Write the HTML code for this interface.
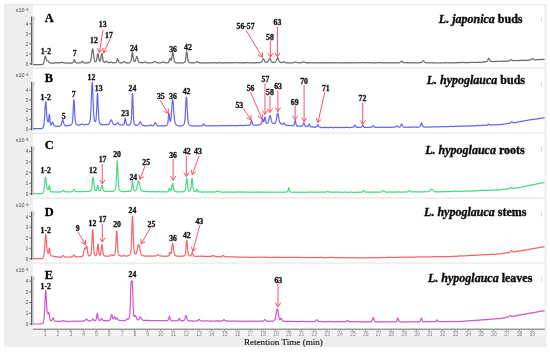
<!DOCTYPE html><html><head><meta charset="utf-8"><title>Chromatograms</title><style>html,body{margin:0;padding:0;background:#fff;}body{width:550px;height:352px;overflow:hidden;}svg{display:block;}.lb{font-family:"Liberation Serif","Times New Roman",serif;font-weight:bold;font-size:7.3px;fill:#111;stroke:#111;stroke-width:0.3px;}.tt{font-family:"Liberation Serif","Times New Roman",serif;font-weight:bold;font-size:12px;fill:#0a0a0a;stroke:#0a0a0a;stroke-width:0.35px;}.ax{font-family:"Liberation Sans",Arial,sans-serif;font-size:5.6px;fill:#444;}.xl{font-family:"Liberation Sans",Arial,sans-serif;font-size:6.4px;fill:#858585;}.rt{font-family:"Liberation Serif","Times New Roman",serif;font-size:8.4px;fill:#1a1a1a;stroke:#1a1a1a;stroke-width:0.15px;}</style></head><body>
<svg width="550" height="352" viewBox="0 0 550 352">
<rect x="0" y="0" width="550" height="352" fill="#ffffff"/>
<rect x="4" y="4" width="542.5" height="343" fill="#eeeeee"/>
<rect x="4" y="4" width="542.5" height="0.8" fill="#e4e4e4"/>
<rect x="33" y="4.8" width="511.5" height="324.2" fill="#ffffff"/>
<rect x="33" y="67.0" width="511.5" height="2" fill="#efefef"/>
<rect x="33" y="132.2" width="511.5" height="2" fill="#efefef"/>
<rect x="33" y="197.0" width="511.5" height="2" fill="#efefef"/>
<rect x="33" y="262.2" width="511.5" height="2" fill="#efefef"/>
<rect x="32.0" y="16.5" width="1.8" height="48.6" fill="#cdcdcd"/>
<rect x="31.0" y="16.5" width="1.1" height="48.6" fill="#5e5e5e"/>
<rect x="34.3" y="17.1" width="0.6" height="3.2" fill="#bbbbbb"/>
<rect x="29.2" y="63.45" width="2.2" height="0.9" fill="#666"/>
<text class="ax" x="25.7" y="65.80" textLength="2.4" lengthAdjust="spacingAndGlyphs">0</text>
<rect x="29.2" y="53.45" width="2.2" height="0.9" fill="#666"/>
<text class="ax" x="25.7" y="55.80" textLength="2.4" lengthAdjust="spacingAndGlyphs">1</text>
<rect x="29.2" y="43.45" width="2.2" height="0.9" fill="#666"/>
<text class="ax" x="25.7" y="45.80" textLength="2.4" lengthAdjust="spacingAndGlyphs">2</text>
<rect x="29.2" y="33.45" width="2.2" height="0.9" fill="#666"/>
<text class="ax" x="25.7" y="35.80" textLength="2.4" lengthAdjust="spacingAndGlyphs">3</text>
<rect x="29.2" y="23.45" width="2.2" height="0.9" fill="#666"/>
<text class="ax" x="25.7" y="25.80" textLength="2.4" lengthAdjust="spacingAndGlyphs">4</text>
<text class="ax" x="15.8" y="11.6" style="font-size:5.3px">x10</text>
<text class="ax" x="26.2" y="10.5" style="font-size:4.2px;fill:#444">6</text>
<rect x="541.2" y="17.1" width="0.7" height="4.4" fill="#c4c4c4"/>
<text class="tt" x="44.8" y="21.9" style="font-size:12.4px">A</text>
<text class="tt" x="522.5" y="22.5" text-anchor="end"><tspan font-style="italic">L. japonica</tspan> buds</text>
<polyline points="33,64.6 33.25,64.6 33.5,64.6 33.75,64.6 34.0,64.6 34.25,64.6 34.5,64.6 34.75,64.6 35.0,64.6 35.25,64.6 35.5,64.6 35.75,64.6 36.0,64.6 36.25,64.6 36.5,64.6 36.75,64.6 37.0,64.6 37.25,64.6 37.5,64.6 37.75,64.6 38.0,64.6 38.25,64.6 38.5,64.6 38.75,64.6 39.0,64.6 39.25,64.6 39.5,64.6 39.75,64.6 40.0,64.6 40.25,64.6 40.5,64.6 40.75,64.6 41.0,64.6 41.25,64.5 41.5,64.5 41.75,64.5 42.0,64.4 42.25,64.4 42.5,64.3 42.75,64.3 43.0,64.2 43.25,63.8 43.5,63.4 43.75,62.7 44.0,61.9 44.25,60.7 44.5,59.2 44.75,58.0 45.0,56.9 45.25,56.3 45.5,56.4 45.75,57.0 46.0,58.1 46.25,59.2 46.5,59.8 46.75,60.4 47.0,60.5 47.25,60.7 47.5,60.8 47.75,60.8 48.0,60.9 48.25,61.2 48.5,61.7 48.75,62.0 49.0,62.4 49.25,62.5 49.5,62.6 49.75,62.8 50.0,62.9 50.25,62.9 50.5,63.1 50.75,63.2 51.0,63.1 51.25,63.1 51.5,63.2 51.75,63.2 52.0,63.3 52.25,63.2 52.5,63.3 52.75,63.3 53.0,63.2 53.25,63.1 53.5,63.1 53.75,63.0 54.0,63.1 54.25,62.9 54.5,63.0 54.75,62.9 55.0,62.9 55.25,62.8 55.5,62.6 55.75,62.7 56.0,62.6 56.25,62.8 56.5,62.7 56.75,62.7 57.0,62.8 57.25,62.8 57.5,62.9 57.75,63.0 58.0,63.0 58.25,62.9 58.5,63.0 58.75,62.9 59.0,62.9 59.25,63.0 59.5,63.1 59.75,62.9 60.0,62.8 60.25,62.8 60.5,62.7 60.75,62.7 61.0,62.6 61.25,62.5 61.5,62.4 61.75,62.3 62.0,62.3 62.25,62.2 62.5,62.2 62.75,62.3 63.0,62.6 63.25,62.7 63.5,62.8 63.75,62.8 64.0,62.8 64.25,62.9 64.5,62.9 64.75,62.9 65.0,62.8 65.25,62.9 65.5,63.1 65.75,63.1 66.0,63.2 66.25,63.0 66.5,63.1 66.75,63.1 67.0,62.9 67.25,62.8 67.5,63.0 67.75,63.1 68.0,62.9 68.25,63.0 68.5,63.1 68.75,63.0 69.0,63.1 69.25,62.9 69.5,62.9 69.75,63.0 70.0,63.1 70.25,63.1 70.5,63.1 70.75,63.1 71.0,63.0 71.25,63.0 71.5,63.1 71.75,63.0 72.0,62.9 72.25,62.7 72.5,62.7 72.75,62.7 73.0,62.4 73.25,61.9 73.5,61.1 73.75,60.4 74.0,59.6 74.25,59.5 74.5,59.8 74.75,60.7 75.0,61.6 75.25,62.2 75.5,62.4 75.75,62.6 76.0,62.7 76.25,62.9 76.5,63.0 76.75,63.1 77.0,63.1 77.25,63.0 77.5,63.0 77.75,63.0 78.0,63.0 78.25,62.9 78.5,62.8 78.75,62.8 79.0,62.8 79.25,62.9 79.5,63.0 79.75,62.9 80.0,63.0 80.25,63.0 80.5,62.9 80.75,62.8 81.0,62.7 81.25,62.5 81.5,62.2 81.75,61.9 82.0,61.5 82.25,61.2 82.5,61.3 82.75,61.6 83.0,62.0 83.25,62.3 83.5,62.7 83.75,62.9 84.0,63.0 84.25,63.0 84.5,63.0 84.75,62.9 85.0,62.8 85.25,62.8 85.5,62.9 85.75,63.0 86.0,63.1 86.25,63.1 86.5,62.9 86.75,63.0 87.0,62.8 87.25,62.8 87.5,62.8 87.75,62.9 88.0,62.7 88.25,62.8 88.5,62.7 88.75,62.7 89.0,62.6 89.25,62.6 89.5,62.5 89.75,62.1 90.0,62.1 90.25,61.7 90.5,61.3 90.75,60.6 91.0,59.3 91.25,57.6 91.5,55.8 91.75,53.5 92.0,51.3 92.25,49.6 92.5,48.9 92.75,48.9 93.0,50.0 93.25,51.7 93.5,53.9 93.75,56.0 94.0,58.0 94.25,59.4 94.5,60.5 94.75,61.0 95.0,61.3 95.25,61.6 95.5,61.8 95.75,61.8 96.0,61.5 96.25,61.3 96.5,60.6 96.75,59.6 97.0,57.9 97.25,56.1 97.5,54.6 97.75,53.7 98.0,53.6 98.25,54.3 98.5,55.8 98.75,57.4 99.0,59.1 99.25,60.1 99.5,61.0 99.75,61.2 100.0,61.2 100.25,60.9 100.5,59.9 100.75,58.9 101.0,57.3 101.25,55.6 101.5,54.2 101.75,53.5 102.0,54.0 102.25,55.0 102.5,56.6 102.75,58.4 103.0,60.0 103.25,61.1 103.5,61.6 103.75,61.9 104.0,62.1 104.25,62.4 104.5,62.5 104.75,62.4 105.0,62.3 105.25,62.3 105.5,62.0 105.75,61.7 106.0,61.6 106.25,61.3 106.5,61.2 106.75,61.2 107.0,61.4 107.25,61.9 107.5,62.1 107.75,62.3 108.0,62.5 108.25,62.6 108.5,62.7 108.75,62.7 109.0,62.7 109.25,62.8 109.5,62.7 109.75,62.6 110.0,62.4 110.25,62.3 110.5,62.1 110.75,62.0 111.0,62.0 111.25,62.0 111.5,62.2 111.75,62.3 112.0,62.5 112.25,62.7 112.5,62.7 112.75,62.9 113.0,63.0 113.25,62.8 113.5,62.9 113.75,62.8 114.0,62.8 114.25,62.7 114.5,62.8 114.75,62.7 115.0,62.7 115.25,62.8 115.5,62.8 115.75,62.7 116.0,62.6 116.25,62.4 116.5,61.9 116.75,61.2 117.0,60.2 117.25,59.3 117.5,58.6 117.75,58.7 118.0,59.4 118.25,60.5 118.5,61.4 118.75,61.9 119.0,62.3 119.25,62.6 119.5,62.7 119.75,62.8 120.0,62.7 120.25,62.8 120.5,62.7 120.75,62.8 121.0,62.9 121.25,62.9 121.5,62.8 121.75,62.9 122.0,62.9 122.25,62.8 122.5,62.6 122.75,62.5 123.0,62.3 123.25,62.1 123.5,61.8 123.75,61.7 124.0,61.5 124.25,61.5 124.5,61.9 124.75,62.0 125.0,62.3 125.25,62.4 125.5,62.5 125.75,62.6 126.0,62.7 126.25,62.7 126.5,62.9 126.75,63.0 127.0,62.9 127.25,63.0 127.5,63.1 127.75,63.1 128.0,63.1 128.25,63.0 128.5,63.0 128.75,62.8 129.0,62.8 129.25,62.8 129.5,62.6 129.75,62.5 130.0,62.3 130.25,62.1 130.5,61.9 130.75,61.6 131.0,61.1 131.25,59.9 131.5,58.4 131.75,56.2 132.0,54.1 132.25,52.7 132.5,52.4 132.75,53.4 133.0,55.5 133.25,57.7 133.5,59.5 133.75,60.6 134.0,61.4 134.25,61.5 134.5,61.7 134.75,61.5 135.0,61.3 135.25,61.0 135.5,60.2 135.75,59.4 136.0,58.6 136.25,57.6 136.5,56.8 136.75,56.5 137.0,56.7 137.25,57.3 137.5,58.2 137.75,59.1 138.0,60.0 138.25,60.7 138.5,61.4 138.75,62.0 139.0,62.3 139.25,62.3 139.5,62.3 139.75,62.5 140.0,62.5 140.25,62.5 140.5,62.6 140.75,62.6 141.0,62.7 141.25,62.7 141.5,62.7 141.75,62.7 142.0,62.9 142.25,62.8 142.5,62.7 142.75,62.8 143.0,62.7 143.25,62.5 143.5,62.7 143.75,62.4 144.0,62.5 144.25,62.2 144.5,62.0 144.75,61.9 145.0,61.9 145.25,62.0 145.5,62.1 145.75,62.2 146.0,62.4 146.25,62.5 146.5,62.8 146.75,62.7 147.0,62.8 147.25,62.9 147.5,62.9 147.75,62.9 148.0,62.9 148.25,62.9 148.5,63.0 148.75,63.0 149.0,63.0 149.25,62.8 149.5,62.7 149.75,62.9 150.0,62.8 150.25,62.8 150.5,62.8 150.75,63.0 151.0,62.9 151.25,62.8 151.5,62.7 151.75,62.7 152.0,62.8 152.25,62.8 152.5,62.9 152.75,62.6 153.0,62.6 153.25,62.4 153.5,62.2 153.75,62.0 154.0,61.8 154.25,61.8 154.5,61.7 154.75,61.6 155.0,61.4 155.25,61.6 155.5,61.6 155.75,61.9 156.0,61.9 156.25,62.1 156.5,62.3 156.75,62.6 157.0,62.8 157.25,62.9 157.5,62.9 157.75,62.9 158.0,63.0 158.25,62.8 158.5,62.9 158.75,63.0 159.0,62.9 159.25,63.0 159.5,63.0 159.75,62.9 160.0,62.8 160.25,62.9 160.5,62.9 160.75,63.0 161.0,63.0 161.25,62.9 161.5,62.8 161.75,62.6 162.0,62.6 162.25,62.4 162.5,62.3 162.75,62.2 163.0,62.0 163.25,61.9 163.5,62.2 163.75,62.4 164.0,62.4 164.25,62.5 164.5,62.5 164.75,62.5 165.0,62.8 165.25,62.9 165.5,62.8 165.75,62.7 166.0,62.8 166.25,62.9 166.5,62.8 166.75,62.8 167.0,62.7 167.25,62.8 167.5,62.9 167.75,62.9 168.0,62.9 168.25,62.7 168.5,62.3 168.75,62.0 169.0,61.3 169.25,60.3 169.5,59.5 169.75,58.7 170.0,58.4 170.25,58.4 170.5,59.1 170.75,59.8 171.0,60.4 171.25,60.3 171.5,59.4 171.75,58.3 172.0,56.6 172.25,54.8 172.5,53.1 172.75,52.3 173.0,52.7 173.25,54.1 173.5,55.8 173.75,57.8 174.0,59.6 174.25,60.9 174.5,61.7 174.75,62.1 175.0,62.3 175.25,62.5 175.5,62.7 175.75,62.6 176.0,62.6 176.25,62.8 176.5,62.9 176.75,62.8 177.0,62.7 177.25,62.7 177.5,62.9 177.75,63.0 178.0,63.0 178.25,62.8 178.5,62.8 178.75,62.9 179.0,62.8 179.25,62.9 179.5,62.8 179.75,62.8 180.0,62.8 180.25,62.9 180.5,63.0 180.75,62.8 181.0,62.8 181.25,62.9 181.5,63.0 181.75,63.0 182.0,63.0 182.25,63.1 182.5,62.9 182.75,62.9 183.0,62.8 183.25,62.6 183.5,62.8 183.75,62.7 184.0,62.5 184.25,62.4 184.5,62.4 184.75,62.3 185.0,62.0 185.25,61.4 185.5,60.2 185.75,58.3 186.0,56.0 186.25,53.7 186.5,52.1 186.75,51.6 187.0,52.5 187.25,54.6 187.5,57.1 187.75,59.2 188.0,60.5 188.25,61.5 188.5,62.0 188.75,62.2 189.0,62.3 189.25,62.6 189.5,62.6 189.75,62.8 190.0,62.7 190.25,62.8 190.5,62.7 190.75,62.8 191.0,62.9 191.25,62.8 191.5,62.9 191.75,63.0 192.0,62.9 192.25,63.0 192.5,62.9 192.75,63.0 193.0,62.9 193.25,62.8 193.5,62.9 193.75,62.8 194.0,62.7 194.25,62.8 194.5,62.8 194.75,62.8 195.0,62.7 195.25,62.7 195.5,62.6 195.75,62.3 196.0,62.1 196.25,62.0 196.5,61.9 196.75,61.7 197.0,61.7 197.25,61.6 197.5,61.7 197.75,62.0 198.0,62.3 198.25,62.6 198.5,62.7 198.75,62.7 199.0,62.6 199.25,62.7 199.5,62.7 199.75,62.7 200.0,62.7 200.25,62.7 200.5,62.8 200.75,62.7 201.0,62.9 201.25,62.9 201.5,62.9 201.75,62.9 202.0,63.0 202.25,63.1 202.5,62.9 202.75,63.0 203.0,62.8 203.25,62.9 203.5,62.8 203.75,62.7 204.0,62.7 204.25,62.9 204.5,62.8 204.75,62.9 205.0,62.8 205.25,62.8 205.5,62.9 205.75,62.9 206.0,62.7 206.25,62.8 206.5,62.8 206.75,62.8 207.0,63.0 207.25,63.1 207.5,63.0 207.75,62.8 208.0,62.8 208.25,62.9 208.5,62.9 208.75,62.8 209.0,62.9 209.25,62.9 209.5,62.8 209.75,62.7 210.0,62.9 210.25,63.0 210.5,63.0 210.75,63.0 211.0,62.9 211.25,62.9 211.5,62.8 211.75,62.9 212.0,62.8 212.25,62.7 212.5,62.6 212.75,62.6 213.0,62.6 213.25,62.6 213.5,62.7 213.75,62.9 214.0,62.8 214.25,62.7 214.5,62.7 214.75,62.9 215.0,62.7 215.25,62.9 215.5,62.9 215.75,62.9 216.0,62.9 216.25,63.0 216.5,63.0 216.75,63.1 217.0,63.1 217.25,62.9 217.5,62.8 217.75,62.9 218.0,62.8 218.25,62.7 218.5,62.8 218.75,62.7 219.0,62.6 219.25,62.6 219.5,62.7 219.75,62.7 220.0,62.8 220.25,62.9 220.5,63.0 220.75,62.9 221.0,63.0 221.25,63.0 221.5,62.9 221.75,62.9 222.0,62.7 222.25,62.8 222.5,62.9 222.75,62.9 223.0,62.9 223.25,62.9 223.5,63.0 223.75,62.9 224.0,62.7 224.25,62.9 224.5,62.9 224.75,62.8 225.0,62.7 225.25,62.7 225.5,62.7 225.75,62.7 226.0,62.9 226.25,62.8 226.5,62.7 226.75,62.8 227.0,62.7 227.25,62.7 227.5,62.7 227.75,62.9 228.0,63.0 228.25,63.0 228.5,62.8 228.75,62.7 229.0,62.8 229.25,62.9 229.5,63.0 229.75,62.9 230.0,62.9 230.25,62.7 230.5,62.6 230.75,62.6 231.0,62.8 231.25,62.9 231.5,62.8 231.75,62.8 232.0,62.8 232.25,62.7 232.5,62.6 232.75,62.8 233.0,62.7 233.25,62.7 233.5,62.7 233.75,62.8 234.0,62.8 234.25,62.8 234.5,62.7 234.75,62.8 235.0,62.8 235.25,62.7 235.5,62.7 235.75,62.7 236.0,62.7 236.25,62.7 236.5,62.7 236.75,62.6 237.0,62.6 237.25,62.6 237.5,62.5 237.75,62.6 238.0,62.7 238.25,62.7 238.5,62.8 238.75,62.9 239.0,62.9 239.25,62.9 239.5,62.9 239.75,62.7 240.0,62.9 240.25,62.9 240.5,62.8 240.75,62.7 241.0,62.8 241.25,62.6 241.5,62.7 241.75,62.9 242.0,62.9 242.25,63.0 242.5,63.0 242.75,63.0 243.0,62.9 243.25,63.0 243.5,62.9 243.75,62.7 244.0,62.8 244.25,62.8 244.5,62.9 244.75,62.9 245.0,62.8 245.25,62.8 245.5,62.6 245.75,62.7 246.0,62.6 246.25,62.7 246.5,62.8 246.75,62.7 247.0,62.7 247.25,62.7 247.5,62.7 247.75,62.6 248.0,62.6 248.25,62.8 248.5,62.9 248.75,62.8 249.0,62.7 249.25,62.7 249.5,62.8 249.75,62.8 250.0,62.8 250.25,62.7 250.5,62.8 250.75,62.7 251.0,62.8 251.25,62.9 251.5,62.7 251.75,62.7 252.0,62.6 252.25,62.8 252.5,62.8 252.75,62.9 253.0,62.9 253.25,63.0 253.5,62.8 253.75,62.9 254.0,62.9 254.25,62.9 254.5,62.8 254.75,62.9 255.0,62.8 255.25,62.6 255.5,62.8 255.75,62.8 256.0,62.9 256.25,62.7 256.5,62.7 256.75,62.7 257.0,62.7 257.25,62.7 257.5,62.8 257.75,62.7 258.0,62.8 258.25,62.8 258.5,62.7 258.75,62.8 259.0,62.8 259.25,62.7 259.5,62.7 259.75,62.7 260.0,62.8 260.25,62.6 260.5,62.4 260.75,62.4 261.0,62.2 261.25,62.2 261.5,62.0 261.75,61.7 262.0,61.1 262.25,60.7 262.5,60.0 262.75,59.5 263.0,59.2 263.25,58.9 263.5,58.9 263.75,59.0 264.0,59.3 264.25,59.9 264.5,60.4 264.75,61.1 265.0,61.4 265.25,61.9 265.5,62.0 265.75,62.1 266.0,62.3 266.25,62.5 266.5,62.4 266.75,62.2 267.0,62.3 267.25,62.1 267.5,62.0 267.75,61.8 268.0,61.7 268.25,61.2 268.5,60.9 268.75,60.2 269.0,59.6 269.25,59.0 269.5,58.8 269.75,58.6 270.0,58.7 270.25,59.0 270.5,59.4 270.75,60.0 271.0,60.7 271.25,61.2 271.5,61.5 271.75,61.8 272.0,62.2 272.25,62.4 272.5,62.3 272.75,62.5 273.0,62.4 273.25,62.4 273.5,62.5 273.75,62.6 274.0,62.4 274.25,62.4 274.5,62.4 274.75,62.3 275.0,62.3 275.25,62.2 275.5,61.9 275.75,61.6 276.0,61.2 276.25,60.7 276.5,60.1 276.75,59.5 277.0,58.7 277.25,58.1 277.5,57.7 277.75,57.7 278.0,58.0 278.25,58.6 278.5,59.4 278.75,60.2 279.0,60.9 279.25,61.3 279.5,61.8 279.75,62.0 280.0,62.2 280.25,62.5 280.5,62.4 280.75,62.5 281.0,62.6 281.25,62.7 281.5,62.5 281.75,62.4 282.0,62.4 282.25,62.4 282.5,62.3 282.75,62.4 283.0,62.3 283.25,62.1 283.5,61.9 283.75,61.7 284.0,61.7 284.25,61.9 284.5,62.0 284.75,62.1 285.0,62.3 285.25,62.5 285.5,62.7 285.75,62.7 286.0,62.8 286.25,62.8 286.5,62.8 286.75,62.7 287.0,62.7 287.25,62.9 287.5,62.8 287.75,62.8 288.0,62.9 288.25,62.8 288.5,62.9 288.75,62.8 289.0,62.8 289.25,62.9 289.5,62.9 289.75,62.8 290.0,62.8 290.25,62.7 290.5,62.8 290.75,62.8 291.0,62.9 291.25,62.9 291.5,62.8 291.75,62.8 292.0,62.9 292.25,62.8 292.5,62.8 292.75,62.7 293.0,62.6 293.25,62.6 293.5,62.7 293.75,62.7 294.0,62.5 294.25,62.5 294.5,62.3 294.75,62.1 295.0,62.1 295.25,62.0 295.5,62.0 295.75,62.0 296.0,62.2 296.25,62.3 296.5,62.4 296.75,62.6 297.0,62.6 297.25,62.6 297.5,62.6 297.75,62.5 298.0,62.6 298.25,62.6 298.5,62.7 298.75,62.7 299.0,62.8 299.25,62.8 299.5,62.8 299.75,62.9 300.0,62.8 300.25,62.9 300.5,62.7 300.75,62.6 301.0,62.7 301.25,62.7 301.5,62.8 301.75,62.6 302.0,62.5 302.25,62.4 302.5,62.5 302.75,62.2 303.0,62.0 303.25,61.9 303.5,62.0 303.75,61.9 304.0,61.9 304.25,62.0 304.5,62.1 304.75,62.4 305.0,62.6 305.25,62.5 305.5,62.6 305.75,62.6 306.0,62.7 306.25,62.9 306.5,62.9 306.75,62.8 307.0,62.7 307.25,62.9 307.5,63.0 307.75,62.8 308.0,62.8 308.25,62.9 308.5,62.8 308.75,62.8 309.0,62.9 309.25,62.9 309.5,62.7 309.75,62.8 310.0,62.7 310.25,62.6 310.5,62.5 310.75,62.7 311.0,62.7 311.25,62.7 311.5,62.7 311.75,62.8 312.0,62.7 312.25,62.7 312.5,62.7 312.75,62.8 313.0,62.8 313.25,62.9 313.5,62.9 313.75,62.7 314.0,62.8 314.25,63.0 314.5,62.9 314.75,62.9 315.0,62.7 315.25,62.9 315.5,62.8 315.75,62.9 316.0,62.9 316.25,62.9 316.5,62.9 316.75,62.8 317.0,62.9 317.25,63.0 317.5,63.0 317.75,63.0 318.0,62.8 318.25,62.7 318.5,62.9 318.75,62.8 319.0,62.7 319.25,62.8 319.5,62.8 319.75,62.7 320.0,62.7 320.25,62.7 320.5,62.9 320.75,63.0 321.0,62.8 321.25,62.8 321.5,62.9 321.75,62.9 322.0,62.8 322.25,62.8 322.5,62.9 322.75,62.7 323.0,62.9 323.25,63.0 323.5,62.9 323.75,63.0 324.0,62.9 324.25,62.9 324.5,62.7 324.75,62.8 325.0,62.7 325.25,62.8 325.5,62.7 325.75,62.8 326.0,62.7 326.25,62.6 326.5,62.8 326.75,62.8 327.0,62.7 327.25,62.9 327.5,63.0 327.75,62.9 328.0,62.8 328.25,62.9 328.5,62.7 328.75,62.8 329.0,62.9 329.25,62.8 329.5,62.7 329.75,62.8 330.0,62.9 330.25,62.8 330.5,62.7 330.75,62.9 331.0,62.7 331.25,62.7 331.5,62.7 331.75,62.7 332.0,62.8 332.25,62.7 332.5,62.7 332.75,62.7 333.0,62.8 333.25,62.7 333.5,62.9 333.75,62.8 334.0,62.9 334.25,62.7 334.5,62.8 334.75,62.8 335.0,62.8 335.25,62.8 335.5,62.7 335.75,62.6 336.0,62.8 336.25,62.8 336.5,62.7 336.75,62.7 337.0,62.7 337.25,62.9 337.5,62.8 337.75,62.9 338.0,62.8 338.25,62.7 338.5,62.6 338.75,62.6 339.0,62.8 339.25,62.8 339.5,62.8 339.75,62.9 340.0,63.0 340.25,63.0 340.5,63.0 340.75,63.0 341.0,62.9 341.25,62.8 341.5,62.8 341.75,62.9 342.0,62.8 342.25,62.8 342.5,62.8 342.75,62.7 343.0,62.8 343.25,62.8 343.5,62.8 343.75,62.9 344.0,62.9 344.25,62.7 344.5,62.8 344.75,62.8 345.0,62.9 345.25,62.8 345.5,62.8 345.75,62.9 346.0,62.8 346.25,62.7 346.5,62.7 346.75,62.8 347.0,62.9 347.25,62.9 347.5,62.7 347.75,62.8 348.0,62.7 348.25,62.7 348.5,62.6 348.75,62.7 349.0,62.7 349.25,62.9 349.5,63.0 349.75,63.0 350.0,63.1 350.25,63.0 350.5,62.9 350.75,62.9 351.0,62.7 351.25,62.9 351.5,62.7 351.75,62.7 352.0,62.8 352.25,62.7 352.5,62.8 352.75,62.9 353.0,62.9 353.25,62.9 353.5,62.8 353.75,62.8 354.0,62.8 354.25,62.7 354.5,62.8 354.75,62.8 355.0,62.8 355.25,62.7 355.5,62.7 355.75,62.8 356.0,62.8 356.25,62.8 356.5,62.8 356.75,62.8 357.0,62.7 357.25,62.8 357.5,62.7 357.75,62.6 358.0,62.8 358.25,62.7 358.5,62.8 358.75,62.7 359.0,62.7 359.25,62.7 359.5,62.9 359.75,62.9 360.0,62.7 360.25,62.9 360.5,62.9 360.75,62.8 361.0,62.8 361.25,62.9 361.5,62.9 361.75,62.8 362.0,62.8 362.25,62.7 362.5,62.6 362.75,62.7 363.0,62.7 363.25,62.7 363.5,62.7 363.75,62.7 364.0,62.7 364.25,62.7 364.5,62.8 364.75,62.8 365.0,62.8 365.25,62.7 365.5,62.8 365.75,62.9 366.0,62.9 366.25,63.0 366.5,62.8 366.75,62.7 367.0,62.6 367.25,62.6 367.5,62.7 367.75,62.6 368.0,62.7 368.25,62.8 368.5,62.8 368.75,62.7 369.0,62.9 369.25,62.7 369.5,62.7 369.75,62.7 370.0,62.7 370.25,62.7 370.5,62.7 370.75,62.9 371.0,62.9 371.25,62.9 371.5,63.0 371.75,62.9 372.0,62.9 372.25,62.9 372.5,62.9 372.75,62.9 373.0,62.8 373.25,62.9 373.5,62.9 373.75,62.9 374.0,63.0 374.25,63.0 374.5,63.0 374.75,62.9 375.0,62.8 375.25,62.9 375.5,63.0 375.75,62.8 376.0,62.8 376.25,62.9 376.5,63.0 376.75,62.8 377.0,62.7 377.25,62.6 377.5,62.7 377.75,62.7 378.0,62.8 378.25,62.7 378.5,62.7 378.75,62.7 379.0,62.6 379.25,62.7 379.5,62.6 379.75,62.6 380.0,62.7 380.25,62.7 380.5,62.6 380.75,62.7 381.0,62.8 381.25,62.8 381.5,62.9 381.75,63.0 382.0,63.0 382.25,62.8 382.5,62.8 382.75,62.7 383.0,62.8 383.25,62.9 383.5,63.0 383.75,62.8 384.0,62.8 384.25,62.7 384.5,62.6 384.75,62.7 385.0,62.8 385.25,62.8 385.5,62.9 385.75,62.9 386.0,62.8 386.25,62.9 386.5,62.9 386.75,62.8 387.0,62.9 387.25,62.9 387.5,62.9 387.75,62.8 388.0,62.7 388.25,62.8 388.5,62.9 388.75,62.7 389.0,62.7 389.25,62.8 389.5,62.8 389.75,62.8 390.0,62.9 390.25,62.9 390.5,63.0 390.75,62.9 391.0,62.8 391.25,62.7 391.5,62.8 391.75,62.7 392.0,62.7 392.25,62.8 392.5,62.9 392.75,62.8 393.0,62.9 393.25,62.9 393.5,63.0 393.75,62.9 394.0,62.7 394.25,62.8 394.5,62.9 394.75,62.9 395.0,62.8 395.25,62.7 395.5,62.8 395.75,62.9 396.0,62.8 396.25,62.9 396.5,62.9 396.75,62.9 397.0,62.8 397.25,62.7 397.5,62.8 397.75,62.9 398.0,63.0 398.25,62.9 398.5,62.9 398.75,62.9 399.0,62.8 399.25,62.6 399.5,62.6 399.75,62.6 400.0,62.5 400.25,62.4 400.5,62.2 400.75,62.0 401.0,61.7 401.25,61.3 401.5,61.1 401.75,61.2 402.0,61.1 402.25,61.4 402.5,61.7 402.75,62.1 403.0,62.3 403.25,62.4 403.5,62.4 403.75,62.4 404.0,62.6 404.25,62.8 404.5,62.8 404.75,62.8 405.0,62.7 405.25,62.6 405.5,62.6 405.75,62.7 406.0,62.8 406.25,62.9 406.5,62.7 406.75,62.7 407.0,62.7 407.25,62.6 407.5,62.8 407.75,62.8 408.0,62.9 408.25,62.9 408.5,62.7 408.75,62.7 409.0,62.7 409.25,62.8 409.5,62.7 409.75,62.8 410.0,62.9 410.25,62.7 410.5,62.7 410.75,62.8 411.0,62.8 411.25,62.8 411.5,62.8 411.75,62.6 412.0,62.7 412.25,62.8 412.5,62.7 412.75,62.8 413.0,63.0 413.25,62.8 413.5,62.9 413.75,62.9 414.0,62.9 414.25,62.9 414.5,62.8 414.75,62.8 415.0,62.9 415.25,62.7 415.5,62.7 415.75,62.9 416.0,62.7 416.25,62.6 416.5,62.8 416.75,62.8 417.0,63.0 417.25,62.9 417.5,63.0 417.75,63.0 418.0,62.9 418.25,62.9 418.5,63.0 418.75,62.8 419.0,62.7 419.25,62.8 419.5,62.7 419.75,62.7 420.0,62.6 420.25,62.5 420.5,62.6 420.75,62.6 421.0,62.7 421.25,62.7 421.5,62.5 421.75,62.4 422.0,62.1 422.25,61.7 422.5,61.3 422.75,61.0 423.0,60.8 423.25,60.7 423.5,60.8 423.75,60.9 424.0,61.3 424.25,61.8 424.5,61.9 424.75,62.2 425.0,62.4 425.25,62.6 425.5,62.5 425.75,62.6 426.0,62.7 426.25,62.8 426.5,62.9 426.75,62.8 427.0,62.7 427.25,62.7 427.5,62.7 427.75,62.7 428.0,62.8 428.25,62.9 428.5,62.8 428.75,62.8 429.0,62.9 429.25,62.9 429.5,63.0 429.75,63.0 430.0,63.0 430.25,63.0 430.5,62.8 430.75,62.8 431.0,62.7 431.25,62.7 431.5,62.7 431.75,62.7 432.0,62.8 432.25,62.9 432.5,62.9 432.75,62.8 433.0,62.7 433.25,62.9 433.5,63.0 433.75,62.8 434.0,62.7 434.25,62.7 434.5,62.8 434.75,62.7 435.0,62.8 435.25,62.8 435.5,62.8 435.75,62.9 436.0,62.8 436.25,62.9 436.5,62.9 436.75,63.0 437.0,63.0 437.25,63.0 437.5,63.0 437.75,63.0 438.0,63.0 438.25,62.8 438.5,62.9 438.75,62.9 439.0,62.8 439.25,63.0 439.5,62.8 439.75,62.8 440.0,62.9 440.25,62.7 440.5,62.9 440.75,62.9 441.0,62.8 441.25,62.8 441.5,62.8 441.75,62.9 442.0,63.0 442.25,63.0 442.5,63.0 442.75,63.0 443.0,62.9 443.25,62.9 443.5,63.0 443.75,63.0 444.0,63.0 444.25,62.9 444.5,62.7 444.75,62.8 445.0,62.8 445.25,62.7 445.5,62.7 445.75,62.8 446.0,62.8 446.25,62.8 446.5,62.8 446.75,62.9 447.0,62.9 447.25,62.7 447.5,62.6 447.75,62.7 448.0,62.8 448.25,62.9 448.5,62.7 448.75,62.8 449.0,62.7 449.25,62.7 449.5,62.6 449.75,62.6 450.0,62.7 450.25,62.8 450.5,62.8 450.75,62.9 451.0,62.9 451.25,62.9 451.5,62.9 451.75,63.0 452.0,63.0 452.25,62.8 452.5,62.9 452.75,62.7 453.0,62.6 453.25,62.7 453.5,62.8 453.75,62.9 454.0,62.9 454.25,62.9 454.5,62.7 454.75,62.8 455.0,62.9 455.25,62.9 455.5,62.9 455.75,62.7 456.0,62.8 456.25,62.9 456.5,62.7 456.75,62.7 457.0,62.6 457.25,62.5 457.5,62.7 457.75,62.6 458.0,62.7 458.25,62.7 458.5,62.6 458.75,62.6 459.0,62.8 459.25,62.7 459.5,62.5 459.75,62.4 460.0,62.5 460.25,62.4 460.5,62.4 460.75,62.6 461.0,62.6 461.25,62.7 461.5,62.6 461.75,62.7 462.0,62.5 462.25,62.5 462.5,62.4 462.75,62.5 463.0,62.5 463.25,62.4 463.5,62.6 463.75,62.7 464.0,62.7 464.25,62.6 464.5,62.6 464.75,62.7 465.0,62.6 465.25,62.6 465.5,62.5 465.75,62.5 466.0,62.6 466.25,62.6 466.5,62.6 466.75,62.4 467.0,62.5 467.25,62.6 467.5,62.7 467.75,62.5 468.0,62.6 468.25,62.5 468.5,62.5 468.75,62.5 469.0,62.6 469.25,62.5 469.5,62.5 469.75,62.5 470.0,62.6 470.25,62.6 470.5,62.6 470.75,62.4 471.0,62.5 471.25,62.4 471.5,62.3 471.75,62.3 472.0,62.4 472.25,62.4 472.5,62.3 472.75,62.3 473.0,62.3 473.25,62.3 473.5,62.3 473.75,62.4 474.0,62.5 474.25,62.5 474.5,62.5 474.75,62.5 475.0,62.5 475.25,62.5 475.5,62.6 475.75,62.4 476.0,62.3 476.25,62.4 476.5,62.3 476.75,62.4 477.0,62.5 477.25,62.4 477.5,62.4 477.75,62.3 478.0,62.2 478.25,62.3 478.5,62.4 478.75,62.4 479.0,62.5 479.25,62.4 479.5,62.5 479.75,62.4 480.0,62.5 480.25,62.5 480.5,62.5 480.75,62.3 481.0,62.2 481.25,62.2 481.5,62.2 481.75,62.3 482.0,62.3 482.25,62.2 482.5,62.1 482.75,62.0 483.0,61.9 483.25,62.1 483.5,62.2 483.75,62.0 484.0,61.9 484.25,61.9 484.5,62.0 484.75,61.9 485.0,61.7 485.25,61.8 485.5,61.7 485.75,61.7 486.0,61.8 486.25,61.7 486.5,61.5 486.75,61.5 487.0,61.3 487.25,61.1 487.5,60.7 487.75,60.2 488.0,59.6 488.25,59.0 488.5,58.4 488.75,58.2 489.0,58.6 489.25,58.9 489.5,59.5 489.75,60.0 490.0,60.5 490.25,61.0 490.5,61.3 490.75,61.3 491.0,61.4 491.25,61.3 491.5,61.3 491.75,61.4 492.0,61.4 492.25,61.5 492.5,61.6 492.75,61.6 493.0,61.5 493.25,61.6 493.5,61.7 493.75,61.5 494.0,61.5 494.25,61.4 494.5,61.5 494.75,61.5 495.0,61.5 495.25,61.4 495.5,61.3 495.75,61.4 496.0,61.3 496.25,61.3 496.5,61.2 496.75,61.3 497.0,61.4 497.25,61.5 497.5,61.6 497.75,61.6 498.0,61.4 498.25,61.4 498.5,61.5 498.75,61.3 499.0,61.4 499.25,61.4 499.5,61.4 499.75,61.3 500.0,61.2 500.25,61.1 500.5,61.1 500.75,61.3 501.0,61.2 501.25,61.3 501.5,61.3 501.75,61.4 502.0,61.3 502.25,61.2 502.5,61.1 502.75,61.1 503.0,61.2 503.25,61.1 503.5,61.0 503.75,61.1 504.0,61.2 504.25,61.3 504.5,61.4 504.75,61.4 505.0,61.3 505.25,61.2 505.5,61.1 505.75,61.0 506.0,61.0 506.25,61.1 506.5,61.1 506.75,61.1 507.0,61.2 507.25,61.2 507.5,61.2 507.75,61.2 508.0,61.2 508.25,61.1 508.5,60.9 508.75,60.9 509.0,60.7 509.25,60.9 509.5,60.7 509.75,60.6 510.0,60.2 510.25,59.9 510.5,59.8 510.75,59.6 511.0,59.6 511.25,59.6 511.5,59.9 511.75,60.0 512.0,60.1 512.25,60.5 512.5,60.6 512.75,60.6 513.0,60.7 513.25,60.7 513.5,60.6 513.75,60.7 514.0,60.7 514.25,60.6 514.5,60.7 514.75,60.8 515.0,60.7 515.25,60.6 515.5,60.5 515.75,60.5 516.0,60.5 516.25,60.5 516.5,60.5 516.75,60.4 517.0,60.6 517.25,60.7 517.5,60.6 517.75,60.6 518.0,60.7 518.25,60.7 518.5,60.6 518.75,60.5 519.0,60.5 519.25,60.6 519.5,60.6 519.75,60.6 520.0,60.4 520.25,60.4 520.5,60.5 520.75,60.4 521.0,60.4 521.25,60.4 521.5,60.4 521.75,60.4 522.0,60.5 522.25,60.5 522.5,60.3 522.75,60.2 523.0,60.2 523.25,60.4 523.5,60.3 523.75,60.2 524.0,60.3 524.25,60.4 524.5,60.3 524.75,60.2 525.0,60.4 525.25,60.4 525.5,60.3 525.75,60.3 526.0,60.4 526.25,60.4 526.5,60.4 526.75,60.4 527.0,60.4 527.25,60.2 527.5,60.3 527.75,60.3 528.0,60.4 528.25,60.2 528.5,60.0 528.75,60.2 529.0,60.2 529.25,60.0 529.5,60.0 529.75,59.8 530.0,60.0 530.25,59.9 530.5,60.0 530.75,59.8 531.0,59.8 531.25,59.6 531.5,59.4 531.75,59.3 532.0,59.0 532.25,58.7 532.5,58.7 532.75,58.6 533.0,58.8 533.25,58.9 533.5,59.1 533.75,59.4 534.0,59.6 534.25,59.8 534.5,59.7 534.75,59.6 535.0,59.6 535.25,59.8 535.5,59.9 535.75,59.8 536.0,59.8 536.25,59.7 536.5,59.8 536.75,59.6 537.0,59.8 537.25,59.8 537.5,59.6 537.75,59.7 538.0,59.8 538.25,59.7 538.5,59.6 538.75,59.6 539.0,59.7 539.25,59.6 539.5,59.4 539.75,59.5 540.0,59.6 540.25,59.7 540.5,59.6 540.75,59.6 541.0,59.6 541.25,59.7 541.5,59.5 541.75,59.5 542.0,59.4 542.25,59.4 542.5,59.3 542.75,59.4 543.0,59.4 543.25,59.5 543.5,59.3 543.75,59.4 544.0,59.5 544.25,59.4 544.5,59.2" fill="none" stroke="#6a6a6a" stroke-width="1.2" stroke-linejoin="round"/>
<g stroke="#ff4763" stroke-width="0.95" fill="none" stroke-linecap="round" stroke-linejoin="round">
<line x1="102.9" y1="30.5" x2="99.4" y2="52.4"/><polyline points="97.6,48.4 99.4,52.4 102.4,49.1"/>
<line x1="110.0" y1="39.3" x2="103.5" y2="52.8"/><polyline points="102.9,48.4 103.5,52.8 107.3,50.5"/>
<line x1="246.4" y1="30.9" x2="262.4" y2="57.2"/><polyline points="258.4,55.3 262.4,57.2 262.5,52.8"/>
<line x1="270.4" y1="41.0" x2="270.4" y2="57.2"/><polyline points="268.0,53.5 270.4,57.2 272.8,53.5"/>
<line x1="277.4" y1="27.0" x2="277.4" y2="56.8"/><polyline points="275.0,53.1 277.4,56.8 279.8,53.1"/>
</g>
<text class="lb" x="40.74" y="54.0" textLength="10.31" lengthAdjust="spacingAndGlyphs">1-2</text>
<text class="lb" x="72.67" y="56.0" textLength="3.87" lengthAdjust="spacingAndGlyphs">7</text>
<text class="lb" x="90.13" y="43.0" textLength="7.74" lengthAdjust="spacingAndGlyphs">12</text>
<text class="lb" x="98.83" y="26.5" textLength="7.74" lengthAdjust="spacingAndGlyphs">13</text>
<text class="lb" x="105.13" y="38.2" textLength="7.74" lengthAdjust="spacingAndGlyphs">17</text>
<text class="lb" x="129.93" y="50.8" textLength="7.74" lengthAdjust="spacingAndGlyphs">24</text>
<text class="lb" x="169.23" y="51.9" textLength="7.74" lengthAdjust="spacingAndGlyphs">36</text>
<text class="lb" x="184.03" y="49.9" textLength="7.74" lengthAdjust="spacingAndGlyphs">42</text>
<text class="lb" x="236.57" y="29.2" textLength="18.05" lengthAdjust="spacingAndGlyphs">56-57</text>
<text class="lb" x="266.13" y="39.5" textLength="7.74" lengthAdjust="spacingAndGlyphs">58</text>
<text class="lb" x="273.53" y="25.2" textLength="7.74" lengthAdjust="spacingAndGlyphs">63</text>
<rect x="32.0" y="81.8" width="1.8" height="48.5" fill="#cdcdcd"/>
<rect x="31.0" y="81.8" width="1.1" height="48.5" fill="#5e5e5e"/>
<rect x="34.3" y="82.39999999999999" width="0.6" height="3.2" fill="#bbbbbb"/>
<rect x="29.2" y="128.65" width="2.2" height="0.9" fill="#666"/>
<text class="ax" x="25.7" y="131.00" textLength="2.4" lengthAdjust="spacingAndGlyphs">0</text>
<rect x="29.2" y="118.90" width="2.2" height="0.9" fill="#666"/>
<text class="ax" x="25.7" y="121.25" textLength="2.4" lengthAdjust="spacingAndGlyphs">1</text>
<rect x="29.2" y="109.15" width="2.2" height="0.9" fill="#666"/>
<text class="ax" x="25.7" y="111.50" textLength="2.4" lengthAdjust="spacingAndGlyphs">2</text>
<rect x="29.2" y="99.40" width="2.2" height="0.9" fill="#666"/>
<text class="ax" x="25.7" y="101.75" textLength="2.4" lengthAdjust="spacingAndGlyphs">3</text>
<rect x="29.2" y="89.65" width="2.2" height="0.9" fill="#666"/>
<text class="ax" x="25.7" y="92.00" textLength="2.4" lengthAdjust="spacingAndGlyphs">4</text>
<text class="ax" x="15.8" y="76.7" style="font-size:5.3px">x10</text>
<text class="ax" x="26.2" y="75.6" style="font-size:4.2px;fill:#444">6</text>
<rect x="541.2" y="82.4" width="0.7" height="4.4" fill="#c4c4c4"/>
<text class="tt" x="44.8" y="81.5" style="font-size:12.4px">B</text>
<text class="tt" x="525.0" y="83.6" text-anchor="end"><tspan font-style="italic">L. hypoglauca</tspan> buds</text>
<polyline points="33,128.7 33.25,128.7 33.5,128.7 33.75,128.7 34.0,128.7 34.25,128.7 34.5,128.7 34.75,128.7 35.0,128.7 35.25,128.7 35.5,128.7 35.75,128.7 36.0,128.7 36.25,128.7 36.5,128.7 36.75,128.7 37.0,128.7 37.25,128.7 37.5,128.7 37.75,128.7 38.0,128.7 38.25,128.7 38.5,128.7 38.75,128.7 39.0,128.7 39.25,128.7 39.5,128.7 39.75,128.7 40.0,128.7 40.25,128.7 40.5,128.7 40.75,128.6 41.0,128.6 41.25,128.6 41.5,128.5 41.75,128.5 42.0,128.4 42.25,128.3 42.5,128.1 42.75,127.9 43.0,127.7 43.25,127.1 43.5,126.3 43.75,125.3 44.0,123.9 44.25,121.6 44.5,118.4 44.75,114.5 45.0,109.8 45.25,105.3 45.5,102.3 45.75,101.5 46.0,103.2 46.25,106.9 46.5,111.2 46.75,115.1 47.0,117.9 47.25,119.8 47.5,120.7 47.75,121.4 48.0,121.9 48.25,122.2 48.5,121.5 48.75,119.6 49.0,116.7 49.25,114.5 49.5,114.4 49.75,116.7 50.0,120.1 50.25,122.8 50.5,124.4 50.75,125.1 51.0,125.1 51.25,124.8 51.5,124.4 51.75,123.7 52.0,122.9 52.25,122.2 52.5,122.0 52.75,122.2 53.0,122.7 53.25,123.5 53.5,124.2 53.75,124.9 54.0,125.4 54.25,125.6 54.5,125.7 54.75,125.9 55.0,126.0 55.25,126.2 55.5,126.2 55.75,126.1 56.0,126.3 56.25,126.3 56.5,126.3 56.75,126.3 57.0,126.2 57.25,126.4 57.5,126.5 57.75,126.3 58.0,126.4 58.25,126.4 58.5,126.4 58.75,126.3 59.0,126.3 59.25,126.3 59.5,126.2 59.75,125.9 60.0,125.9 60.25,125.7 60.5,125.6 60.75,125.5 61.0,125.1 61.25,124.6 61.5,123.8 61.75,122.7 62.0,121.6 62.25,120.6 62.5,119.9 62.75,119.8 63.0,120.3 63.25,121.0 63.5,122.1 63.75,123.1 64.0,123.8 64.25,124.4 64.5,125.0 64.75,125.4 65.0,125.6 65.25,125.7 65.5,125.6 65.75,125.7 66.0,125.6 66.25,125.8 66.5,125.7 66.75,125.8 67.0,125.8 67.25,125.7 67.5,125.6 67.75,125.6 68.0,125.7 68.25,125.7 68.5,125.6 68.75,125.7 69.0,125.6 69.25,125.5 69.5,125.4 69.75,125.4 70.0,125.3 70.25,125.2 70.5,125.0 70.75,124.9 71.0,124.8 71.25,124.8 71.5,124.6 71.75,124.3 72.0,123.6 72.25,122.9 72.5,121.2 72.75,118.4 73.0,114.3 73.25,108.9 73.5,103.5 73.75,100.2 74.0,99.7 74.25,102.6 74.5,107.7 74.75,113.1 75.0,117.4 75.25,120.4 75.5,122.3 75.75,123.3 76.0,123.8 76.25,124.2 76.5,124.5 76.75,124.6 77.0,124.6 77.25,124.9 77.5,124.9 77.75,125.0 78.0,125.0 78.25,125.1 78.5,125.1 78.75,125.2 79.0,125.1 79.25,125.1 79.5,124.9 79.75,124.8 80.0,124.7 80.25,124.7 80.5,124.8 80.75,124.6 81.0,124.5 81.25,124.4 81.5,124.2 81.75,124.2 82.0,124.1 82.25,124.2 82.5,124.1 82.75,124.2 83.0,124.5 83.25,124.6 83.5,124.7 83.75,124.8 84.0,124.9 84.25,124.9 84.5,124.9 84.75,124.9 85.0,124.8 85.25,124.7 85.5,124.6 85.75,124.4 86.0,124.4 86.25,124.4 86.5,124.4 86.75,124.5 87.0,124.5 87.25,124.6 87.5,124.5 87.75,124.5 88.0,124.4 88.25,124.3 88.5,123.9 88.75,123.8 89.0,123.4 89.25,123.0 89.5,122.5 89.75,122.0 90.0,121.1 90.25,119.6 90.5,117.0 90.75,113.3 91.0,108.2 91.25,101.6 91.5,94.2 91.75,87.8 92.0,83.2 92.25,82.2 92.5,84.5 92.75,89.9 93.0,97.0 93.25,104.1 93.5,110.2 93.75,114.8 94.0,117.8 94.25,119.8 94.5,120.7 94.75,121.2 95.0,121.5 95.25,121.6 95.5,121.4 95.75,120.8 96.0,119.4 96.25,117.0 96.5,112.7 96.75,106.7 97.0,100.3 97.25,95.0 97.5,93.1 97.75,95.1 98.0,100.6 98.25,107.2 98.5,113.3 98.75,117.8 99.0,120.5 99.25,121.9 99.5,122.7 99.75,123.3 100.0,123.5 100.25,123.9 100.5,124.2 100.75,124.4 101.0,124.6 101.25,124.5 101.5,124.4 101.75,124.4 102.0,124.6 102.25,124.8 102.5,124.6 102.75,124.6 103.0,124.5 103.25,124.5 103.5,124.5 103.75,124.6 104.0,124.7 104.25,124.8 104.5,124.7 104.75,124.6 105.0,124.6 105.25,124.7 105.5,124.7 105.75,124.7 106.0,124.6 106.25,124.5 106.5,124.6 106.75,124.7 107.0,124.7 107.25,124.6 107.5,124.6 107.75,124.5 108.0,124.5 108.25,124.6 108.5,124.4 108.75,124.1 109.0,124.0 109.25,123.8 109.5,123.3 109.75,122.7 110.0,122.1 110.25,121.4 110.5,120.9 110.75,120.1 111.0,119.9 111.25,119.8 111.5,120.1 111.75,120.6 112.0,121.1 112.25,121.8 112.5,122.7 112.75,123.2 113.0,123.6 113.25,124.1 113.5,124.2 113.75,124.5 114.0,124.5 114.25,124.5 114.5,124.7 114.75,124.7 115.0,124.8 115.25,124.7 115.5,124.7 115.75,124.6 116.0,124.3 116.25,124.1 116.5,123.8 116.75,123.6 117.0,123.2 117.25,122.9 117.5,122.7 117.75,122.7 118.0,122.9 118.25,123.3 118.5,123.7 118.75,124.1 119.0,124.4 119.25,124.6 119.5,124.8 119.75,124.8 120.0,124.9 120.25,124.9 120.5,124.9 120.75,125.0 121.0,125.0 121.25,124.9 121.5,125.0 121.75,125.0 122.0,125.0 122.25,124.9 122.5,125.0 122.75,125.1 123.0,124.9 123.25,124.8 123.5,124.7 123.75,124.6 124.0,124.2 124.25,123.6 124.5,122.3 124.75,120.6 125.0,119.0 125.25,118.1 125.5,118.7 125.75,120.0 126.0,121.7 126.25,123.1 126.5,124.2 126.75,124.7 127.0,124.8 127.25,124.8 127.5,125.0 127.75,125.2 128.0,125.2 128.25,125.3 128.5,125.1 128.75,125.2 129.0,125.1 129.25,125.0 129.5,124.9 129.75,124.7 130.0,124.4 130.25,124.1 130.5,123.9 130.75,123.3 131.0,122.4 131.25,120.4 131.5,116.8 131.75,110.6 132.0,102.9 132.25,96.2 132.5,93.4 132.75,96.3 133.0,102.9 133.25,110.7 133.5,116.9 133.75,120.7 134.0,122.6 134.25,123.7 134.5,124.2 134.75,124.5 135.0,124.8 135.25,125.0 135.5,125.0 135.75,125.3 136.0,125.2 136.25,125.2 136.5,125.3 136.75,125.4 137.0,125.4 137.25,125.3 137.5,125.2 137.75,125.3 138.0,125.1 138.25,124.8 138.5,124.6 138.75,124.4 139.0,123.9 139.25,123.3 139.5,122.9 139.75,122.4 140.0,122.1 140.25,121.8 140.5,122.0 140.75,122.2 141.0,122.8 141.25,123.3 141.5,123.9 141.75,124.4 142.0,124.7 142.25,125.1 142.5,125.3 142.75,125.5 143.0,125.4 143.25,125.4 143.5,125.5 143.75,125.7 144.0,125.5 144.25,125.6 144.5,125.8 144.75,125.7 145.0,125.7 145.25,125.8 145.5,125.9 145.75,125.8 146.0,125.8 146.25,125.9 146.5,125.9 146.75,125.8 147.0,125.8 147.25,125.8 147.5,125.7 147.75,125.7 148.0,125.7 148.25,125.8 148.5,125.7 148.75,125.8 149.0,125.7 149.25,125.7 149.5,125.7 149.75,125.5 150.0,125.2 150.25,125.0 150.5,124.9 150.75,125.0 151.0,125.1 151.25,125.4 151.5,125.5 151.75,125.5 152.0,125.7 152.25,125.8 152.5,125.9 152.75,125.7 153.0,125.6 153.25,125.5 153.5,125.3 153.75,125.2 154.0,124.8 154.25,124.2 154.5,123.7 154.75,123.2 155.0,122.9 155.25,122.6 155.5,122.6 155.75,123.1 156.0,123.7 156.25,124.1 156.5,124.7 156.75,125.0 157.0,125.3 157.25,125.6 157.5,125.8 157.75,125.9 158.0,125.8 158.25,125.9 158.5,125.9 158.75,126.0 159.0,125.9 159.25,126.0 159.5,126.0 159.75,126.1 160.0,126.0 160.25,125.9 160.5,125.9 160.75,125.8 161.0,125.8 161.25,125.7 161.5,125.8 161.75,125.8 162.0,125.9 162.25,125.9 162.5,125.8 162.75,125.9 163.0,125.8 163.25,125.9 163.5,125.8 163.75,125.9 164.0,126.0 164.25,125.9 164.5,125.8 164.75,125.9 165.0,125.9 165.25,125.8 165.5,125.7 165.75,125.7 166.0,125.6 166.25,125.7 166.5,125.6 166.75,125.4 167.0,125.2 167.25,124.9 167.5,124.4 167.75,123.4 168.0,121.5 168.25,118.9 168.5,115.8 168.75,113.6 169.0,113.2 169.25,114.6 169.5,117.2 169.75,119.6 170.0,121.0 170.25,121.5 170.5,121.0 170.75,119.8 171.0,118.1 171.25,115.5 171.5,112.1 171.75,108.6 172.0,105.0 172.25,101.9 172.5,99.8 172.75,99.6 173.0,100.6 173.25,103.2 173.5,106.6 173.75,110.4 174.0,114.1 174.25,117.1 174.5,119.6 174.75,121.2 175.0,122.5 175.25,123.3 175.5,124.0 175.75,124.4 176.0,124.6 176.25,124.8 176.5,125.0 176.75,125.1 177.0,125.3 177.25,125.4 177.5,125.4 177.75,125.7 178.0,125.6 178.25,125.6 178.5,125.8 178.75,125.9 179.0,126.0 179.25,126.1 179.5,126.1 179.75,126.0 180.0,126.0 180.25,126.1 180.5,126.1 180.75,126.1 181.0,125.9 181.25,125.7 181.5,125.8 181.75,125.8 182.0,125.9 182.25,125.7 182.5,125.6 182.75,125.4 183.0,125.3 183.25,125.1 183.5,124.9 183.75,124.6 184.0,124.3 184.25,123.8 184.5,122.9 184.75,121.2 185.0,118.6 185.25,114.8 185.5,110.1 185.75,104.8 186.0,100.2 186.25,97.4 186.5,97.1 186.75,99.4 187.0,103.9 187.25,108.9 187.5,113.8 187.75,117.9 188.0,120.8 188.25,122.5 188.5,123.5 188.75,124.2 189.0,124.6 189.25,124.9 189.5,125.1 189.75,125.2 190.0,125.5 190.25,125.5 190.5,125.7 190.75,125.7 191.0,125.7 191.25,125.7 191.5,125.9 191.75,125.9 192.0,125.8 192.25,125.8 192.5,125.9 192.75,125.9 193.0,125.9 193.25,125.8 193.5,125.8 193.75,125.9 194.0,125.9 194.25,126.1 194.5,126.0 194.75,126.0 195.0,126.1 195.25,126.0 195.5,126.0 195.75,126.0 196.0,125.9 196.25,125.8 196.5,125.9 196.75,125.9 197.0,126.0 197.25,126.2 197.5,126.1 197.75,126.2 198.0,126.0 198.25,126.0 198.5,126.0 198.75,125.9 199.0,126.1 199.25,126.1 199.5,126.0 199.75,125.9 200.0,126.0 200.25,126.1 200.5,125.9 200.75,126.0 201.0,126.0 201.25,126.0 201.5,125.9 201.75,125.9 202.0,125.8 202.25,125.5 202.5,125.4 202.75,125.2 203.0,124.6 203.25,124.1 203.5,124.1 203.75,124.0 204.0,124.4 204.25,124.7 204.5,125.0 204.75,125.3 205.0,125.5 205.25,125.5 205.5,125.5 205.75,125.7 206.0,125.9 206.25,125.9 206.5,125.9 206.75,125.9 207.0,125.9 207.25,126.0 207.5,125.9 207.75,125.9 208.0,125.9 208.25,125.8 208.5,125.9 208.75,126.0 209.0,125.9 209.25,126.0 209.5,125.9 209.75,125.7 210.0,125.8 210.25,125.9 210.5,125.9 210.75,125.9 211.0,125.9 211.25,125.8 211.5,125.8 211.75,125.7 212.0,125.8 212.25,125.7 212.5,125.8 212.75,125.8 213.0,125.9 213.25,125.9 213.5,125.9 213.75,125.7 214.0,125.8 214.25,125.8 214.5,125.7 214.75,125.7 215.0,125.7 215.25,125.6 215.5,125.7 215.75,125.9 216.0,125.9 216.25,125.9 216.5,125.8 216.75,125.9 217.0,126.0 217.25,126.0 217.5,125.9 217.75,125.8 218.0,125.7 218.25,125.6 218.5,125.7 218.75,125.7 219.0,125.7 219.25,125.6 219.5,125.5 219.75,125.5 220.0,125.5 220.25,125.6 220.5,125.8 220.75,125.8 221.0,125.7 221.25,125.6 221.5,125.8 221.75,125.6 222.0,125.6 222.25,125.6 222.5,125.8 222.75,125.8 223.0,125.7 223.25,125.6 223.5,125.6 223.75,125.5 224.0,125.7 224.25,125.8 224.5,125.6 224.75,125.6 225.0,125.7 225.25,125.8 225.5,125.8 225.75,125.7 226.0,125.8 226.25,125.7 226.5,125.7 226.75,125.6 227.0,125.5 227.25,125.6 227.5,125.6 227.75,125.6 228.0,125.5 228.25,125.6 228.5,125.5 228.75,125.7 229.0,125.7 229.25,125.7 229.5,125.8 229.75,125.8 230.0,125.7 230.25,125.6 230.5,125.5 230.75,125.5 231.0,125.4 231.25,125.6 231.5,125.7 231.75,125.7 232.0,125.6 232.25,125.5 232.5,125.5 232.75,125.5 233.0,125.6 233.25,125.5 233.5,125.6 233.75,125.5 234.0,125.4 234.25,125.6 234.5,125.6 234.75,125.7 235.0,125.8 235.25,125.6 235.5,125.7 235.75,125.7 236.0,125.7 236.25,125.6 236.5,125.7 236.75,125.7 237.0,125.8 237.25,125.7 237.5,125.5 237.75,125.6 238.0,125.7 238.25,125.6 238.5,125.4 238.75,125.6 239.0,125.5 239.25,125.5 239.5,125.5 239.75,125.4 240.0,125.5 240.25,125.4 240.5,125.4 240.75,125.5 241.0,125.6 241.25,125.6 241.5,125.6 241.75,125.4 242.0,125.4 242.25,125.6 242.5,125.4 242.75,125.5 243.0,125.6 243.25,125.6 243.5,125.5 243.75,125.6 244.0,125.7 244.25,125.5 244.5,125.4 244.75,125.4 245.0,125.4 245.25,125.3 245.5,125.3 245.75,125.4 246.0,125.5 246.25,125.5 246.5,125.4 246.75,125.5 247.0,125.4 247.25,125.4 247.5,125.5 247.75,125.5 248.0,125.5 248.25,125.5 248.5,125.3 248.75,125.4 249.0,125.2 249.25,125.1 249.5,125.0 249.75,125.0 250.0,124.8 250.25,124.3 250.5,123.5 250.75,122.8 251.0,121.8 251.25,120.9 251.5,120.5 251.75,120.9 252.0,121.7 252.25,122.7 252.5,123.6 252.75,124.3 253.0,124.8 253.25,125.0 253.5,125.2 253.75,125.1 254.0,125.3 254.25,125.2 254.5,125.3 254.75,125.3 255.0,125.2 255.25,125.2 255.5,125.1 255.75,125.1 256.0,125.2 256.25,125.3 256.5,125.2 256.75,125.2 257.0,125.3 257.25,125.1 257.5,125.1 257.75,125.2 258.0,125.2 258.25,125.3 258.5,125.1 258.75,125.1 259.0,124.9 259.25,124.9 259.5,124.8 259.75,124.5 260.0,124.5 260.25,124.4 260.5,124.3 260.75,124.1 261.0,123.9 261.25,123.7 261.5,123.5 261.75,122.6 262.0,121.3 262.25,119.9 262.5,118.9 262.75,118.9 263.0,120.0 263.25,121.2 263.5,121.8 263.75,121.9 264.0,121.1 264.25,119.8 264.5,118.3 264.75,117.2 265.0,117.0 265.25,117.9 265.5,119.5 265.75,121.0 266.0,122.0 266.25,122.8 266.5,123.2 266.75,123.4 267.0,123.4 267.25,123.4 267.5,123.2 267.75,122.9 268.0,122.6 268.25,122.0 268.5,121.3 268.75,120.3 269.0,119.1 269.25,117.8 269.5,116.5 269.75,115.7 270.0,115.5 270.25,115.6 270.5,116.5 270.75,117.7 271.0,119.0 271.25,120.4 271.5,121.2 271.75,122.0 272.0,122.6 272.25,122.9 272.5,123.1 272.75,123.3 273.0,123.2 273.25,123.4 273.5,123.3 273.75,123.4 274.0,123.5 274.25,123.4 274.5,123.4 274.75,123.4 275.0,123.3 275.25,122.9 275.5,122.5 275.75,121.9 276.0,121.3 276.25,120.3 276.5,118.9 276.75,117.1 277.0,115.4 277.25,114.1 277.5,113.3 277.75,113.1 278.0,113.7 278.25,114.6 278.5,116.1 278.75,117.9 279.0,119.4 279.25,120.6 279.5,121.6 279.75,122.4 280.0,122.6 280.25,122.9 280.5,123.2 280.75,123.5 281.0,123.6 281.25,123.7 281.5,123.9 281.75,124.0 282.0,124.2 282.25,124.3 282.5,124.4 282.75,124.2 283.0,124.2 283.25,123.8 283.5,123.3 283.75,122.9 284.0,123.0 284.25,123.3 284.5,123.7 284.75,124.2 285.0,124.7 285.25,125.0 285.5,125.1 285.75,125.2 286.0,125.3 286.25,125.3 286.5,125.2 286.75,125.4 287.0,125.4 287.25,125.3 287.5,125.4 287.75,125.4 288.0,125.3 288.25,125.4 288.5,125.4 288.75,125.3 289.0,125.3 289.25,125.4 289.5,125.5 289.75,125.5 290.0,125.5 290.25,125.5 290.5,125.5 290.75,125.5 291.0,125.7 291.25,125.6 291.5,125.7 291.75,125.6 292.0,125.6 292.25,125.7 292.5,125.7 292.75,125.7 293.0,125.7 293.25,125.5 293.5,125.4 293.75,125.2 294.0,125.0 294.25,124.2 294.5,123.1 294.75,121.8 295.0,120.9 295.25,120.6 295.5,121.1 295.75,122.4 296.0,123.7 296.25,124.8 296.5,125.2 296.75,125.6 297.0,125.9 297.25,125.8 297.5,126.0 297.75,126.1 298.0,126.1 298.25,126.1 298.5,126.0 298.75,126.2 299.0,126.1 299.25,126.2 299.5,126.2 299.75,126.2 300.0,126.2 300.25,126.3 300.5,126.1 300.75,126.1 301.0,126.1 301.25,126.2 301.5,126.3 301.75,126.1 302.0,126.0 302.25,125.9 302.5,125.7 302.75,125.3 303.0,124.7 303.25,124.0 303.5,123.3 303.75,122.9 304.0,123.0 304.25,123.4 304.5,124.2 304.75,125.0 305.0,125.7 305.25,126.0 305.5,126.3 305.75,126.2 306.0,126.4 306.25,126.6 306.5,126.5 306.75,126.4 307.0,126.4 307.25,126.3 307.5,126.4 307.75,126.4 308.0,126.3 308.25,125.8 308.5,125.4 308.75,124.8 309.0,124.2 309.25,124.0 309.5,124.3 309.75,125.0 310.0,125.7 310.25,126.1 310.5,126.5 310.75,126.7 311.0,126.8 311.25,126.8 311.5,126.8 311.75,126.7 312.0,127.0 312.25,127.0 312.5,127.1 312.75,126.9 313.0,127.0 313.25,127.0 313.5,127.1 313.75,127.2 314.0,127.2 314.25,127.2 314.5,127.1 314.75,127.2 315.0,127.1 315.25,127.2 315.5,127.2 315.75,127.0 316.0,127.0 316.25,126.9 316.5,126.7 316.75,126.6 317.0,126.2 317.25,125.6 317.5,125.1 317.75,124.6 318.0,124.6 318.25,124.9 318.5,125.5 318.75,126.1 319.0,126.6 319.25,126.8 319.5,127.0 319.75,127.0 320.0,127.1 320.25,127.2 320.5,127.4 320.75,127.4 321.0,127.3 321.25,127.4 321.5,127.6 321.75,127.5 322.0,127.6 322.25,127.6 322.5,127.6 322.75,127.6 323.0,127.4 323.25,127.5 323.5,127.5 323.75,127.4 324.0,127.6 324.25,127.4 324.5,127.4 324.75,127.5 325.0,127.6 325.25,127.4 325.5,127.6 325.75,127.6 326.0,127.5 326.25,127.4 326.5,127.4 326.75,127.3 327.0,127.4 327.25,127.5 327.5,127.6 327.75,127.7 328.0,127.5 328.25,127.6 328.5,127.6 328.75,127.6 329.0,127.6 329.25,127.5 329.5,127.6 329.75,127.4 330.0,127.5 330.25,127.4 330.5,127.3 330.75,127.4 331.0,127.4 331.25,127.4 331.5,127.5 331.75,127.5 332.0,127.4 332.25,127.6 332.5,127.6 332.75,127.5 333.0,127.6 333.25,127.6 333.5,127.7 333.75,127.7 334.0,127.7 334.25,127.6 334.5,127.5 334.75,127.4 335.0,127.5 335.25,127.5 335.5,127.4 335.75,127.5 336.0,127.6 336.25,127.4 336.5,127.5 336.75,127.5 337.0,127.4 337.25,127.5 337.5,127.5 337.75,127.4 338.0,127.5 338.25,127.6 338.5,127.6 338.75,127.7 339.0,127.6 339.25,127.5 339.5,127.3 339.75,127.4 340.0,127.5 340.25,127.5 340.5,127.6 340.75,127.5 341.0,127.4 341.25,127.4 341.5,127.5 341.75,127.5 342.0,127.6 342.25,127.5 342.5,127.5 342.75,127.5 343.0,127.6 343.25,127.5 343.5,127.4 343.75,127.4 344.0,127.4 344.25,127.6 344.5,127.5 344.75,127.4 345.0,127.4 345.25,127.3 345.5,127.3 345.75,127.3 346.0,127.4 346.25,127.4 346.5,127.5 346.75,127.4 347.0,127.5 347.25,127.5 347.5,127.5 347.75,127.4 348.0,127.5 348.25,127.4 348.5,127.5 348.75,127.6 349.0,127.6 349.25,127.6 349.5,127.6 349.75,127.5 350.0,127.5 350.25,127.5 350.5,127.5 350.75,127.5 351.0,127.5 351.25,127.5 351.5,127.4 351.75,127.3 352.0,127.2 352.25,127.1 352.5,127.3 352.75,127.2 353.0,127.1 353.25,127.1 353.5,127.0 353.75,126.8 354.0,126.4 354.25,125.7 354.5,125.4 354.75,125.1 355.0,125.1 355.25,125.4 355.5,125.9 355.75,126.4 356.0,126.8 356.25,127.1 356.5,127.1 356.75,127.2 357.0,127.4 357.25,127.5 357.5,127.5 357.75,127.3 358.0,127.2 358.25,127.3 358.5,127.4 358.75,127.4 359.0,127.4 359.25,127.4 359.5,127.4 359.75,127.4 360.0,127.5 360.25,127.5 360.5,127.4 360.75,127.2 361.0,127.3 361.25,127.1 361.5,126.9 361.75,126.5 362.0,126.2 362.25,125.6 362.5,125.3 362.75,125.3 363.0,125.5 363.25,125.9 363.5,126.4 363.75,126.8 364.0,127.1 364.25,127.3 364.5,127.4 364.75,127.2 365.0,127.1 365.25,127.4 365.5,127.4 365.75,127.5 366.0,127.6 366.25,127.6 366.5,127.4 366.75,127.4 367.0,127.5 367.25,127.5 367.5,127.5 367.75,127.4 368.0,127.4 368.25,127.4 368.5,127.3 368.75,127.5 369.0,127.4 369.25,127.3 369.5,127.2 369.75,127.3 370.0,127.2 370.25,127.2 370.5,127.2 370.75,127.2 371.0,127.3 371.25,127.4 371.5,127.2 371.75,127.2 372.0,126.9 372.25,126.8 372.5,126.4 372.75,126.2 373.0,125.7 373.25,125.6 373.5,125.6 373.75,125.9 374.0,126.4 374.25,126.8 374.5,127.1 374.75,127.2 375.0,127.2 375.25,127.2 375.5,127.3 375.75,127.4 376.0,127.4 376.25,127.3 376.5,127.3 376.75,127.4 377.0,127.3 377.25,127.3 377.5,127.4 377.75,127.5 378.0,127.5 378.25,127.5 378.5,127.5 378.75,127.4 379.0,127.4 379.25,127.5 379.5,127.3 379.75,127.3 380.0,127.2 380.25,127.1 380.5,127.1 380.75,127.3 381.0,127.2 381.25,127.4 381.5,127.2 381.75,127.2 382.0,127.2 382.25,127.3 382.5,127.4 382.75,127.3 383.0,127.2 383.25,127.4 383.5,127.4 383.75,127.4 384.0,127.3 384.25,127.3 384.5,127.4 384.75,127.4 385.0,127.4 385.25,127.4 385.5,127.4 385.75,127.4 386.0,127.5 386.25,127.4 386.5,127.4 386.75,127.3 387.0,127.3 387.25,127.3 387.5,127.3 387.75,127.2 388.0,127.2 388.25,127.3 388.5,127.3 388.75,127.4 389.0,127.2 389.25,127.3 389.5,127.3 389.75,127.3 390.0,127.2 390.25,127.2 390.5,127.4 390.75,127.3 391.0,127.3 391.25,127.4 391.5,127.4 391.75,127.2 392.0,127.1 392.25,127.2 392.5,127.2 392.75,127.3 393.0,127.3 393.25,127.3 393.5,127.2 393.75,127.1 394.0,127.2 394.25,127.1 394.5,127.1 394.75,127.1 395.0,127.0 395.25,127.0 395.5,126.9 395.75,126.7 396.0,126.5 396.25,126.3 396.5,126.1 396.75,126.0 397.0,126.0 397.25,126.1 397.5,126.2 397.75,126.5 398.0,126.8 398.25,126.9 398.5,126.9 398.75,127.1 399.0,127.2 399.25,127.0 399.5,127.1 399.75,127.0 400.0,126.9 400.25,126.7 400.5,126.3 400.75,125.7 401.0,124.9 401.25,124.2 401.5,124.0 401.75,124.1 402.0,124.6 402.25,125.1 402.5,125.7 402.75,126.2 403.0,126.6 403.25,126.8 403.5,127.0 403.75,127.0 404.0,127.2 404.25,127.3 404.5,127.3 404.75,127.4 405.0,127.4 405.25,127.4 405.5,127.2 405.75,127.3 406.0,127.3 406.25,127.2 406.5,127.2 406.75,127.2 407.0,127.1 407.25,127.0 407.5,127.2 407.75,127.1 408.0,127.2 408.25,127.1 408.5,127.2 408.75,127.3 409.0,127.2 409.25,127.4 409.5,127.4 409.75,127.3 410.0,127.4 410.25,127.2 410.5,127.1 410.75,127.1 411.0,127.1 411.25,127.0 411.5,126.9 411.75,127.2 412.0,127.1 412.25,127.0 412.5,127.1 412.75,127.1 413.0,127.2 413.25,127.2 413.5,127.2 413.75,127.1 414.0,127.0 414.25,127.2 414.5,127.2 414.75,127.1 415.0,127.0 415.25,127.0 415.5,127.2 415.75,127.0 416.0,127.1 416.25,127.2 416.5,127.2 416.75,127.2 417.0,127.3 417.25,127.3 417.5,127.3 417.75,127.3 418.0,127.2 418.25,127.1 418.5,127.1 418.75,127.1 419.0,126.9 419.25,126.7 419.5,126.6 419.75,126.4 420.0,126.2 420.25,125.7 420.5,125.1 420.75,124.4 421.0,123.6 421.25,123.0 421.5,123.1 421.75,123.4 422.0,124.4 422.25,125.3 422.5,126.1 422.75,126.3 423.0,126.7 423.25,126.8 423.5,126.9 423.75,126.9 424.0,127.0 424.25,127.0 424.5,127.1 424.75,127.1 425.0,127.0 425.25,127.0 425.5,127.1 425.75,127.0 426.0,127.0 426.25,127.0 426.5,127.1 426.75,127.1 427.0,127.1 427.25,127.0 427.5,126.9 427.75,126.9 428.0,127.0 428.25,127.1 428.5,127.0 428.75,127.1 429.0,127.0 429.25,127.1 429.5,127.0 429.75,127.1 430.0,127.0 430.25,127.1 430.5,127.0 430.75,126.9 431.0,126.9 431.25,126.9 431.5,127.0 431.75,127.0 432.0,126.9 432.25,126.9 432.5,126.9 432.75,126.8 433.0,127.0 433.25,126.9 433.5,126.8 433.75,126.9 434.0,126.8 434.25,126.9 434.5,126.9 434.75,126.9 435.0,126.9 435.25,127.0 435.5,127.0 435.75,126.9 436.0,127.0 436.25,126.9 436.5,126.8 436.75,126.7 437.0,126.8 437.25,126.7 437.5,126.8 437.75,126.9 438.0,126.9 438.25,126.9 438.5,126.9 438.75,126.9 439.0,126.8 439.25,126.9 439.5,126.9 439.75,126.7 440.0,126.7 440.25,126.7 440.5,126.7 440.75,126.8 441.0,126.6 441.25,126.5 441.5,126.6 441.75,126.6 442.0,126.5 442.25,126.6 442.5,126.7 442.75,126.6 443.0,126.6 443.25,126.5 443.5,126.5 443.75,126.5 444.0,126.7 444.25,126.7 444.5,126.7 444.75,126.7 445.0,126.6 445.25,126.7 445.5,126.8 445.75,126.8 446.0,126.8 446.25,126.8 446.5,126.7 446.75,126.7 447.0,126.6 447.25,126.7 447.5,126.6 447.75,126.6 448.0,126.6 448.25,126.5 448.5,126.5 448.75,126.7 449.0,126.6 449.25,126.6 449.5,126.6 449.75,126.6 450.0,126.4 450.25,126.3 450.5,126.3 450.75,126.3 451.0,126.5 451.25,126.5 451.5,126.4 451.75,126.6 452.0,126.5 452.25,126.4 452.5,126.5 452.75,126.6 453.0,126.6 453.25,126.5 453.5,126.4 453.75,126.5 454.0,126.3 454.25,126.5 454.5,126.5 454.75,126.4 455.0,126.4 455.25,126.5 455.5,126.4 455.75,126.3 456.0,126.3 456.25,126.4 456.5,126.3 456.75,126.2 457.0,126.3 457.25,126.2 457.5,126.2 457.75,126.1 458.0,126.2 458.25,126.4 458.5,126.4 458.75,126.3 459.0,126.4 459.25,126.4 459.5,126.3 459.75,126.3 460.0,126.4 460.25,126.2 460.5,126.1 460.75,126.1 461.0,126.2 461.25,126.1 461.5,126.1 461.75,126.0 462.0,126.1 462.25,126.2 462.5,126.2 462.75,126.3 463.0,126.1 463.25,126.1 463.5,126.1 463.75,126.2 464.0,126.2 464.25,126.3 464.5,126.2 464.75,126.1 465.0,126.1 465.25,126.0 465.5,126.0 465.75,125.9 466.0,126.0 466.25,126.1 466.5,126.1 466.75,126.1 467.0,126.0 467.25,126.1 467.5,126.1 467.75,126.0 468.0,126.1 468.25,126.1 468.5,126.0 468.75,125.9 469.0,126.0 469.25,125.9 469.5,126.1 469.75,126.1 470.0,126.2 470.25,126.1 470.5,125.9 470.75,125.9 471.0,125.8 471.25,125.8 471.5,125.8 471.75,126.0 472.0,126.0 472.25,125.8 472.5,125.7 472.75,125.6 473.0,125.6 473.25,125.8 473.5,125.7 473.75,125.8 474.0,125.9 474.25,125.9 474.5,125.9 474.75,125.8 475.0,125.9 475.25,125.8 475.5,125.8 475.75,125.9 476.0,125.9 476.25,125.8 476.5,125.8 476.75,125.7 477.0,125.7 477.25,125.5 477.5,125.4 477.75,125.4 478.0,125.5 478.25,125.4 478.5,125.4 478.75,125.6 479.0,125.7 479.25,125.5 479.5,125.6 479.75,125.5 480.0,125.6 480.25,125.5 480.5,125.5 480.75,125.5 481.0,125.6 481.25,125.6 481.5,125.5 481.75,125.4 482.0,125.3 482.25,125.4 482.5,125.5 482.75,125.6 483.0,125.5 483.25,125.3 483.5,125.5 483.75,125.5 484.0,125.3 484.25,125.4 484.5,125.5 484.75,125.3 485.0,125.2 485.25,125.2 485.5,125.3 485.75,125.4 486.0,125.3 486.25,125.3 486.5,125.4 486.75,125.3 487.0,125.1 487.25,125.2 487.5,125.0 487.75,124.8 488.0,124.5 488.25,124.4 488.5,124.1 488.75,124.1 489.0,124.2 489.25,124.3 489.5,124.6 489.75,124.6 490.0,124.8 490.25,125.0 490.5,125.1 490.75,125.0 491.0,124.8 491.25,125.0 491.5,125.0 491.75,125.0 492.0,124.9 492.25,124.9 492.5,124.9 492.75,125.0 493.0,125.1 493.25,124.9 493.5,124.7 493.75,124.7 494.0,124.7 494.25,124.9 494.5,124.8 494.75,124.8 495.0,124.9 495.25,124.8 495.5,125.0 495.75,124.9 496.0,124.9 496.25,124.8 496.5,124.7 496.75,124.6 497.0,124.7 497.25,124.7 497.5,124.6 497.75,124.6 498.0,124.6 498.25,124.6 498.5,124.7 498.75,124.7 499.0,124.6 499.25,124.5 499.5,124.5 499.75,124.7 500.0,124.6 500.25,124.6 500.5,124.4 500.75,124.5 501.0,124.5 501.25,124.5 501.5,124.5 501.75,124.3 502.0,124.3 502.25,124.4 502.5,124.3 502.75,124.4 503.0,124.2 503.25,124.0 503.5,124.2 503.75,124.1 504.0,124.1 504.25,124.0 504.5,124.0 504.75,124.0 505.0,124.0 505.25,123.9 505.5,124.0 505.75,124.0 506.0,123.8 506.25,123.8 506.5,123.7 506.75,123.6 507.0,123.6 507.25,123.7 507.5,123.7 507.75,123.8 508.0,123.5 508.25,123.5 508.5,123.3 508.75,123.4 509.0,123.4 509.25,123.4 509.5,123.4 509.75,123.3 510.0,123.2 510.25,123.1 510.5,122.7 510.75,122.4 511.0,122.1 511.25,121.8 511.5,121.8 511.75,121.7 512.0,121.8 512.25,122.1 512.5,122.5 512.75,122.6 513.0,122.6 513.25,122.6 513.5,122.7 513.75,122.8 514.0,122.7 514.25,122.7 514.5,122.7 514.75,122.7 515.0,122.7 515.25,122.7 515.5,122.6 515.75,122.4 516.0,122.3 516.25,122.3 516.5,122.2 516.75,122.2 517.0,122.1 517.25,122.2 517.5,122.2 517.75,122.1 518.0,122.0 518.25,122.0 518.5,121.8 518.75,121.9 519.0,121.8 519.25,121.7 519.5,121.6 519.75,121.6 520.0,121.5 520.25,121.4 520.5,121.4 520.75,121.5 521.0,121.6 521.25,121.5 521.5,121.3 521.75,121.4 522.0,121.4 522.25,121.2 522.5,121.3 522.75,121.3 523.0,121.1 523.25,121.0 523.5,121.0 523.75,120.8 524.0,120.7 524.25,120.8 524.5,120.8 524.75,120.7 525.0,120.6 525.25,120.6 525.5,120.6 525.75,120.5 526.0,120.6 526.25,120.4 526.5,120.4 526.75,120.3 527.0,120.3 527.25,120.4 527.5,120.4 527.75,120.3 528.0,120.2 528.25,120.2 528.5,120.0 528.75,119.9 529.0,119.9 529.25,119.9 529.5,119.9 529.75,119.8 530.0,120.0 530.25,119.8 530.5,119.9 530.75,119.8 531.0,119.8 531.25,119.7 531.5,119.7 531.75,119.7 532.0,119.6 532.25,119.5 532.5,119.4 532.75,119.3 533.0,119.4 533.25,119.5 533.5,119.3 533.75,119.2 534.0,119.4 534.25,119.3 534.5,119.3 534.75,119.3 535.0,119.3 535.25,119.1 535.5,119.2 535.75,119.1 536.0,119.0 536.25,119.0 536.5,119.1 536.75,119.0 537.0,118.9 537.25,118.8 537.5,118.7 537.75,118.8 538.0,118.9 538.25,119.0 538.5,119.0 538.75,118.7 539.0,118.6 539.25,118.6 539.5,118.5 539.75,118.4 540.0,118.3 540.25,118.3 540.5,118.3 540.75,118.3 541.0,118.3 541.25,118.3 541.5,118.2 541.75,118.0 542.0,117.9 542.25,117.9 542.5,118.0 542.75,118.1 543.0,118.2 543.25,118.1 543.5,118.1 543.75,117.9 544.0,117.9 544.25,117.8 544.5,117.9" fill="none" stroke="#6565f2" stroke-width="1.2" stroke-linejoin="round"/>
<g stroke="#ff4763" stroke-width="0.95" fill="none" stroke-linecap="round" stroke-linejoin="round">
<line x1="160.2" y1="100.4" x2="168.3" y2="113.4"/><polyline points="164.3,111.5 168.3,113.4 168.4,109.0"/>
<line x1="243.2" y1="108.6" x2="251.0" y2="119.8"/><polyline points="246.9,118.1 251.0,119.8 250.9,115.4"/>
<line x1="250.6" y1="92.3" x2="262.0" y2="118.9"/><polyline points="258.3,116.4 262.0,118.9 262.7,114.6"/>
<line x1="265.0" y1="83.8" x2="265.0" y2="114.3"/><polyline points="262.6,110.6 265.0,114.3 267.4,110.6"/>
<line x1="270.0" y1="96.3" x2="270.0" y2="112.4"/><polyline points="267.6,108.7 270.0,112.4 272.4,108.7"/>
<line x1="277.9" y1="91.0" x2="277.9" y2="111.5"/><polyline points="275.5,107.8 277.9,111.5 280.3,107.8"/>
<line x1="295.2" y1="106.3" x2="295.2" y2="119.8"/><polyline points="292.8,116.1 295.2,119.8 297.6,116.1"/>
<line x1="304.1" y1="85.5" x2="304.1" y2="121.7"/><polyline points="301.7,118.0 304.1,121.7 306.5,118.0"/>
<line x1="324.9" y1="92.0" x2="317.9" y2="122.6"/><polyline points="316.4,118.5 317.9,122.6 321.1,119.5"/>
<line x1="362.7" y1="103.0" x2="362.7" y2="124.4"/><polyline points="360.3,120.7 362.7,124.4 365.1,120.7"/>
</g>
<text class="lb" x="40.54" y="99.5" textLength="10.31" lengthAdjust="spacingAndGlyphs">1-2</text>
<text class="lb" x="61.67" y="118.9" textLength="3.87" lengthAdjust="spacingAndGlyphs">5</text>
<text class="lb" x="71.87" y="97.0" textLength="3.87" lengthAdjust="spacingAndGlyphs">7</text>
<text class="lb" x="87.63" y="80.0" textLength="7.74" lengthAdjust="spacingAndGlyphs">12</text>
<text class="lb" x="94.83" y="90.7" textLength="7.74" lengthAdjust="spacingAndGlyphs">13</text>
<text class="lb" x="121.33" y="116.0" textLength="7.74" lengthAdjust="spacingAndGlyphs">23</text>
<text class="lb" x="128.63" y="90.7" textLength="7.74" lengthAdjust="spacingAndGlyphs">24</text>
<text class="lb" x="156.93" y="98.6" textLength="7.74" lengthAdjust="spacingAndGlyphs">35</text>
<text class="lb" x="169.13" y="98.6" textLength="7.74" lengthAdjust="spacingAndGlyphs">36</text>
<text class="lb" x="182.73" y="94.0" textLength="7.74" lengthAdjust="spacingAndGlyphs">42</text>
<text class="lb" x="235.43" y="107.8" textLength="7.74" lengthAdjust="spacingAndGlyphs">53</text>
<text class="lb" x="246.73" y="90.8" textLength="7.74" lengthAdjust="spacingAndGlyphs">56</text>
<text class="lb" x="261.63" y="81.6" textLength="7.74" lengthAdjust="spacingAndGlyphs">57</text>
<text class="lb" x="266.13" y="94.5" textLength="7.74" lengthAdjust="spacingAndGlyphs">58</text>
<text class="lb" x="274.23" y="89.0" textLength="7.74" lengthAdjust="spacingAndGlyphs">63</text>
<text class="lb" x="290.83" y="104.5" textLength="7.74" lengthAdjust="spacingAndGlyphs">69</text>
<text class="lb" x="300.23" y="83.5" textLength="7.74" lengthAdjust="spacingAndGlyphs">70</text>
<text class="lb" x="321.93" y="90.8" textLength="7.74" lengthAdjust="spacingAndGlyphs">71</text>
<text class="lb" x="358.63" y="100.8" textLength="7.74" lengthAdjust="spacingAndGlyphs">72</text>
<rect x="32.0" y="146.5" width="1.8" height="48.500000000000014" fill="#cdcdcd"/>
<rect x="31.0" y="146.5" width="1.1" height="48.500000000000014" fill="#5e5e5e"/>
<rect x="34.3" y="147.1" width="0.6" height="3.2" fill="#bbbbbb"/>
<rect x="29.2" y="193.35" width="2.2" height="0.9" fill="#666"/>
<text class="ax" x="25.7" y="195.70" textLength="2.4" lengthAdjust="spacingAndGlyphs">0</text>
<rect x="29.2" y="182.75" width="2.2" height="0.9" fill="#666"/>
<text class="ax" x="25.7" y="185.10" textLength="2.4" lengthAdjust="spacingAndGlyphs">1</text>
<rect x="29.2" y="172.15" width="2.2" height="0.9" fill="#666"/>
<text class="ax" x="25.7" y="174.50" textLength="2.4" lengthAdjust="spacingAndGlyphs">2</text>
<rect x="29.2" y="161.55" width="2.2" height="0.9" fill="#666"/>
<text class="ax" x="25.7" y="163.90" textLength="2.4" lengthAdjust="spacingAndGlyphs">3</text>
<rect x="29.2" y="150.95" width="2.2" height="0.9" fill="#666"/>
<text class="ax" x="25.7" y="153.30" textLength="2.4" lengthAdjust="spacingAndGlyphs">4</text>
<text class="ax" x="15.8" y="142.0" style="font-size:5.3px">x10</text>
<text class="ax" x="26.2" y="140.9" style="font-size:4.2px;fill:#444">6</text>
<rect x="541.2" y="147.1" width="0.7" height="4.4" fill="#c4c4c4"/>
<text class="tt" x="44.8" y="148.8" style="font-size:12.4px">C</text>
<text class="tt" x="524.7" y="153.8" text-anchor="end"><tspan font-style="italic">L. hypoglauca</tspan> roots</text>
<polyline points="33,193.7 33.25,193.7 33.5,193.7 33.75,193.7 34.0,193.7 34.25,193.7 34.5,193.7 34.75,193.7 35.0,193.7 35.25,193.7 35.5,193.7 35.75,193.7 36.0,193.7 36.25,193.7 36.5,193.7 36.75,193.7 37.0,193.7 37.25,193.7 37.5,193.7 37.75,193.7 38.0,193.7 38.25,193.7 38.5,193.7 38.75,193.7 39.0,193.7 39.25,193.7 39.5,193.7 39.75,193.7 40.0,193.7 40.25,193.7 40.5,193.7 40.75,193.7 41.0,193.6 41.25,193.6 41.5,193.6 41.75,193.5 42.0,193.5 42.25,193.4 42.5,193.3 42.75,193.1 43.0,193.0 43.25,192.5 43.5,191.9 43.75,191.0 44.0,189.8 44.25,187.8 44.5,185.4 44.75,182.8 45.0,180.0 45.25,178.0 45.5,177.1 45.75,177.9 46.0,180.0 46.25,182.6 46.5,185.0 46.75,187.0 47.0,188.2 47.25,189.0 47.5,189.3 47.75,189.5 48.0,189.7 48.25,189.7 48.5,189.2 48.75,187.7 49.0,186.2 49.25,185.5 49.5,186.0 49.75,187.5 50.0,189.2 50.25,190.5 50.5,191.0 50.75,191.5 51.0,191.8 51.25,191.9 51.5,192.0 51.75,192.1 52.0,192.0 52.25,191.9 52.5,191.9 52.75,191.9 53.0,192.0 53.25,191.9 53.5,192.0 53.75,192.0 54.0,191.8 54.25,191.9 54.5,192.1 54.75,192.1 55.0,192.1 55.25,192.0 55.5,192.0 55.75,191.9 56.0,192.0 56.25,192.0 56.5,191.9 56.75,191.9 57.0,191.9 57.25,192.0 57.5,192.1 57.75,192.1 58.0,192.0 58.25,192.1 58.5,191.9 58.75,192.1 59.0,192.0 59.25,192.1 59.5,192.2 59.75,192.2 60.0,192.0 60.25,191.9 60.5,191.9 60.75,191.8 61.0,191.8 61.25,191.7 61.5,191.7 61.75,191.6 62.0,191.5 62.25,191.3 62.5,191.1 62.75,190.8 63.0,190.6 63.25,190.6 63.5,190.5 63.75,190.8 64.0,191.0 64.25,191.1 64.5,191.3 64.75,191.6 65.0,191.7 65.25,191.8 65.5,191.9 65.75,191.9 66.0,191.8 66.25,191.8 66.5,191.8 66.75,191.9 67.0,191.9 67.25,192.0 67.5,191.8 67.75,191.9 68.0,191.8 68.25,191.7 68.5,191.8 68.75,191.9 69.0,192.0 69.25,191.9 69.5,192.0 69.75,192.0 70.0,192.0 70.25,192.0 70.5,192.0 70.75,191.8 71.0,191.8 71.25,191.8 71.5,191.8 71.75,191.7 72.0,191.8 72.25,191.5 72.5,191.5 72.75,191.1 73.0,190.6 73.25,190.1 73.5,189.8 73.75,189.3 74.0,189.3 74.25,189.7 74.5,190.1 74.75,190.7 75.0,191.2 75.25,191.4 75.5,191.6 75.75,191.7 76.0,191.7 76.25,191.8 76.5,191.7 76.75,191.7 77.0,191.6 77.25,191.5 77.5,191.6 77.75,191.6 78.0,191.5 78.25,191.6 78.5,191.7 78.75,191.6 79.0,191.5 79.25,191.7 79.5,191.7 79.75,191.6 80.0,191.7 80.25,191.6 80.5,191.6 80.75,191.7 81.0,191.8 81.25,191.6 81.5,191.5 81.75,191.6 82.0,191.6 82.25,191.5 82.5,191.5 82.75,191.7 83.0,191.5 83.25,191.6 83.5,191.6 83.75,191.5 84.0,191.5 84.25,191.6 84.5,191.5 84.75,191.5 85.0,191.4 85.25,191.3 85.5,191.3 85.75,191.4 86.0,191.4 86.25,191.5 86.5,191.4 86.75,191.5 87.0,191.5 87.25,191.6 87.5,191.6 87.75,191.5 88.0,191.6 88.25,191.6 88.5,191.5 88.75,191.5 89.0,191.4 89.25,191.4 89.5,191.2 89.75,191.3 90.0,191.2 90.25,191.0 90.5,190.7 90.75,190.5 91.0,190.4 91.25,189.9 91.5,189.2 91.75,188.0 92.0,186.0 92.25,183.4 92.5,180.6 92.75,178.5 93.0,177.2 93.25,177.5 93.5,179.0 93.75,181.5 94.0,184.1 94.25,186.5 94.5,188.2 94.75,189.3 95.0,189.9 95.25,190.3 95.5,190.6 95.75,190.7 96.0,190.8 96.25,190.5 96.5,190.1 96.75,189.4 97.0,188.2 97.25,186.9 97.5,185.8 97.75,185.4 98.0,186.2 98.25,187.6 98.5,188.9 98.75,189.9 99.0,190.6 99.25,190.7 99.5,190.7 99.75,190.7 100.0,190.6 100.25,190.6 100.5,190.3 100.75,189.7 101.0,189.0 101.25,187.7 101.5,186.3 101.75,185.3 102.0,184.9 102.25,185.2 102.5,186.3 102.75,187.8 103.0,189.0 103.25,189.9 103.5,190.4 103.75,190.8 104.0,190.9 104.25,191.0 104.5,191.1 104.75,191.0 105.0,191.2 105.25,191.3 105.5,191.2 105.75,191.2 106.0,191.3 106.25,191.4 106.5,191.3 106.75,191.3 107.0,191.3 107.25,191.2 107.5,191.3 107.75,191.2 108.0,191.3 108.25,191.2 108.5,191.3 108.75,191.3 109.0,191.5 109.25,191.3 109.5,191.3 109.75,191.4 110.0,191.3 110.25,191.3 110.5,191.2 110.75,191.3 111.0,191.2 111.25,191.2 111.5,191.3 111.75,191.4 112.0,191.4 112.25,191.3 112.5,191.4 112.75,191.2 113.0,191.3 113.25,191.2 113.5,191.2 113.75,191.0 114.0,190.8 114.25,190.7 114.5,190.6 114.75,190.4 115.0,190.0 115.25,189.5 115.5,188.8 115.75,187.5 116.0,185.1 116.25,181.3 116.5,175.7 116.75,169.1 117.0,163.5 117.25,160.7 117.5,161.9 117.75,166.7 118.0,173.2 118.25,179.2 118.5,183.8 118.75,186.9 119.0,188.6 119.25,189.5 119.5,190.0 119.75,190.3 120.0,190.6 120.25,190.9 120.5,190.9 120.75,191.1 121.0,191.2 121.25,191.3 121.5,191.5 121.75,191.5 122.0,191.5 122.25,191.6 122.5,191.5 122.75,191.4 123.0,191.4 123.25,191.6 123.5,191.6 123.75,191.6 124.0,191.6 124.25,191.6 124.5,191.7 124.75,191.7 125.0,191.6 125.25,191.6 125.5,191.6 125.75,191.5 126.0,191.4 126.25,191.4 126.5,191.4 126.75,191.3 127.0,191.5 127.25,191.5 127.5,191.6 127.75,191.4 128.0,191.5 128.25,191.4 128.5,191.4 128.75,191.3 129.0,191.5 129.25,191.5 129.5,191.4 129.75,191.2 130.0,191.2 130.25,191.2 130.5,191.0 130.75,190.9 131.0,190.6 131.25,189.8 131.5,188.7 131.75,186.5 132.0,184.0 132.25,181.8 132.5,180.9 132.75,181.8 133.0,184.0 133.25,186.5 133.5,188.6 133.75,189.9 134.0,190.4 134.25,190.7 134.5,190.9 134.75,190.9 135.0,191.0 135.25,191.0 135.5,190.8 135.75,190.6 136.0,190.3 136.25,189.8 136.5,189.3 136.75,188.6 137.0,187.4 137.25,186.4 137.5,184.9 137.75,183.4 138.0,182.3 138.25,181.4 138.5,180.8 138.75,180.9 139.0,181.4 139.25,182.3 139.5,183.8 139.75,185.2 140.0,186.5 140.25,187.8 140.5,188.7 140.75,189.4 141.0,189.9 141.25,190.2 141.5,190.7 141.75,191.0 142.0,191.0 142.25,191.0 142.5,191.2 142.75,191.2 143.0,191.4 143.25,191.3 143.5,191.3 143.75,191.3 144.0,191.2 144.25,191.5 144.5,191.4 144.75,191.3 145.0,191.3 145.25,191.4 145.5,191.4 145.75,191.4 146.0,191.6 146.25,191.6 146.5,191.6 146.75,191.5 147.0,191.5 147.25,191.6 147.5,191.5 147.75,191.7 148.0,191.6 148.25,191.5 148.5,191.6 148.75,191.6 149.0,191.7 149.25,191.7 149.5,191.7 149.75,191.7 150.0,191.8 150.25,191.6 150.5,191.7 150.75,191.8 151.0,191.8 151.25,191.7 151.5,191.7 151.75,191.6 152.0,191.7 152.25,191.6 152.5,191.5 152.75,191.5 153.0,191.5 153.25,191.6 153.5,191.7 153.75,191.6 154.0,191.8 154.25,191.7 154.5,191.7 154.75,191.7 155.0,191.8 155.25,191.8 155.5,191.9 155.75,191.8 156.0,191.9 156.25,191.8 156.5,191.7 156.75,191.8 157.0,191.6 157.25,191.7 157.5,191.7 157.75,191.7 158.0,191.7 158.25,191.7 158.5,191.7 158.75,191.6 159.0,191.7 159.25,191.6 159.5,191.6 159.75,191.8 160.0,191.8 160.25,191.8 160.5,191.7 160.75,191.8 161.0,191.8 161.25,191.6 161.5,191.6 161.75,191.7 162.0,191.6 162.25,191.6 162.5,191.7 162.75,191.8 163.0,191.9 163.25,191.9 163.5,191.8 163.75,191.8 164.0,191.9 164.25,191.8 164.5,191.7 164.75,191.8 165.0,191.8 165.25,191.8 165.5,191.6 165.75,191.8 166.0,191.8 166.25,191.8 166.5,191.8 166.75,191.8 167.0,191.7 167.25,191.8 167.5,191.8 167.75,191.6 168.0,191.5 168.25,191.3 168.5,190.6 168.75,189.8 169.0,189.1 169.25,188.5 169.5,188.3 169.75,188.6 170.0,189.4 170.25,190.1 170.5,190.7 170.75,190.7 171.0,190.7 171.25,190.1 171.5,189.1 171.75,187.7 172.0,185.9 172.25,184.2 172.5,183.3 172.75,183.4 173.0,184.7 173.25,186.5 173.5,188.2 173.75,189.6 174.0,190.4 174.25,190.8 174.5,191.0 174.75,191.3 175.0,191.5 175.25,191.7 175.5,191.6 175.75,191.6 176.0,191.6 176.25,191.8 176.5,192.0 176.75,192.0 177.0,191.8 177.25,191.8 177.5,191.8 177.75,191.8 178.0,191.7 178.25,191.8 178.5,191.7 178.75,191.8 179.0,191.9 179.25,191.8 179.5,191.9 179.75,191.9 180.0,191.9 180.25,192.0 180.5,191.8 180.75,191.7 181.0,191.8 181.25,191.8 181.5,191.9 181.75,191.7 182.0,191.7 182.25,191.7 182.5,191.8 182.75,191.8 183.0,191.7 183.25,191.6 183.5,191.6 183.75,191.5 184.0,191.3 184.25,191.1 184.5,191.2 184.75,191.0 185.0,190.8 185.25,190.2 185.5,189.2 185.75,187.2 186.0,184.6 186.25,181.8 186.5,179.3 186.75,178.0 187.0,178.4 187.25,180.5 187.5,183.3 187.75,186.2 188.0,188.5 188.25,189.8 188.5,190.6 188.75,191.0 189.0,191.1 189.25,191.2 189.5,191.0 189.75,191.1 190.0,191.0 190.25,190.6 190.5,190.1 190.75,188.9 191.0,187.1 191.25,184.5 191.5,181.5 191.75,179.1 192.0,178.2 192.25,179.0 192.5,181.5 192.75,184.5 193.0,187.0 193.25,189.1 193.5,190.0 193.75,190.6 194.0,191.1 194.25,191.3 194.5,191.4 194.75,191.4 195.0,191.6 195.25,191.6 195.5,191.7 195.75,191.7 196.0,191.5 196.25,191.2 196.5,190.4 196.75,189.8 197.0,189.5 197.25,189.8 197.5,190.3 197.75,191.0 198.0,191.6 198.25,191.9 198.5,191.9 198.75,191.9 199.0,192.0 199.25,191.9 199.5,191.9 199.75,191.8 200.0,191.9 200.25,191.9 200.5,192.1 200.75,191.9 201.0,192.0 201.25,192.0 201.5,192.0 201.75,192.0 202.0,192.1 202.25,192.2 202.5,192.2 202.75,192.2 203.0,192.1 203.25,191.9 203.5,192.0 203.75,192.1 204.0,191.9 204.25,192.0 204.5,192.0 204.75,192.0 205.0,192.0 205.25,191.9 205.5,191.9 205.75,191.9 206.0,191.9 206.25,192.0 206.5,192.1 206.75,192.2 207.0,192.1 207.25,192.0 207.5,192.0 207.75,192.1 208.0,192.1 208.25,192.1 208.5,192.0 208.75,192.0 209.0,191.9 209.25,192.0 209.5,192.0 209.75,192.0 210.0,191.9 210.25,192.0 210.5,191.9 210.75,192.0 211.0,192.1 211.25,192.0 211.5,192.2 211.75,192.1 212.0,192.0 212.25,191.9 212.5,192.1 212.75,192.1 213.0,192.0 213.25,192.0 213.5,191.9 213.75,191.8 214.0,191.8 214.25,192.0 214.5,191.9 214.75,191.9 215.0,191.9 215.25,191.9 215.5,191.9 215.75,191.9 216.0,191.8 216.25,191.6 216.5,191.5 216.75,191.4 217.0,191.3 217.25,191.2 217.5,191.1 217.75,190.9 218.0,191.0 218.25,191.1 218.5,191.2 218.75,191.4 219.0,191.6 219.25,191.6 219.5,191.9 219.75,191.9 220.0,191.8 220.25,191.9 220.5,191.9 220.75,191.9 221.0,191.8 221.25,192.0 221.5,192.1 221.75,191.9 222.0,192.1 222.25,192.1 222.5,192.2 222.75,192.1 223.0,192.1 223.25,192.1 223.5,192.2 223.75,192.3 224.0,192.2 224.25,192.2 224.5,192.1 224.75,192.0 225.0,192.0 225.25,192.0 225.5,192.0 225.75,192.1 226.0,192.2 226.25,192.3 226.5,192.3 226.75,192.1 227.0,192.2 227.25,192.2 227.5,192.2 227.75,192.1 228.0,192.0 228.25,191.9 228.5,191.9 228.75,192.0 229.0,192.1 229.25,192.1 229.5,192.2 229.75,192.3 230.0,192.2 230.25,192.2 230.5,192.2 230.75,192.2 231.0,192.1 231.25,192.2 231.5,192.2 231.75,192.2 232.0,192.2 232.25,192.2 232.5,192.3 232.75,192.3 233.0,192.2 233.25,192.1 233.5,192.0 233.75,192.1 234.0,192.2 234.25,192.1 234.5,192.2 234.75,192.1 235.0,192.1 235.25,192.1 235.5,192.0 235.75,192.1 236.0,192.1 236.25,192.0 236.5,192.0 236.75,192.1 237.0,192.1 237.25,192.0 237.5,192.0 237.75,192.0 238.0,191.9 238.25,191.9 238.5,192.1 238.75,192.0 239.0,192.0 239.25,191.9 239.5,192.1 239.75,192.1 240.0,192.0 240.25,191.9 240.5,191.8 240.75,192.1 241.0,192.0 241.25,192.0 241.5,191.9 241.75,191.8 242.0,192.1 242.25,192.0 242.5,192.2 242.75,192.3 243.0,192.2 243.25,192.1 243.5,192.1 243.75,192.0 244.0,191.9 244.25,192.1 244.5,192.2 244.75,192.1 245.0,192.0 245.25,192.1 245.5,192.1 245.75,192.1 246.0,192.0 246.25,192.1 246.5,192.0 246.75,192.1 247.0,192.0 247.25,192.1 247.5,192.1 247.75,192.1 248.0,192.0 248.25,192.1 248.5,192.0 248.75,192.2 249.0,192.2 249.25,192.2 249.5,192.3 249.75,192.3 250.0,192.3 250.25,192.2 250.5,192.1 250.75,192.2 251.0,192.3 251.25,192.3 251.5,192.2 251.75,192.3 252.0,192.1 252.25,192.0 252.5,192.2 252.75,192.1 253.0,192.2 253.25,192.0 253.5,192.2 253.75,192.1 254.0,192.1 254.25,192.0 254.5,192.1 254.75,192.1 255.0,192.2 255.25,192.2 255.5,192.3 255.75,192.2 256.0,192.2 256.25,192.0 256.5,191.9 256.75,192.1 257.0,192.3 257.25,192.1 257.5,192.2 257.75,192.1 258.0,192.1 258.25,192.1 258.5,192.1 258.75,192.2 259.0,192.1 259.25,192.2 259.5,192.0 259.75,192.1 260.0,192.0 260.25,192.0 260.5,192.1 260.75,192.1 261.0,192.1 261.25,192.1 261.5,192.2 261.75,192.3 262.0,192.2 262.25,192.2 262.5,192.1 262.75,192.1 263.0,192.2 263.25,192.0 263.5,192.2 263.75,192.3 264.0,192.3 264.25,192.2 264.5,192.2 264.75,192.3 265.0,192.3 265.25,192.2 265.5,192.2 265.75,192.2 266.0,192.1 266.25,192.2 266.5,192.2 266.75,192.1 267.0,192.1 267.25,192.2 267.5,192.2 267.75,192.3 268.0,192.2 268.25,192.1 268.5,192.2 268.75,192.2 269.0,192.1 269.25,192.2 269.5,192.1 269.75,192.2 270.0,192.3 270.25,192.3 270.5,192.2 270.75,192.0 271.0,192.2 271.25,192.2 271.5,192.1 271.75,192.3 272.0,192.1 272.25,192.3 272.5,192.3 272.75,192.1 273.0,192.3 273.25,192.1 273.5,192.2 273.75,192.1 274.0,192.3 274.25,192.1 274.5,192.0 274.75,192.1 275.0,192.2 275.25,192.2 275.5,192.2 275.75,192.3 276.0,192.4 276.25,192.3 276.5,192.2 276.75,192.2 277.0,192.3 277.25,192.3 277.5,192.3 277.75,192.2 278.0,192.3 278.25,192.2 278.5,192.2 278.75,192.2 279.0,192.3 279.25,192.2 279.5,192.3 279.75,192.2 280.0,192.1 280.25,192.1 280.5,192.1 280.75,192.1 281.0,192.1 281.25,192.2 281.5,192.3 281.75,192.4 282.0,192.4 282.25,192.4 282.5,192.3 282.75,192.2 283.0,192.1 283.25,192.1 283.5,192.2 283.75,192.1 284.0,192.2 284.25,192.2 284.5,192.2 284.75,192.3 285.0,192.2 285.25,192.2 285.5,192.3 285.75,192.1 286.0,192.0 286.25,192.1 286.5,192.0 286.75,191.9 287.0,191.9 287.25,191.7 287.5,191.5 287.75,191.4 288.0,190.8 288.25,189.7 288.5,188.4 288.75,187.7 289.0,188.0 289.25,189.0 289.5,190.3 289.75,191.1 290.0,191.6 290.25,191.7 290.5,191.9 290.75,192.1 291.0,192.2 291.25,192.3 291.5,192.3 291.75,192.3 292.0,192.2 292.25,192.3 292.5,192.2 292.75,192.3 293.0,192.4 293.25,192.2 293.5,192.2 293.75,192.2 294.0,192.3 294.25,192.2 294.5,192.1 294.75,192.1 295.0,192.3 295.25,192.2 295.5,192.2 295.75,192.3 296.0,192.2 296.25,192.3 296.5,192.3 296.75,192.3 297.0,192.2 297.25,192.2 297.5,192.3 297.75,192.1 298.0,192.3 298.25,192.2 298.5,192.2 298.75,192.3 299.0,192.2 299.25,192.1 299.5,192.3 299.75,192.2 300.0,192.1 300.25,192.1 300.5,192.2 300.75,192.1 301.0,192.3 301.25,192.3 301.5,192.2 301.75,192.1 302.0,192.2 302.25,192.2 302.5,192.3 302.75,192.3 303.0,192.4 303.25,192.1 303.5,192.2 303.75,192.4 304.0,192.3 304.25,192.3 304.5,192.4 304.75,192.4 305.0,192.2 305.25,192.1 305.5,192.2 305.75,192.3 306.0,192.4 306.25,192.3 306.5,192.4 306.75,192.4 307.0,192.3 307.25,192.2 307.5,192.2 307.75,192.2 308.0,192.1 308.25,192.2 308.5,192.2 308.75,192.2 309.0,192.3 309.25,192.2 309.5,192.1 309.75,192.2 310.0,192.2 310.25,192.1 310.5,192.1 310.75,192.2 311.0,192.2 311.25,192.1 311.5,192.0 311.75,192.1 312.0,192.1 312.25,192.0 312.5,192.1 312.75,192.2 313.0,192.2 313.25,192.2 313.5,192.1 313.75,192.2 314.0,192.1 314.25,192.1 314.5,192.0 314.75,192.2 315.0,192.3 315.25,192.1 315.5,192.2 315.75,192.1 316.0,192.3 316.25,192.2 316.5,192.2 316.75,192.3 317.0,192.3 317.25,192.2 317.5,192.3 317.75,192.2 318.0,192.1 318.25,192.3 318.5,192.2 318.75,192.2 319.0,192.2 319.25,192.1 319.5,192.2 319.75,192.2 320.0,192.2 320.25,192.1 320.5,192.1 320.75,192.0 321.0,192.2 321.25,192.1 321.5,192.1 321.75,192.0 322.0,192.2 322.25,192.1 322.5,192.2 322.75,192.1 323.0,192.1 323.25,192.1 323.5,192.1 323.75,192.2 324.0,192.1 324.25,192.0 324.5,192.1 324.75,192.2 325.0,192.1 325.25,192.2 325.5,192.1 325.75,192.0 326.0,192.0 326.25,192.0 326.5,191.9 326.75,191.6 327.0,191.5 327.25,191.5 327.5,191.4 327.75,191.5 328.0,191.6 328.25,191.6 328.5,191.7 328.75,191.9 329.0,191.9 329.25,192.1 329.5,192.2 329.75,192.2 330.0,192.2 330.25,192.2 330.5,192.3 330.75,192.1 331.0,192.0 331.25,192.1 331.5,192.2 331.75,192.3 332.0,192.1 332.25,192.2 332.5,192.2 332.75,192.2 333.0,192.1 333.25,192.3 333.5,192.4 333.75,192.4 334.0,192.2 334.25,192.2 334.5,192.2 334.75,192.3 335.0,192.4 335.25,192.2 335.5,192.2 335.75,192.2 336.0,192.1 336.25,192.0 336.5,192.0 336.75,192.0 337.0,192.1 337.25,192.2 337.5,192.1 337.75,192.1 338.0,192.0 338.25,192.0 338.5,192.1 338.75,192.0 339.0,192.0 339.25,192.0 339.5,192.2 339.75,192.1 340.0,192.2 340.25,192.3 340.5,192.4 340.75,192.3 341.0,192.2 341.25,192.2 341.5,192.2 341.75,192.3 342.0,192.3 342.25,192.3 342.5,192.4 342.75,192.4 343.0,192.3 343.25,192.1 343.5,192.1 343.75,192.0 344.0,192.2 344.25,192.1 344.5,192.1 344.75,192.2 345.0,192.1 345.25,192.2 345.5,192.2 345.75,192.3 346.0,192.2 346.25,192.3 346.5,192.2 346.75,192.3 347.0,192.3 347.25,192.3 347.5,192.3 347.75,192.3 348.0,192.2 348.25,192.2 348.5,192.3 348.75,192.4 349.0,192.2 349.25,192.1 349.5,192.1 349.75,192.1 350.0,192.0 350.25,192.0 350.5,192.0 350.75,192.0 351.0,192.1 351.25,192.1 351.5,192.1 351.75,192.2 352.0,192.3 352.25,192.3 352.5,192.2 352.75,192.3 353.0,192.3 353.25,192.4 353.5,192.3 353.75,192.4 354.0,192.4 354.25,192.5 354.5,192.5 354.75,192.3 355.0,192.3 355.25,192.2 355.5,192.4 355.75,192.3 356.0,192.4 356.25,192.2 356.5,192.3 356.75,192.3 357.0,192.3 357.25,192.1 357.5,192.3 357.75,192.2 358.0,192.3 358.25,192.3 358.5,192.3 358.75,192.2 359.0,192.1 359.25,192.0 359.5,192.1 359.75,192.1 360.0,192.2 360.25,192.2 360.5,192.2 360.75,192.2 361.0,192.3 361.25,192.3 361.5,192.2 361.75,192.1 362.0,191.8 362.25,191.8 362.5,191.6 362.75,191.2 363.0,190.8 363.25,190.6 363.5,190.5 363.75,190.5 364.0,190.6 364.25,190.9 364.5,191.3 364.75,191.4 365.0,191.8 365.25,191.9 365.5,192.1 365.75,192.2 366.0,192.1 366.25,192.2 366.5,192.2 366.75,192.1 367.0,192.1 367.25,192.1 367.5,192.1 367.75,192.0 368.0,192.0 368.25,192.2 368.5,192.1 368.75,192.3 369.0,192.1 369.25,192.0 369.5,192.2 369.75,192.3 370.0,192.1 370.25,192.1 370.5,192.2 370.75,192.3 371.0,192.2 371.25,192.1 371.5,192.0 371.75,192.0 372.0,192.1 372.25,192.2 372.5,192.2 372.75,192.2 373.0,192.1 373.25,192.2 373.5,192.1 373.75,192.2 374.0,192.2 374.25,192.3 374.5,192.2 374.75,192.2 375.0,192.0 375.25,192.0 375.5,192.0 375.75,192.1 376.0,192.0 376.25,192.1 376.5,192.2 376.75,192.1 377.0,192.0 377.25,192.1 377.5,192.2 377.75,192.3 378.0,192.3 378.25,192.1 378.5,192.2 378.75,192.0 379.0,192.0 379.25,192.0 379.5,192.1 379.75,192.0 380.0,192.1 380.25,192.0 380.5,192.0 380.75,192.0 381.0,192.0 381.25,192.0 381.5,191.8 381.75,191.8 382.0,191.9 382.25,191.8 382.5,191.5 382.75,191.1 383.0,191.0 383.25,190.8 383.5,190.7 383.75,190.6 384.0,190.7 384.25,190.9 384.5,191.2 384.75,191.4 385.0,191.6 385.25,191.9 385.5,192.0 385.75,192.1 386.0,192.2 386.25,192.2 386.5,192.2 386.75,192.1 387.0,192.0 387.25,192.0 387.5,192.2 387.75,192.1 388.0,192.2 388.25,192.0 388.5,192.2 388.75,192.0 389.0,192.0 389.25,192.0 389.5,191.9 389.75,192.1 390.0,192.0 390.25,192.0 390.5,191.9 390.75,192.0 391.0,192.1 391.25,192.1 391.5,192.1 391.75,192.2 392.0,192.1 392.25,192.0 392.5,192.1 392.75,192.2 393.0,192.1 393.25,192.0 393.5,191.9 393.75,192.0 394.0,192.0 394.25,192.1 394.5,192.1 394.75,192.2 395.0,192.2 395.25,192.2 395.5,192.1 395.75,192.2 396.0,192.0 396.25,192.0 396.5,192.1 396.75,192.0 397.0,191.9 397.25,192.0 397.5,191.9 397.75,191.9 398.0,191.8 398.25,192.0 398.5,192.0 398.75,192.1 399.0,192.0 399.25,191.9 399.5,191.9 399.75,191.9 400.0,192.0 400.25,192.0 400.5,192.1 400.75,192.2 401.0,192.2 401.25,192.2 401.5,192.2 401.75,192.2 402.0,192.2 402.25,192.1 402.5,192.0 402.75,191.9 403.0,191.9 403.25,192.1 403.5,192.0 403.75,192.0 404.0,192.0 404.25,192.0 404.5,192.0 404.75,191.9 405.0,192.0 405.25,192.0 405.5,192.1 405.75,192.2 406.0,192.0 406.25,192.0 406.5,191.9 406.75,192.0 407.0,191.9 407.25,191.9 407.5,191.8 407.75,191.7 408.0,191.5 408.25,191.2 408.5,191.0 408.75,190.8 409.0,190.8 409.25,190.5 409.5,190.5 409.75,190.8 410.0,190.9 410.25,191.2 410.5,191.4 410.75,191.6 411.0,191.6 411.25,191.7 411.5,191.8 411.75,191.9 412.0,191.8 412.25,191.9 412.5,191.9 412.75,191.8 413.0,192.0 413.25,191.9 413.5,191.9 413.75,191.8 414.0,191.8 414.25,192.0 414.5,191.8 414.75,191.8 415.0,191.7 415.25,191.7 415.5,191.8 415.75,191.7 416.0,191.8 416.25,191.8 416.5,191.8 416.75,191.7 417.0,191.8 417.25,191.9 417.5,191.8 417.75,191.8 418.0,191.9 418.25,191.9 418.5,191.8 418.75,191.9 419.0,192.0 419.25,192.0 419.5,192.0 419.75,192.0 420.0,191.9 420.25,191.8 420.5,191.9 420.75,191.9 421.0,191.8 421.25,191.8 421.5,191.8 421.75,191.8 422.0,192.0 422.25,191.9 422.5,192.1 422.75,192.1 423.0,192.0 423.25,192.0 423.5,191.8 423.75,191.7 424.0,191.7 424.25,191.6 424.5,191.6 424.75,191.6 425.0,191.7 425.25,191.8 425.5,191.8 425.75,191.8 426.0,191.7 426.25,191.6 426.5,191.7 426.75,191.8 427.0,191.7 427.25,191.8 427.5,191.8 427.75,191.8 428.0,191.8 428.25,191.6 428.5,191.4 428.75,191.2 429.0,191.3 429.25,191.2 429.5,190.8 429.75,190.6 430.0,190.3 430.25,190.0 430.5,189.8 430.75,189.5 431.0,189.2 431.25,189.1 431.5,189.2 431.75,189.3 432.0,189.4 432.25,189.5 432.5,189.7 432.75,190.0 433.0,190.4 433.25,190.7 433.5,190.8 433.75,190.9 434.0,191.2 434.25,191.4 434.5,191.6 434.75,191.7 435.0,191.6 435.25,191.5 435.5,191.7 435.75,191.8 436.0,191.9 436.25,191.7 436.5,191.8 436.75,191.9 437.0,191.9 437.25,191.8 437.5,191.8 437.75,191.7 438.0,191.8 438.25,191.7 438.5,191.8 438.75,191.8 439.0,191.6 439.25,191.8 439.5,191.8 439.75,191.9 440.0,191.9 440.25,191.9 440.5,191.8 440.75,191.8 441.0,191.8 441.25,191.7 441.5,191.7 441.75,191.7 442.0,191.7 442.25,191.8 442.5,191.7 442.75,191.8 443.0,191.6 443.25,191.8 443.5,191.6 443.75,191.6 444.0,191.6 444.25,191.5 444.5,191.6 444.75,191.7 445.0,191.5 445.25,191.7 445.5,191.6 445.75,191.6 446.0,191.6 446.25,191.6 446.5,191.5 446.75,191.7 447.0,191.7 447.25,191.8 447.5,191.7 447.75,191.6 448.0,191.6 448.25,191.7 448.5,191.7 448.75,191.7 449.0,191.6 449.25,191.6 449.5,191.4 449.75,191.6 450.0,191.7 450.25,191.7 450.5,191.6 450.75,191.5 451.0,191.5 451.25,191.4 451.5,191.4 451.75,191.4 452.0,191.3 452.25,191.4 452.5,191.4 452.75,191.5 453.0,191.4 453.25,191.4 453.5,191.3 453.75,191.2 454.0,191.2 454.25,191.2 454.5,191.2 454.75,191.2 455.0,191.2 455.25,191.2 455.5,191.3 455.75,191.3 456.0,191.4 456.25,191.5 456.5,191.3 456.75,191.5 457.0,191.3 457.25,191.4 457.5,191.3 457.75,191.3 458.0,191.4 458.25,191.3 458.5,191.2 458.75,191.2 459.0,191.2 459.25,191.3 459.5,191.4 459.75,191.4 460.0,191.3 460.25,191.3 460.5,191.2 460.75,191.3 461.0,191.2 461.25,191.2 461.5,191.4 461.75,191.4 462.0,191.4 462.25,191.2 462.5,191.2 462.75,191.3 463.0,191.3 463.25,191.1 463.5,191.2 463.75,191.2 464.0,191.1 464.25,191.2 464.5,191.2 464.75,191.1 465.0,191.0 465.25,191.1 465.5,191.0 465.75,191.2 466.0,191.2 466.25,191.2 466.5,191.3 466.75,191.1 467.0,191.1 467.25,191.2 467.5,191.1 467.75,191.1 468.0,191.1 468.25,191.2 468.5,191.1 468.75,191.1 469.0,191.2 469.25,191.2 469.5,191.1 469.75,191.0 470.0,191.1 470.25,191.2 470.5,191.0 470.75,190.9 471.0,190.9 471.25,190.9 471.5,190.8 471.75,191.0 472.0,191.1 472.25,191.1 472.5,190.9 472.75,190.9 473.0,190.8 473.25,190.8 473.5,190.9 473.75,190.8 474.0,190.9 474.25,190.8 474.5,190.9 474.75,190.8 475.0,190.9 475.25,190.9 475.5,190.8 475.75,190.7 476.0,190.8 476.25,190.9 476.5,190.9 476.75,190.9 477.0,190.9 477.25,190.7 477.5,190.8 477.75,190.9 478.0,190.7 478.25,190.8 478.5,190.7 478.75,190.6 479.0,190.5 479.25,190.4 479.5,190.4 479.75,190.6 480.0,190.5 480.25,190.6 480.5,190.4 480.75,190.4 481.0,190.5 481.25,190.4 481.5,190.4 481.75,190.4 482.0,190.4 482.25,190.4 482.5,190.3 482.75,190.3 483.0,190.5 483.25,190.3 483.5,190.4 483.75,190.5 484.0,190.6 484.25,190.5 484.5,190.3 484.75,190.5 485.0,190.6 485.25,190.4 485.5,190.4 485.75,190.3 486.0,190.3 486.25,190.4 486.5,190.4 486.75,190.4 487.0,190.3 487.25,190.4 487.5,190.2 487.75,190.2 488.0,190.3 488.25,190.4 488.5,190.4 488.75,190.4 489.0,190.4 489.25,190.3 489.5,190.3 489.75,190.3 490.0,190.3 490.25,190.2 490.5,190.3 490.75,190.3 491.0,190.3 491.25,190.2 491.5,190.1 491.75,190.3 492.0,190.1 492.25,190.2 492.5,190.1 492.75,190.0 493.0,190.0 493.25,190.0 493.5,190.1 493.75,190.0 494.0,190.0 494.25,190.0 494.5,190.0 494.75,190.1 495.0,190.1 495.25,190.2 495.5,190.1 495.75,190.1 496.0,190.2 496.25,190.0 496.5,189.9 496.75,190.0 497.0,190.1 497.25,190.0 497.5,189.9 497.75,190.0 498.0,190.1 498.25,189.9 498.5,189.8 498.75,189.8 499.0,189.8 499.25,189.9 499.5,190.0 499.75,190.1 500.0,190.0 500.25,189.9 500.5,189.9 500.75,189.8 501.0,189.7 501.25,189.7 501.5,189.8 501.75,189.7 502.0,189.5 502.25,189.5 502.5,189.6 502.75,189.5 503.0,189.4 503.25,189.4 503.5,189.5 503.75,189.5 504.0,189.5 504.25,189.4 504.5,189.4 504.75,189.4 505.0,189.4 505.25,189.4 505.5,189.3 505.75,189.2 506.0,189.1 506.25,189.2 506.5,189.0 506.75,188.9 507.0,189.0 507.25,188.9 507.5,189.0 507.75,188.8 508.0,188.7 508.25,188.8 508.5,188.9 508.75,188.8 509.0,188.7 509.25,188.6 509.5,188.4 509.75,188.2 510.0,188.1 510.25,187.8 510.5,187.7 510.75,187.4 511.0,187.4 511.25,187.7 511.5,187.9 511.75,188.1 512.0,188.2 512.25,188.2 512.5,188.4 512.75,188.3 513.0,188.2 513.25,188.3 513.5,188.3 513.75,188.2 514.0,188.0 514.25,188.2 514.5,188.2 514.75,188.1 515.0,188.0 515.25,187.9 515.5,188.1 515.75,188.0 516.0,188.0 516.25,187.8 516.5,187.9 516.75,187.8 517.0,187.8 517.25,187.9 517.5,188.0 517.75,187.8 518.0,187.9 518.25,187.7 518.5,187.6 518.75,187.7 519.0,187.7 519.25,187.6 519.5,187.7 519.75,187.6 520.0,187.5 520.25,187.5 520.5,187.3 520.75,187.2 521.0,187.2 521.25,187.2 521.5,187.1 521.75,187.1 522.0,187.2 522.25,187.2 522.5,187.1 522.75,187.0 523.0,187.0 523.25,186.8 523.5,186.9 523.75,186.8 524.0,186.6 524.25,186.6 524.5,186.6 524.75,186.5 525.0,186.4 525.25,186.2 525.5,186.3 525.75,186.2 526.0,186.1 526.25,186.0 526.5,185.9 526.75,186.0 527.0,185.9 527.25,186.0 527.5,185.9 527.75,185.9 528.0,185.8 528.25,185.7 528.5,185.6 528.75,185.5 529.0,185.6 529.25,185.5 529.5,185.5 529.75,185.5 530.0,185.5 530.25,185.3 530.5,185.2 530.75,185.0 531.0,185.2 531.25,185.1 531.5,185.2 531.75,185.0 532.0,185.0 532.25,184.8 532.5,184.8 532.75,184.8 533.0,184.8 533.25,184.7 533.5,184.7 533.75,184.8 534.0,184.8 534.25,184.6 534.5,184.6 534.75,184.4 535.0,184.3 535.25,184.4 535.5,184.4 535.75,184.2 536.0,184.3 536.25,184.3 536.5,184.1 536.75,184.0 537.0,183.9 537.25,183.8 537.5,183.8 537.75,183.7 538.0,183.6 538.25,183.7 538.5,183.5 538.75,183.7 539.0,183.6 539.25,183.6 539.5,183.4 539.75,183.3 540.0,183.2 540.25,183.2 540.5,183.1 540.75,183.0 541.0,183.0 541.25,183.1 541.5,183.0 541.75,183.0 542.0,182.8 542.25,182.8 542.5,182.9 542.75,182.9 543.0,182.7 543.25,182.8 543.5,182.6 543.75,182.6 544.0,182.6 544.25,182.4 544.5,182.4" fill="none" stroke="#48da84" stroke-width="1.2" stroke-linejoin="round"/>
<g stroke="#ff4763" stroke-width="0.95" fill="none" stroke-linecap="round" stroke-linejoin="round">
<line x1="102.3" y1="164.2" x2="102.3" y2="183.9"/><polyline points="99.9,180.2 102.3,183.9 104.7,180.2"/>
<line x1="144.9" y1="166.4" x2="139.9" y2="179.3"/><polyline points="139.0,175.0 139.9,179.3 143.5,176.7"/>
<line x1="173.1" y1="159.5" x2="173.1" y2="180.2"/><polyline points="170.7,176.5 173.1,180.2 175.5,176.5"/>
<line x1="186.4" y1="156.0" x2="186.4" y2="176.5"/><polyline points="184.0,172.8 186.4,176.5 188.8,172.8"/>
<line x1="199.0" y1="156.2" x2="192.3" y2="174.7"/><polyline points="191.3,170.4 192.3,174.7 195.8,172.0"/>
</g>
<text class="lb" x="40.54" y="172.8" textLength="10.31" lengthAdjust="spacingAndGlyphs">1-2</text>
<text class="lb" x="89.03" y="172.8" textLength="7.74" lengthAdjust="spacingAndGlyphs">12</text>
<text class="lb" x="98.73" y="162.3" textLength="7.74" lengthAdjust="spacingAndGlyphs">17</text>
<text class="lb" x="113.23" y="156.8" textLength="7.74" lengthAdjust="spacingAndGlyphs">20</text>
<text class="lb" x="129.43" y="180.2" textLength="7.74" lengthAdjust="spacingAndGlyphs">24</text>
<text class="lb" x="142.33" y="164.9" textLength="7.74" lengthAdjust="spacingAndGlyphs">25</text>
<text class="lb" x="169.23" y="157.5" textLength="7.74" lengthAdjust="spacingAndGlyphs">36</text>
<text class="lb" x="182.93" y="154.0" textLength="7.74" lengthAdjust="spacingAndGlyphs">42</text>
<text class="lb" x="194.03" y="154.0" textLength="7.74" lengthAdjust="spacingAndGlyphs">43</text>
<rect x="32.0" y="211.5" width="1.8" height="48.500000000000014" fill="#cdcdcd"/>
<rect x="31.0" y="211.5" width="1.1" height="48.500000000000014" fill="#5e5e5e"/>
<rect x="34.3" y="212.1" width="0.6" height="3.2" fill="#bbbbbb"/>
<rect x="29.2" y="258.35" width="2.2" height="0.9" fill="#666"/>
<text class="ax" x="25.7" y="260.70" textLength="2.4" lengthAdjust="spacingAndGlyphs">0</text>
<rect x="29.2" y="247.80" width="2.2" height="0.9" fill="#666"/>
<text class="ax" x="25.7" y="250.15" textLength="2.4" lengthAdjust="spacingAndGlyphs">1</text>
<rect x="29.2" y="237.25" width="2.2" height="0.9" fill="#666"/>
<text class="ax" x="25.7" y="239.60" textLength="2.4" lengthAdjust="spacingAndGlyphs">2</text>
<rect x="29.2" y="226.70" width="2.2" height="0.9" fill="#666"/>
<text class="ax" x="25.7" y="229.05" textLength="2.4" lengthAdjust="spacingAndGlyphs">3</text>
<rect x="29.2" y="216.15" width="2.2" height="0.9" fill="#666"/>
<text class="ax" x="25.7" y="218.50" textLength="2.4" lengthAdjust="spacingAndGlyphs">4</text>
<text class="ax" x="15.8" y="207.1" style="font-size:5.3px">x10</text>
<text class="ax" x="26.2" y="206.0" style="font-size:4.2px;fill:#444">6</text>
<rect x="541.2" y="212.1" width="0.7" height="4.4" fill="#c4c4c4"/>
<text class="tt" x="44.8" y="215.7" style="font-size:12.4px">D</text>
<text class="tt" x="526.4" y="216.4" text-anchor="end"><tspan font-style="italic">L. hypoglauca</tspan> stems</text>
<polyline points="33,258.7 33.25,258.7 33.5,258.7 33.75,258.7 34.0,258.7 34.25,258.7 34.5,258.7 34.75,258.7 35.0,258.7 35.25,258.7 35.5,258.7 35.75,258.7 36.0,258.7 36.25,258.7 36.5,258.7 36.75,258.7 37.0,258.7 37.25,258.7 37.5,258.7 37.75,258.7 38.0,258.7 38.25,258.7 38.5,258.7 38.75,258.7 39.0,258.7 39.25,258.7 39.5,258.7 39.75,258.7 40.0,258.7 40.25,258.7 40.5,258.7 40.75,258.7 41.0,258.6 41.25,258.6 41.5,258.5 41.75,258.5 42.0,258.4 42.25,258.3 42.5,258.2 42.75,258.0 43.0,257.8 43.25,257.3 43.5,256.7 43.75,255.9 44.0,254.7 44.25,252.8 44.5,250.1 44.75,246.5 45.0,242.2 45.25,237.8 45.5,234.9 45.75,234.1 46.0,235.5 46.25,239.0 46.5,242.9 46.75,246.8 47.0,249.5 47.25,251.2 47.5,252.3 47.75,253.0 48.0,253.2 48.25,253.4 48.5,252.9 48.75,251.6 49.0,249.6 49.25,248.1 49.5,248.0 49.75,249.4 50.0,251.5 50.25,253.4 50.5,254.5 50.75,255.1 51.0,255.4 51.25,255.7 51.5,255.9 51.75,256.0 52.0,256.1 52.25,256.1 52.5,256.1 52.75,256.2 53.0,256.1 53.25,256.3 53.5,256.3 53.75,256.5 54.0,256.5 54.25,256.4 54.5,256.4 54.75,256.5 55.0,256.5 55.25,256.6 55.5,256.6 55.75,256.7 56.0,256.6 56.25,256.8 56.5,256.8 56.75,256.9 57.0,257.0 57.25,256.9 57.5,257.0 57.75,257.1 58.0,257.2 58.25,257.2 58.5,257.1 58.75,257.2 59.0,257.3 59.25,257.2 59.5,257.2 59.75,257.2 60.0,257.2 60.25,257.3 60.5,257.2 60.75,257.2 61.0,257.3 61.25,257.0 61.5,256.9 61.75,256.7 62.0,256.6 62.25,256.3 62.5,256.0 62.75,255.8 63.0,255.5 63.25,255.4 63.5,255.7 63.75,255.9 64.0,256.2 64.25,256.3 64.5,256.5 64.75,256.8 65.0,257.1 65.25,257.0 65.5,257.0 65.75,257.1 66.0,257.1 66.25,257.1 66.5,257.2 66.75,257.2 67.0,257.1 67.25,257.0 67.5,257.0 67.75,256.9 68.0,257.1 68.25,257.0 68.5,257.1 68.75,257.0 69.0,257.1 69.25,257.1 69.5,257.1 69.75,257.1 70.0,257.1 70.25,257.2 70.5,257.1 70.75,257.1 71.0,257.2 71.25,257.0 71.5,257.0 71.75,256.8 72.0,256.7 72.25,256.6 72.5,256.5 72.75,256.5 73.0,256.1 73.25,255.5 73.5,255.3 73.75,255.0 74.0,255.0 74.25,255.2 74.5,255.5 74.75,256.1 75.0,256.5 75.25,256.8 75.5,256.8 75.75,256.9 76.0,257.0 76.25,256.8 76.5,256.9 76.75,256.9 77.0,256.8 77.25,256.8 77.5,256.9 77.75,256.8 78.0,256.8 78.25,256.7 78.5,256.8 78.75,256.8 79.0,256.7 79.25,256.7 79.5,256.7 79.75,256.7 80.0,256.8 80.25,256.7 80.5,256.6 80.75,256.7 81.0,256.8 81.25,256.7 81.5,256.5 81.75,256.4 82.0,256.5 82.25,256.4 82.5,256.3 82.75,255.9 83.0,255.5 83.25,254.8 83.5,253.6 83.75,252.1 84.0,250.6 84.25,249.1 84.5,248.2 84.75,248.0 85.0,248.2 85.25,248.6 85.5,248.9 85.75,248.4 86.0,247.3 86.25,246.2 86.5,245.8 86.75,246.1 87.0,247.2 87.25,249.2 87.5,251.0 87.75,252.9 88.0,254.1 88.25,255.0 88.5,255.5 88.75,255.7 89.0,255.9 89.25,255.9 89.5,255.9 89.75,255.8 90.0,255.6 90.25,255.6 90.5,255.2 90.75,254.7 91.0,254.0 91.25,252.5 91.5,249.8 91.75,245.8 92.0,240.5 92.25,234.8 92.5,230.8 92.75,229.7 93.0,232.0 93.25,236.9 93.5,242.6 93.75,247.4 94.0,251.0 94.25,252.9 94.5,254.2 94.75,254.9 95.0,255.1 95.25,255.4 95.5,255.6 95.75,255.6 96.0,255.4 96.25,255.1 96.5,254.8 96.75,253.8 97.0,252.0 97.25,249.2 97.5,246.3 97.75,244.1 98.0,243.9 98.25,245.6 98.5,248.5 98.75,251.4 99.0,253.3 99.25,254.4 99.5,254.8 99.75,255.1 100.0,255.1 100.25,254.8 100.5,254.5 100.75,253.5 101.0,251.7 101.25,249.5 101.5,247.2 101.75,245.2 102.0,244.4 102.25,245.1 102.5,247.1 102.75,249.5 103.0,252.0 103.25,253.6 103.5,254.8 103.75,255.2 104.0,255.4 104.25,255.6 104.5,255.8 104.75,255.9 105.0,256.1 105.25,256.0 105.5,256.2 105.75,256.1 106.0,256.2 106.25,256.3 106.5,256.3 106.75,256.2 107.0,256.1 107.25,256.0 107.5,256.2 107.75,256.2 108.0,256.1 108.25,256.2 108.5,256.1 108.75,256.0 109.0,256.0 109.25,256.0 109.5,256.1 109.75,256.1 110.0,255.9 110.25,255.5 110.5,255.4 110.75,255.1 111.0,254.8 111.25,254.7 111.5,254.6 111.75,254.5 112.0,254.7 112.25,255.0 112.5,255.3 112.75,255.6 113.0,255.6 113.25,255.6 113.5,255.5 113.75,255.3 114.0,255.2 114.25,255.1 114.5,254.7 114.75,254.3 115.0,253.5 115.25,252.4 115.5,249.8 115.75,246.2 116.0,241.3 116.25,235.9 116.5,231.9 116.75,230.9 117.0,233.2 117.25,237.8 117.5,243.1 117.75,247.9 118.0,251.1 118.25,252.9 118.5,254.0 118.75,254.7 119.0,255.2 119.25,255.4 119.5,255.4 119.75,255.5 120.0,255.6 120.25,255.7 120.5,255.9 120.75,256.1 121.0,256.1 121.25,256.0 121.5,256.2 121.75,256.0 122.0,256.2 122.25,256.1 122.5,256.0 122.75,256.0 123.0,256.0 123.25,255.8 123.5,255.6 123.75,255.4 124.0,255.5 124.25,255.6 124.5,255.7 124.75,255.8 125.0,255.9 125.25,255.9 125.5,255.9 125.75,255.9 126.0,255.9 126.25,255.9 126.5,256.0 126.75,256.1 127.0,256.0 127.25,256.0 127.5,256.0 127.75,255.9 128.0,255.8 128.25,255.7 128.5,255.7 128.75,255.6 129.0,255.5 129.25,255.4 129.5,255.1 129.75,254.9 130.0,254.6 130.25,254.0 130.5,253.4 130.75,252.5 131.0,250.7 131.25,247.3 131.5,241.7 131.75,233.9 132.0,225.5 132.25,218.6 132.5,216.0 132.75,218.6 133.0,225.3 133.25,233.8 133.5,241.4 133.75,246.8 134.0,250.1 134.25,252.0 134.5,253.0 134.75,253.6 135.0,253.9 135.25,253.9 135.5,253.9 135.75,253.8 136.0,253.7 136.25,253.1 136.5,252.6 136.75,251.6 137.0,250.4 137.25,249.4 137.5,248.1 137.75,247.0 138.0,245.7 138.25,244.9 138.5,244.7 138.75,244.6 139.0,245.1 139.25,245.9 139.5,247.1 139.75,248.4 140.0,249.7 140.25,250.9 140.5,251.9 140.75,252.9 141.0,253.7 141.25,254.3 141.5,254.6 141.75,255.0 142.0,255.1 142.25,255.2 142.5,255.3 142.75,255.3 143.0,255.6 143.25,255.5 143.5,255.7 143.75,255.9 144.0,255.9 144.25,256.1 144.5,256.1 144.75,255.9 145.0,256.1 145.25,256.0 145.5,256.2 145.75,256.1 146.0,255.9 146.25,256.0 146.5,256.0 146.75,256.1 147.0,256.0 147.25,256.1 147.5,256.1 147.75,256.1 148.0,256.2 148.25,256.1 148.5,256.0 148.75,255.9 149.0,256.1 149.25,256.2 149.5,256.1 149.75,256.0 150.0,256.1 150.25,256.1 150.5,255.9 150.75,256.0 151.0,256.1 151.25,256.2 151.5,256.1 151.75,256.1 152.0,256.0 152.25,256.1 152.5,256.1 152.75,256.1 153.0,256.1 153.25,256.0 153.5,255.9 153.75,256.1 154.0,255.9 154.25,255.9 154.5,255.9 154.75,255.9 155.0,255.9 155.25,256.1 155.5,256.1 155.75,256.0 156.0,255.9 156.25,255.7 156.5,255.7 156.75,255.4 157.0,255.2 157.25,255.0 157.5,254.8 157.75,254.6 158.0,254.4 158.25,254.7 158.5,254.9 158.75,255.0 159.0,255.4 159.25,255.6 159.5,255.8 159.75,256.0 160.0,255.9 160.25,256.0 160.5,256.1 160.75,256.0 161.0,256.0 161.25,256.0 161.5,256.0 161.75,255.9 162.0,256.0 162.25,256.0 162.5,256.1 162.75,256.1 163.0,256.2 163.25,256.3 163.5,256.2 163.75,256.3 164.0,256.3 164.25,256.2 164.5,256.1 164.75,256.2 165.0,256.2 165.25,256.2 165.5,256.3 165.75,256.1 166.0,256.3 166.25,256.3 166.5,256.2 166.75,256.2 167.0,256.1 167.25,256.0 167.5,256.1 167.75,256.0 168.0,256.1 168.25,256.1 168.5,255.8 168.75,255.6 169.0,255.0 169.25,254.1 169.5,253.3 169.75,252.6 170.0,252.5 170.25,253.1 170.5,253.6 170.75,253.7 171.0,253.3 171.25,252.5 171.5,251.1 171.75,249.1 172.0,247.0 172.25,245.2 172.5,243.8 172.75,243.4 173.0,244.1 173.25,245.7 173.5,247.8 173.75,250.1 174.0,251.9 174.25,253.4 174.5,254.4 174.75,255.0 175.0,255.3 175.25,255.4 175.5,255.5 175.75,255.6 176.0,255.9 176.25,256.0 176.5,256.0 176.75,256.2 177.0,256.2 177.25,256.1 177.5,256.2 177.75,256.1 178.0,256.3 178.25,256.1 178.5,256.3 178.75,256.3 179.0,256.2 179.25,256.3 179.5,256.2 179.75,256.2 180.0,256.2 180.25,256.3 180.5,256.2 180.75,256.3 181.0,256.2 181.25,256.2 181.5,256.1 181.75,256.2 182.0,256.3 182.25,256.3 182.5,256.2 182.75,256.1 183.0,256.0 183.25,255.9 183.5,255.8 183.75,255.9 184.0,255.8 184.25,255.7 184.5,255.6 184.75,255.4 185.0,255.0 185.25,254.4 185.5,253.1 185.75,250.9 186.0,248.0 186.25,244.8 186.5,241.8 186.75,240.3 187.0,240.9 187.25,243.5 187.5,246.8 187.75,249.9 188.0,252.3 188.25,253.8 188.5,254.6 188.75,255.1 189.0,255.4 189.25,255.5 189.5,255.7 189.75,255.8 190.0,255.8 190.25,255.7 190.5,255.8 190.75,255.9 191.0,255.7 191.25,255.3 191.5,254.6 191.75,253.8 192.0,253.0 192.25,252.7 192.5,253.0 192.75,253.5 193.0,254.3 193.25,255.2 193.5,255.7 193.75,256.0 194.0,256.2 194.25,256.1 194.5,256.3 194.75,256.2 195.0,256.2 195.25,256.3 195.5,256.2 195.75,256.3 196.0,256.3 196.25,256.3 196.5,256.3 196.75,256.4 197.0,256.4 197.25,256.4 197.5,256.4 197.75,256.4 198.0,256.3 198.25,256.3 198.5,256.2 198.75,256.3 199.0,256.2 199.25,256.1 199.5,256.1 199.75,256.2 200.0,256.2 200.25,256.2 200.5,256.2 200.75,256.1 201.0,256.2 201.25,256.2 201.5,256.3 201.75,256.2 202.0,256.2 202.25,256.2 202.5,256.3 202.75,256.3 203.0,256.2 203.25,256.1 203.5,256.3 203.75,256.3 204.0,256.2 204.25,256.3 204.5,256.5 204.75,256.3 205.0,256.2 205.25,256.4 205.5,256.3 205.75,256.4 206.0,256.4 206.25,256.5 206.5,256.4 206.75,256.5 207.0,256.3 207.25,256.3 207.5,256.2 207.75,256.4 208.0,256.3 208.25,256.3 208.5,256.4 208.75,256.4 209.0,256.3 209.25,256.4 209.5,256.5 209.75,256.4 210.0,256.4 210.25,256.4 210.5,256.3 210.75,256.3 211.0,256.4 211.25,256.4 211.5,256.3 211.75,256.2 212.0,255.9 212.25,255.7 212.5,255.5 212.75,255.6 213.0,255.4 213.25,255.4 213.5,255.6 213.75,255.8 214.0,256.1 214.25,256.2 214.5,256.4 214.75,256.4 215.0,256.4 215.25,256.4 215.5,256.5 215.75,256.4 216.0,256.6 216.25,256.7 216.5,256.6 216.75,256.7 217.0,256.8 217.25,256.6 217.5,256.5 217.75,256.5 218.0,256.4 218.25,256.6 218.5,256.7 218.75,256.6 219.0,256.5 219.25,256.7 219.5,256.7 219.75,256.8 220.0,256.8 220.25,256.6 220.5,256.6 220.75,256.6 221.0,256.6 221.25,256.6 221.5,256.6 221.75,256.4 222.0,256.3 222.25,255.9 222.5,255.6 222.75,255.5 223.0,255.6 223.25,255.5 223.5,255.7 223.75,256.0 224.0,256.0 224.25,256.3 224.5,256.4 224.75,256.6 225.0,256.6 225.25,256.6 225.5,256.8 225.75,256.8 226.0,256.8 226.25,256.8 226.5,256.8 226.75,256.7 227.0,256.7 227.25,256.8 227.5,256.8 227.75,256.8 228.0,256.7 228.25,256.8 228.5,256.8 228.75,256.9 229.0,256.9 229.25,257.0 229.5,256.9 229.75,256.8 230.0,256.8 230.25,256.9 230.5,257.0 230.75,256.9 231.0,256.8 231.25,256.9 231.5,256.8 231.75,256.7 232.0,256.8 232.25,256.8 232.5,256.9 232.75,256.9 233.0,256.9 233.25,256.9 233.5,256.9 233.75,257.0 234.0,256.9 234.25,256.8 234.5,256.9 234.75,256.9 235.0,257.0 235.25,257.1 235.5,257.0 235.75,257.1 236.0,257.1 236.25,257.2 236.5,257.2 236.75,257.1 237.0,256.9 237.25,257.0 237.5,257.1 237.75,257.1 238.0,257.1 238.25,257.0 238.5,257.1 238.75,257.1 239.0,257.2 239.25,257.2 239.5,257.1 239.75,257.0 240.0,257.1 240.25,257.0 240.5,257.1 240.75,257.2 241.0,257.3 241.25,257.1 241.5,257.2 241.75,257.3 242.0,257.1 242.25,257.1 242.5,257.2 242.75,257.0 243.0,257.0 243.25,257.0 243.5,257.1 243.75,257.2 244.0,257.1 244.25,257.0 244.5,257.1 244.75,257.2 245.0,257.1 245.25,257.1 245.5,257.0 245.75,257.1 246.0,257.0 246.25,257.0 246.5,257.0 246.75,257.0 247.0,257.0 247.25,257.2 247.5,257.3 247.75,257.3 248.0,257.4 248.25,257.3 248.5,257.4 248.75,257.3 249.0,257.3 249.25,257.2 249.5,257.3 249.75,257.1 250.0,257.1 250.25,257.1 250.5,257.2 250.75,257.3 251.0,257.3 251.25,257.4 251.5,257.2 251.75,257.2 252.0,257.2 252.25,257.2 252.5,257.3 252.75,257.4 253.0,257.3 253.25,257.4 253.5,257.4 253.75,257.4 254.0,257.5 254.25,257.3 254.5,257.4 254.75,257.4 255.0,257.3 255.25,257.2 255.5,257.3 255.75,257.3 256.0,257.3 256.25,257.2 256.5,257.3 256.75,257.2 257.0,257.3 257.25,257.1 257.5,257.2 257.75,257.3 258.0,257.1 258.25,257.1 258.5,257.1 258.75,257.0 259.0,257.1 259.25,257.1 259.5,257.1 259.75,257.1 260.0,257.0 260.25,257.0 260.5,257.3 260.75,257.2 261.0,257.2 261.25,257.1 261.5,257.1 261.75,257.2 262.0,257.2 262.25,257.3 262.5,257.3 262.75,257.2 263.0,257.3 263.25,257.4 263.5,257.2 263.75,257.2 264.0,257.3 264.25,257.1 264.5,257.2 264.75,257.2 265.0,257.2 265.25,257.3 265.5,257.3 265.75,257.3 266.0,257.3 266.25,257.2 266.5,257.3 266.75,257.2 267.0,257.4 267.25,257.4 267.5,257.3 267.75,257.5 268.0,257.4 268.25,257.4 268.5,257.3 268.75,257.4 269.0,257.3 269.25,257.4 269.5,257.4 269.75,257.5 270.0,257.5 270.25,257.5 270.5,257.5 270.75,257.5 271.0,257.5 271.25,257.5 271.5,257.4 271.75,257.3 272.0,257.4 272.25,257.2 272.5,257.4 272.75,257.3 273.0,257.2 273.25,257.4 273.5,257.3 273.75,257.2 274.0,257.2 274.25,257.4 274.5,257.5 274.75,257.5 275.0,257.5 275.25,257.4 275.5,257.5 275.75,257.4 276.0,257.2 276.25,257.4 276.5,257.2 276.75,257.4 277.0,257.5 277.25,257.3 277.5,257.3 277.75,257.3 278.0,257.3 278.25,257.3 278.5,257.2 278.75,257.3 279.0,257.2 279.25,257.1 279.5,257.2 279.75,257.3 280.0,257.5 280.25,257.3 280.5,257.3 280.75,257.4 281.0,257.4 281.25,257.3 281.5,257.4 281.75,257.5 282.0,257.3 282.25,257.3 282.5,257.4 282.75,257.3 283.0,257.2 283.25,257.4 283.5,257.5 283.75,257.6 284.0,257.5 284.25,257.5 284.5,257.4 284.75,257.5 285.0,257.3 285.25,257.5 285.5,257.4 285.75,257.4 286.0,257.5 286.25,257.5 286.5,257.4 286.75,257.5 287.0,257.5 287.25,257.5 287.5,257.5 287.75,257.4 288.0,257.4 288.25,257.4 288.5,257.4 288.75,257.3 289.0,257.4 289.25,257.3 289.5,257.4 289.75,257.5 290.0,257.5 290.25,257.3 290.5,257.3 290.75,257.4 291.0,257.5 291.25,257.3 291.5,257.4 291.75,257.4 292.0,257.5 292.25,257.6 292.5,257.5 292.75,257.4 293.0,257.4 293.25,257.3 293.5,257.3 293.75,257.3 294.0,257.2 294.25,257.3 294.5,257.4 294.75,257.4 295.0,257.4 295.25,257.5 295.5,257.4 295.75,257.4 296.0,257.3 296.25,257.3 296.5,257.4 296.75,257.3 297.0,257.5 297.25,257.3 297.5,257.4 297.75,257.3 298.0,257.3 298.25,257.4 298.5,257.4 298.75,257.3 299.0,257.4 299.25,257.5 299.5,257.5 299.75,257.5 300.0,257.4 300.25,257.3 300.5,257.5 300.75,257.5 301.0,257.4 301.25,257.4 301.5,257.5 301.75,257.6 302.0,257.6 302.25,257.6 302.5,257.6 302.75,257.5 303.0,257.4 303.25,257.4 303.5,257.4 303.75,257.5 304.0,257.4 304.25,257.5 304.5,257.5 304.75,257.6 305.0,257.7 305.25,257.5 305.5,257.4 305.75,257.3 306.0,257.5 306.25,257.6 306.5,257.5 306.75,257.5 307.0,257.4 307.25,257.6 307.5,257.6 307.75,257.4 308.0,257.5 308.25,257.5 308.5,257.5 308.75,257.6 309.0,257.7 309.25,257.7 309.5,257.5 309.75,257.6 310.0,257.5 310.25,257.4 310.5,257.4 310.75,257.6 311.0,257.6 311.25,257.7 311.5,257.6 311.75,257.5 312.0,257.4 312.25,257.4 312.5,257.5 312.75,257.5 313.0,257.6 313.25,257.6 313.5,257.4 313.75,257.5 314.0,257.5 314.25,257.5 314.5,257.6 314.75,257.7 315.0,257.7 315.25,257.5 315.5,257.7 315.75,257.5 316.0,257.5 316.25,257.4 316.5,257.5 316.75,257.6 317.0,257.6 317.25,257.5 317.5,257.6 317.75,257.5 318.0,257.6 318.25,257.5 318.5,257.4 318.75,257.4 319.0,257.4 319.25,257.5 319.5,257.6 319.75,257.5 320.0,257.6 320.25,257.6 320.5,257.5 320.75,257.4 321.0,257.4 321.25,257.5 321.5,257.5 321.75,257.4 322.0,257.5 322.25,257.6 322.5,257.5 322.75,257.4 323.0,257.5 323.25,257.6 323.5,257.6 323.75,257.6 324.0,257.6 324.25,257.7 324.5,257.8 324.75,257.8 325.0,257.6 325.25,257.6 325.5,257.5 325.75,257.7 326.0,257.7 326.25,257.6 326.5,257.6 326.75,257.5 327.0,257.5 327.25,257.5 327.5,257.6 327.75,257.5 328.0,257.7 328.25,257.5 328.5,257.4 328.75,257.5 329.0,257.6 329.25,257.7 329.5,257.6 329.75,257.5 330.0,257.5 330.25,257.4 330.5,257.4 330.75,257.4 331.0,257.4 331.25,257.5 331.5,257.5 331.75,257.4 332.0,257.4 332.25,257.4 332.5,257.6 332.75,257.6 333.0,257.5 333.25,257.5 333.5,257.6 333.75,257.5 334.0,257.5 334.25,257.4 334.5,257.6 334.75,257.6 335.0,257.7 335.25,257.7 335.5,257.7 335.75,257.6 336.0,257.7 336.25,257.6 336.5,257.7 336.75,257.6 337.0,257.8 337.25,257.7 337.5,257.7 337.75,257.6 338.0,257.6 338.25,257.7 338.5,257.7 338.75,257.6 339.0,257.7 339.25,257.6 339.5,257.5 339.75,257.6 340.0,257.6 340.25,257.5 340.5,257.7 340.75,257.6 341.0,257.8 341.25,257.6 341.5,257.7 341.75,257.5 342.0,257.5 342.25,257.6 342.5,257.6 342.75,257.8 343.0,257.6 343.25,257.7 343.5,257.6 343.75,257.8 344.0,257.7 344.25,257.7 344.5,257.8 344.75,257.8 345.0,257.8 345.25,257.9 345.5,257.9 345.75,257.8 346.0,257.7 346.25,257.7 346.5,257.6 346.75,257.6 347.0,257.7 347.25,257.7 347.5,257.6 347.75,257.7 348.0,257.6 348.25,257.7 348.5,257.6 348.75,257.5 349.0,257.5 349.25,257.7 349.5,257.8 349.75,257.8 350.0,257.9 350.25,257.7 350.5,257.8 350.75,257.8 351.0,257.7 351.25,257.6 351.5,257.6 351.75,257.6 352.0,257.5 352.25,257.5 352.5,257.5 352.75,257.7 353.0,257.7 353.25,257.7 353.5,257.6 353.75,257.6 354.0,257.8 354.25,257.8 354.5,257.7 354.75,257.7 355.0,257.8 355.25,257.9 355.5,257.9 355.75,258.0 356.0,257.8 356.25,257.9 356.5,257.9 356.75,257.9 357.0,257.9 357.25,257.9 357.5,258.0 357.75,257.8 358.0,257.7 358.25,257.6 358.5,257.7 358.75,257.8 359.0,257.8 359.25,257.8 359.5,257.9 359.75,257.7 360.0,257.8 360.25,257.9 360.5,257.9 360.75,257.9 361.0,257.9 361.25,257.8 361.5,257.7 361.75,257.8 362.0,257.8 362.25,257.7 362.5,257.8 362.75,257.8 363.0,257.8 363.25,257.7 363.5,257.6 363.75,257.8 364.0,257.9 364.25,257.8 364.5,257.9 364.75,257.9 365.0,258.0 365.25,257.9 365.5,257.9 365.75,257.8 366.0,257.9 366.25,258.0 366.5,257.8 366.75,257.9 367.0,257.9 367.25,257.9 367.5,258.0 367.75,257.8 368.0,257.9 368.25,257.8 368.5,257.9 368.75,257.8 369.0,257.7 369.25,257.6 369.5,257.8 369.75,257.7 370.0,257.7 370.25,257.7 370.5,257.7 370.75,257.8 371.0,257.9 371.25,257.8 371.5,257.9 371.75,257.8 372.0,257.8 372.25,257.7 372.5,257.7 372.75,257.7 373.0,257.8 373.25,257.7 373.5,257.7 373.75,257.8 374.0,257.8 374.25,257.7 374.5,257.6 374.75,257.6 375.0,257.5 375.25,257.5 375.5,257.7 375.75,257.7 376.0,257.8 376.25,257.9 376.5,257.9 376.75,257.9 377.0,257.7 377.25,257.7 377.5,257.7 377.75,257.7 378.0,257.6 378.25,257.7 378.5,257.6 378.75,257.6 379.0,257.7 379.25,257.7 379.5,257.7 379.75,257.8 380.0,257.8 380.25,257.8 380.5,257.8 380.75,257.6 381.0,257.6 381.25,257.5 381.5,257.5 381.75,257.5 382.0,257.4 382.25,257.5 382.5,257.7 382.75,257.7 383.0,257.7 383.25,257.7 383.5,257.7 383.75,257.7 384.0,257.6 384.25,257.7 384.5,257.6 384.75,257.6 385.0,257.6 385.25,257.5 385.5,257.5 385.75,257.5 386.0,257.6 386.25,257.6 386.5,257.6 386.75,257.5 387.0,257.4 387.25,257.3 387.5,257.5 387.75,257.4 388.0,257.3 388.25,257.3 388.5,257.4 388.75,257.4 389.0,257.6 389.25,257.4 389.5,257.3 389.75,257.4 390.0,257.5 390.25,257.5 390.5,257.4 390.75,257.4 391.0,257.4 391.25,257.4 391.5,257.5 391.75,257.5 392.0,257.4 392.25,257.5 392.5,257.4 392.75,257.4 393.0,257.5 393.25,257.5 393.5,257.6 393.75,257.6 394.0,257.6 394.25,257.6 394.5,257.4 394.75,257.4 395.0,257.4 395.25,257.4 395.5,257.4 395.75,257.4 396.0,257.4 396.25,257.5 396.5,257.3 396.75,257.4 397.0,257.5 397.25,257.4 397.5,257.4 397.75,257.3 398.0,257.4 398.25,257.3 398.5,257.2 398.75,257.3 399.0,257.3 399.25,257.3 399.5,257.4 399.75,257.2 400.0,257.3 400.25,257.4 400.5,257.2 400.75,257.2 401.0,257.2 401.25,257.1 401.5,257.1 401.75,257.3 402.0,257.1 402.25,257.1 402.5,257.1 402.75,257.1 403.0,257.1 403.25,257.2 403.5,257.3 403.75,257.4 404.0,257.3 404.25,257.3 404.5,257.4 404.75,257.2 405.0,257.3 405.25,257.1 405.5,257.2 405.75,257.1 406.0,257.2 406.25,257.2 406.5,257.1 406.75,257.1 407.0,257.2 407.25,257.1 407.5,257.1 407.75,257.0 408.0,257.0 408.25,257.0 408.5,257.1 408.75,257.1 409.0,257.1 409.25,257.2 409.5,257.2 409.75,257.3 410.0,257.1 410.25,257.1 410.5,257.0 410.75,257.2 411.0,257.2 411.25,257.0 411.5,257.1 411.75,257.1 412.0,257.0 412.25,257.0 412.5,257.1 412.75,257.0 413.0,256.9 413.25,256.9 413.5,257.1 413.75,257.0 414.0,257.0 414.25,257.0 414.5,257.1 414.75,257.1 415.0,257.1 415.25,257.1 415.5,257.0 415.75,257.0 416.0,257.1 416.25,256.9 416.5,256.9 416.75,256.9 417.0,256.8 417.25,256.8 417.5,256.9 417.75,256.9 418.0,257.0 418.25,257.1 418.5,257.1 418.75,257.0 419.0,257.1 419.25,257.1 419.5,257.0 419.75,256.9 420.0,256.9 420.25,256.9 420.5,256.9 420.75,256.9 421.0,256.9 421.25,257.0 421.5,257.1 421.75,257.2 422.0,257.2 422.25,256.9 422.5,256.9 422.75,256.9 423.0,256.8 423.25,256.8 423.5,256.8 423.75,256.9 424.0,257.0 424.25,257.0 424.5,257.0 424.75,257.1 425.0,257.0 425.25,256.8 425.5,256.8 425.75,256.9 426.0,256.9 426.25,257.0 426.5,257.1 426.75,257.0 427.0,257.0 427.25,257.0 427.5,256.9 427.75,257.0 428.0,256.8 428.25,256.8 428.5,256.7 428.75,256.9 429.0,257.0 429.25,256.9 429.5,256.8 429.75,256.8 430.0,256.9 430.25,257.0 430.5,257.0 430.75,257.1 431.0,257.0 431.25,256.8 431.5,256.7 431.75,256.8 432.0,256.7 432.25,256.6 432.5,256.6 432.75,256.7 433.0,256.8 433.25,256.8 433.5,256.6 433.75,256.6 434.0,256.7 434.25,256.8 434.5,256.7 434.75,256.8 435.0,256.7 435.25,256.9 435.5,256.9 435.75,256.9 436.0,256.9 436.25,256.8 436.5,256.6 436.75,256.6 437.0,256.6 437.25,256.5 437.5,256.7 437.75,256.6 438.0,256.8 438.25,256.6 438.5,256.8 438.75,256.8 439.0,256.6 439.25,256.6 439.5,256.7 439.75,256.6 440.0,256.5 440.25,256.6 440.5,256.5 440.75,256.5 441.0,256.4 441.25,256.6 441.5,256.5 441.75,256.5 442.0,256.5 442.25,256.6 442.5,256.5 442.75,256.6 443.0,256.7 443.25,256.7 443.5,256.8 443.75,256.8 444.0,256.6 444.25,256.7 444.5,256.7 444.75,256.5 445.0,256.6 445.25,256.7 445.5,256.7 445.75,256.6 446.0,256.5 446.25,256.4 446.5,256.5 446.75,256.6 447.0,256.7 447.25,256.6 447.5,256.6 447.75,256.7 448.0,256.6 448.25,256.6 448.5,256.7 448.75,256.5 449.0,256.5 449.25,256.5 449.5,256.4 449.75,256.6 450.0,256.5 450.25,256.6 450.5,256.5 450.75,256.4 451.0,256.5 451.25,256.4 451.5,256.4 451.75,256.4 452.0,256.4 452.25,256.5 452.5,256.5 452.75,256.5 453.0,256.5 453.25,256.4 453.5,256.2 453.75,256.2 454.0,256.3 454.25,256.4 454.5,256.5 454.75,256.4 455.0,256.4 455.25,256.2 455.5,256.3 455.75,256.2 456.0,256.3 456.25,256.3 456.5,256.3 456.75,256.3 457.0,256.2 457.25,256.1 457.5,256.1 457.75,256.1 458.0,256.1 458.25,256.1 458.5,256.0 458.75,255.9 459.0,255.8 459.25,256.0 459.5,256.0 459.75,256.0 460.0,255.9 460.25,255.9 460.5,256.0 460.75,256.1 461.0,255.9 461.25,255.9 461.5,255.9 461.75,256.0 462.0,256.0 462.25,256.0 462.5,256.0 462.75,255.9 463.0,255.8 463.25,255.9 463.5,255.8 463.75,255.9 464.0,256.0 464.25,256.0 464.5,256.0 464.75,256.0 465.0,255.8 465.25,255.9 465.5,255.8 465.75,255.8 466.0,255.8 466.25,255.6 466.5,255.6 466.75,255.5 467.0,255.5 467.25,255.6 467.5,255.7 467.75,255.7 468.0,255.7 468.25,255.5 468.5,255.6 468.75,255.7 469.0,255.7 469.25,255.4 469.5,255.5 469.75,255.5 470.0,255.5 470.25,255.4 470.5,255.3 470.75,255.5 471.0,255.5 471.25,255.4 471.5,255.5 471.75,255.4 472.0,255.3 472.25,255.3 472.5,255.3 472.75,255.2 473.0,255.4 473.25,255.4 473.5,255.3 473.75,255.3 474.0,255.4 474.25,255.2 474.5,255.3 474.75,255.4 475.0,255.2 475.25,255.2 475.5,255.3 475.75,255.1 476.0,255.3 476.25,255.1 476.5,255.1 476.75,255.2 477.0,255.3 477.25,255.3 477.5,255.3 477.75,255.2 478.0,255.2 478.25,255.2 478.5,255.2 478.75,255.1 479.0,254.9 479.25,254.9 479.5,254.8 479.75,254.8 480.0,254.8 480.25,254.9 480.5,255.0 480.75,255.0 481.0,254.9 481.25,254.9 481.5,255.0 481.75,255.0 482.0,254.9 482.25,254.9 482.5,254.7 482.75,254.9 483.0,254.8 483.25,254.8 483.5,254.9 483.75,254.7 484.0,254.7 484.25,254.6 484.5,254.7 484.75,254.8 485.0,254.8 485.25,254.6 485.5,254.5 485.75,254.6 486.0,254.7 486.25,254.7 486.5,254.7 486.75,254.7 487.0,254.7 487.25,254.8 487.5,254.7 487.75,254.7 488.0,254.7 488.25,254.7 488.5,254.5 488.75,254.6 489.0,254.4 489.25,254.4 489.5,254.6 489.75,254.4 490.0,254.3 490.25,254.4 490.5,254.4 490.75,254.4 491.0,254.5 491.25,254.3 491.5,254.2 491.75,254.1 492.0,254.2 492.25,254.2 492.5,254.3 492.75,254.3 493.0,254.3 493.25,254.3 493.5,254.3 493.75,254.3 494.0,254.2 494.25,254.3 494.5,254.3 494.75,254.3 495.0,254.3 495.25,254.3 495.5,254.1 495.75,254.2 496.0,254.0 496.25,254.0 496.5,254.0 496.75,254.1 497.0,254.1 497.25,254.1 497.5,254.1 497.75,254.0 498.0,253.9 498.25,253.8 498.5,253.9 498.75,253.9 499.0,254.0 499.25,253.9 499.5,253.9 499.75,253.8 500.0,253.9 500.25,253.9 500.5,253.8 500.75,253.8 501.0,253.7 501.25,253.6 501.5,253.7 501.75,253.7 502.0,253.7 502.25,253.5 502.5,253.5 502.75,253.4 503.0,253.3 503.25,253.2 503.5,253.3 503.75,253.4 504.0,253.3 504.25,253.2 504.5,253.2 504.75,253.1 505.0,253.2 505.25,253.3 505.5,253.1 505.75,253.1 506.0,252.9 506.25,253.0 506.5,252.9 506.75,252.9 507.0,252.9 507.25,252.9 507.5,252.7 507.75,252.7 508.0,252.6 508.25,252.6 508.5,252.5 508.75,252.6 509.0,252.7 509.25,252.7 509.5,252.6 509.75,252.4 510.0,252.3 510.25,251.9 510.5,251.6 510.75,251.2 511.0,250.7 511.25,250.5 511.5,250.4 511.75,250.6 512.0,250.9 512.25,251.2 512.5,251.4 512.75,251.6 513.0,251.6 513.25,251.9 513.5,252.0 513.75,251.9 514.0,252.0 514.25,252.0 514.5,251.9 514.75,251.7 515.0,251.6 515.25,251.5 515.5,251.4 515.75,251.5 516.0,251.4 516.25,251.3 516.5,251.4 516.75,251.3 517.0,251.3 517.25,251.4 517.5,251.4 517.75,251.5 518.0,251.4 518.25,251.2 518.5,251.2 518.75,251.3 519.0,251.1 519.25,251.0 519.5,250.9 519.75,250.8 520.0,251.0 520.25,251.0 520.5,251.1 520.75,250.9 521.0,250.9 521.25,250.9 521.5,250.8 521.75,250.8 522.0,250.8 522.25,250.7 522.5,250.7 522.75,250.6 523.0,250.6 523.25,250.5 523.5,250.3 523.75,250.3 524.0,250.1 524.25,250.3 524.5,250.1 524.75,250.2 525.0,250.1 525.25,250.0 525.5,250.1 525.75,249.9 526.0,249.9 526.25,249.9 526.5,249.9 526.75,249.9 527.0,249.9 527.25,249.7 527.5,249.7 527.75,249.7 528.0,249.8 528.25,249.7 528.5,249.7 528.75,249.4 529.0,249.3 529.25,249.3 529.5,249.2 529.75,249.4 530.0,249.3 530.25,249.2 530.5,249.1 530.75,249.1 531.0,249.1 531.25,248.9 531.5,249.0 531.75,248.8 532.0,248.7 532.25,248.7 532.5,248.7 532.75,248.8 533.0,248.6 533.25,248.7 533.5,248.6 533.75,248.5 534.0,248.4 534.25,248.5 534.5,248.5 534.75,248.3 535.0,248.2 535.25,248.2 535.5,248.4 535.75,248.3 536.0,248.3 536.25,248.1 536.5,248.0 536.75,248.0 537.0,248.1 537.25,247.9 537.5,247.8 537.75,247.9 538.0,247.8 538.25,247.8 538.5,247.6 538.75,247.6 539.0,247.6 539.25,247.5 539.5,247.5 539.75,247.5 540.0,247.4 540.25,247.4 540.5,247.5 540.75,247.4 541.0,247.2 541.25,247.2 541.5,247.1 541.75,247.1 542.0,247.0 542.25,247.0 542.5,247.0 542.75,247.1 543.0,246.9 543.25,246.9 543.5,246.9 543.75,246.9 544.0,246.9 544.25,246.8 544.5,246.7" fill="none" stroke="#f56468" stroke-width="1.2" stroke-linejoin="round"/>
<g stroke="#ff4763" stroke-width="0.95" fill="none" stroke-linecap="round" stroke-linejoin="round">
<line x1="78.3" y1="232.3" x2="85.4" y2="244.6"/><polyline points="81.5,242.6 85.4,244.6 85.6,240.2"/>
<line x1="102.3" y1="224.0" x2="102.3" y2="242.0"/><polyline points="99.9,238.3 102.3,242.0 104.7,238.3"/>
<line x1="150.4" y1="227.7" x2="141.2" y2="243.9"/><polyline points="140.9,239.5 141.2,243.9 145.1,241.9"/>
<line x1="199.7" y1="225.5" x2="192.9" y2="251.3"/><polyline points="191.5,247.1 192.9,251.3 196.2,248.3"/>
</g>
<text class="lb" x="40.54" y="233.2" textLength="10.31" lengthAdjust="spacingAndGlyphs">1-2</text>
<text class="lb" x="75.67" y="231.4" textLength="3.87" lengthAdjust="spacingAndGlyphs">9</text>
<text class="lb" x="88.63" y="226.4" textLength="7.74" lengthAdjust="spacingAndGlyphs">12</text>
<text class="lb" x="98.73" y="222.1" textLength="7.74" lengthAdjust="spacingAndGlyphs">17</text>
<text class="lb" x="113.23" y="226.8" textLength="7.74" lengthAdjust="spacingAndGlyphs">20</text>
<text class="lb" x="128.63" y="212.9" textLength="7.74" lengthAdjust="spacingAndGlyphs">24</text>
<text class="lb" x="147.53" y="226.8" textLength="7.74" lengthAdjust="spacingAndGlyphs">25</text>
<text class="lb" x="169.23" y="241.0" textLength="7.74" lengthAdjust="spacingAndGlyphs">36</text>
<text class="lb" x="182.93" y="237.8" textLength="7.74" lengthAdjust="spacingAndGlyphs">42</text>
<text class="lb" x="195.43" y="224.0" textLength="7.74" lengthAdjust="spacingAndGlyphs">43</text>
<rect x="32.0" y="276.2" width="1.8" height="48.89999999999999" fill="#cdcdcd"/>
<rect x="31.0" y="276.2" width="1.1" height="48.89999999999999" fill="#5e5e5e"/>
<rect x="34.3" y="276.8" width="0.6" height="3.2" fill="#bbbbbb"/>
<rect x="29.2" y="323.45" width="2.2" height="0.9" fill="#666"/>
<text class="ax" x="25.7" y="325.80" textLength="2.4" lengthAdjust="spacingAndGlyphs">0</text>
<rect x="29.2" y="312.75" width="2.2" height="0.9" fill="#666"/>
<text class="ax" x="25.7" y="315.10" textLength="2.4" lengthAdjust="spacingAndGlyphs">1</text>
<rect x="29.2" y="302.05" width="2.2" height="0.9" fill="#666"/>
<text class="ax" x="25.7" y="304.40" textLength="2.4" lengthAdjust="spacingAndGlyphs">2</text>
<rect x="29.2" y="291.35" width="2.2" height="0.9" fill="#666"/>
<text class="ax" x="25.7" y="293.70" textLength="2.4" lengthAdjust="spacingAndGlyphs">3</text>
<rect x="29.2" y="280.65" width="2.2" height="0.9" fill="#666"/>
<text class="ax" x="25.7" y="283.00" textLength="2.4" lengthAdjust="spacingAndGlyphs">4</text>
<text class="ax" x="15.8" y="272.1" style="font-size:5.3px">x10</text>
<text class="ax" x="26.2" y="271.0" style="font-size:4.2px;fill:#444">6</text>
<rect x="541.2" y="276.8" width="0.7" height="4.4" fill="#c4c4c4"/>
<text class="tt" x="44.8" y="279.4" style="font-size:12.4px">E</text>
<text class="tt" x="532.3" y="281.9" text-anchor="end"><tspan font-style="italic">L. hypoglauca</tspan> leaves</text>
<polyline points="33,324.0 33.25,324.0 33.5,324.0 33.75,324.0 34.0,324.0 34.25,324.0 34.5,324.0 34.75,324.0 35.0,324.0 35.25,324.0 35.5,324.0 35.75,324.0 36.0,324.0 36.25,324.0 36.5,324.0 36.75,324.0 37.0,324.0 37.25,324.0 37.5,324.0 37.75,324.0 38.0,324.0 38.25,324.0 38.5,324.0 38.75,324.0 39.0,324.0 39.25,324.0 39.5,324.0 39.75,324.0 40.0,324.0 40.25,324.0 40.5,324.0 40.75,324.0 41.0,323.9 41.25,323.9 41.5,323.9 41.75,323.8 42.0,323.7 42.25,323.6 42.5,323.4 42.75,323.2 43.0,323.0 43.25,322.2 43.5,321.2 43.75,320.1 44.0,318.5 44.25,316.1 44.5,312.2 44.75,307.4 45.0,301.5 45.25,295.6 45.5,291.4 45.75,290.3 46.0,292.6 46.25,297.2 46.5,302.8 46.75,307.3 47.0,310.4 47.25,311.8 47.5,312.7 47.75,313.3 48.0,313.9 48.25,314.0 48.5,313.4 48.75,312.4 49.0,312.2 49.25,313.6 49.5,315.9 49.75,318.0 50.0,319.5 50.25,320.2 50.5,320.6 50.75,320.6 51.0,320.7 51.25,320.7 51.5,320.5 51.75,320.5 52.0,320.1 52.25,319.4 52.5,318.6 52.75,318.0 53.0,317.7 53.25,318.0 53.5,318.6 53.75,319.3 54.0,320.0 54.25,320.6 54.5,320.9 54.75,321.1 55.0,321.3 55.25,321.3 55.5,321.2 55.75,321.1 56.0,321.1 56.25,321.2 56.5,321.3 56.75,321.5 57.0,321.3 57.25,321.4 57.5,321.4 57.75,321.4 58.0,321.4 58.25,321.3 58.5,321.5 58.75,321.6 59.0,321.4 59.25,321.4 59.5,321.4 59.75,321.4 60.0,321.5 60.25,321.3 60.5,321.3 60.75,321.4 61.0,321.4 61.25,321.3 61.5,321.3 61.75,321.3 62.0,321.0 62.25,321.0 62.5,320.8 62.75,320.6 63.0,320.6 63.25,320.6 63.5,320.8 63.75,320.8 64.0,321.0 64.25,321.1 64.5,321.2 64.75,321.1 65.0,321.1 65.25,321.2 65.5,321.1 65.75,321.3 66.0,321.4 66.25,321.3 66.5,321.3 66.75,321.4 67.0,321.3 67.25,321.2 67.5,321.4 67.75,321.5 68.0,321.5 68.25,321.6 68.5,321.4 68.75,321.4 69.0,321.5 69.25,321.5 69.5,321.5 69.75,321.5 70.0,321.6 70.25,321.5 70.5,321.4 70.75,321.4 71.0,321.4 71.25,321.3 71.5,321.2 71.75,321.2 72.0,321.3 72.25,321.2 72.5,321.3 72.75,321.4 73.0,321.2 73.25,321.2 73.5,321.3 73.75,321.1 74.0,321.2 74.25,321.2 74.5,321.1 74.75,321.3 75.0,321.2 75.25,321.3 75.5,321.3 75.75,321.3 76.0,321.3 76.25,321.3 76.5,321.1 76.75,321.2 77.0,321.1 77.25,321.2 77.5,321.3 77.75,321.3 78.0,321.3 78.25,321.3 78.5,321.3 78.75,321.4 79.0,321.2 79.25,321.2 79.5,321.1 79.75,321.2 80.0,321.3 80.25,321.2 80.5,321.3 80.75,321.3 81.0,321.2 81.25,321.1 81.5,321.1 81.75,321.2 82.0,321.3 82.25,321.1 82.5,321.0 82.75,321.1 83.0,321.1 83.25,321.0 83.5,320.9 83.75,320.8 84.0,320.8 84.25,320.9 84.5,320.9 84.75,320.8 85.0,320.6 85.25,320.2 85.5,319.8 85.75,319.5 86.0,319.1 86.25,319.1 86.5,319.0 86.75,319.1 87.0,319.4 87.25,319.7 87.5,320.2 87.75,320.4 88.0,320.7 88.25,320.7 88.5,320.8 88.75,320.8 89.0,320.9 89.25,320.9 89.5,321.0 89.75,320.9 90.0,320.8 90.25,320.8 90.5,320.7 90.75,320.8 91.0,320.9 91.25,320.7 91.5,320.4 91.75,320.1 92.0,319.7 92.25,319.4 92.5,319.0 92.75,318.9 93.0,319.1 93.25,319.4 93.5,319.7 93.75,320.2 94.0,320.5 94.25,320.6 94.5,320.8 94.75,320.7 95.0,320.6 95.25,320.6 95.5,320.6 95.75,320.2 96.0,319.9 96.25,318.9 96.5,317.5 96.75,315.9 97.0,314.1 97.25,313.2 97.5,313.7 97.75,315.3 98.0,317.0 98.25,318.6 98.5,319.4 98.75,319.9 99.0,320.3 99.25,320.5 99.5,320.4 99.75,320.5 100.0,320.5 100.25,320.2 100.5,319.9 100.75,319.6 101.0,319.0 101.25,318.5 101.5,318.5 101.75,318.5 102.0,319.0 102.25,319.4 102.5,319.8 102.75,320.2 103.0,320.3 103.25,320.4 103.5,320.4 103.75,320.6 104.0,320.8 104.25,320.8 104.5,320.6 104.75,320.7 105.0,320.7 105.25,320.6 105.5,320.6 105.75,320.7 106.0,320.8 106.25,320.7 106.5,320.7 106.75,320.8 107.0,320.6 107.25,320.8 107.5,320.8 107.75,320.6 108.0,320.7 108.25,320.6 108.5,320.6 108.75,320.5 109.0,320.3 109.25,320.2 109.5,320.2 109.75,320.1 110.0,319.9 110.25,319.6 110.5,318.9 110.75,318.1 111.0,316.9 111.25,315.7 111.5,314.7 111.75,314.4 112.0,314.8 112.25,315.9 112.5,317.3 112.75,318.3 113.0,318.9 113.25,318.9 113.5,318.7 113.75,318.1 114.0,317.6 114.25,317.0 114.5,316.6 114.75,316.9 115.0,317.6 115.25,318.2 115.5,318.9 115.75,319.3 116.0,319.3 116.25,318.9 116.5,318.3 116.75,317.9 117.0,317.8 117.25,318.1 117.5,318.6 117.75,319.1 118.0,319.5 118.25,320.0 118.5,320.1 118.75,320.2 119.0,320.4 119.25,320.4 119.5,320.5 119.75,320.4 120.0,320.3 120.25,320.3 120.5,320.5 120.75,320.5 121.0,320.5 121.25,320.5 121.5,320.6 121.75,320.4 122.0,320.4 122.25,320.5 122.5,320.6 122.75,320.5 123.0,320.6 123.25,320.6 123.5,320.6 123.75,320.5 124.0,320.6 124.25,320.7 124.5,320.7 124.75,320.6 125.0,320.6 125.25,320.5 125.5,320.4 125.75,320.3 126.0,319.9 126.25,319.7 126.5,319.3 126.75,319.1 127.0,318.8 127.25,318.8 127.5,319.0 127.75,319.2 128.0,319.2 128.25,319.2 128.5,319.1 128.75,318.8 129.0,318.4 129.25,317.8 129.5,316.8 129.75,314.7 130.0,310.9 130.25,305.0 130.5,297.2 130.75,288.8 131.0,282.8 131.25,281.2 131.5,281.1 131.75,281.0 132.0,280.9 132.25,281.0 132.5,284.6 132.75,291.8 133.0,300.0 133.25,307.2 133.5,312.0 133.75,314.8 134.0,316.3 134.25,316.6 134.5,316.4 134.75,316.1 135.0,315.8 135.25,315.5 135.5,315.5 135.75,315.7 136.0,316.4 136.25,317.2 136.5,318.0 136.75,318.8 137.0,319.3 137.25,319.5 137.5,319.8 137.75,319.8 138.0,319.8 138.25,319.8 138.5,319.7 138.75,319.4 139.0,319.1 139.25,318.4 139.5,317.9 139.75,317.5 140.0,317.1 140.25,316.8 140.5,316.8 140.75,317.1 141.0,317.5 141.25,318.0 141.5,318.6 141.75,319.0 142.0,319.3 142.25,319.6 142.5,320.0 142.75,320.1 143.0,320.1 143.25,320.3 143.5,320.4 143.75,320.4 144.0,320.4 144.25,320.4 144.5,320.5 144.75,320.5 145.0,320.5 145.25,320.4 145.5,320.5 145.75,320.5 146.0,320.4 146.25,320.3 146.5,320.4 146.75,320.3 147.0,320.3 147.25,320.5 147.5,320.4 147.75,320.3 148.0,320.4 148.25,320.4 148.5,320.4 148.75,320.5 149.0,320.6 149.25,320.7 149.5,320.6 149.75,320.5 150.0,320.4 150.25,320.5 150.5,320.6 150.75,320.6 151.0,320.7 151.25,320.8 151.5,320.7 151.75,320.7 152.0,320.6 152.25,320.5 152.5,320.4 152.75,320.4 153.0,320.6 153.25,320.7 153.5,320.7 153.75,320.6 154.0,320.6 154.25,320.7 154.5,320.6 154.75,320.7 155.0,320.6 155.25,320.7 155.5,320.7 155.75,320.6 156.0,320.6 156.25,320.6 156.5,320.7 156.75,320.7 157.0,320.7 157.25,320.8 157.5,320.6 157.75,320.6 158.0,320.5 158.25,320.5 158.5,320.5 158.75,320.5 159.0,320.6 159.25,320.7 159.5,320.8 159.75,320.9 160.0,320.7 160.25,320.5 160.5,320.6 160.75,320.5 161.0,320.6 161.25,320.7 161.5,320.8 161.75,320.7 162.0,320.7 162.25,320.6 162.5,320.6 162.75,320.7 163.0,320.5 163.25,320.5 163.5,320.6 163.75,320.7 164.0,320.8 164.25,320.7 164.5,320.6 164.75,320.7 165.0,320.8 165.25,320.6 165.5,320.6 165.75,320.6 166.0,320.7 166.25,320.6 166.5,320.6 166.75,320.6 167.0,320.6 167.25,320.7 167.5,320.6 167.75,320.5 168.0,320.3 168.25,319.9 168.5,319.2 168.75,318.2 169.0,317.3 169.25,316.5 169.5,316.3 169.75,317.0 170.0,318.0 170.25,318.9 170.5,319.8 170.75,320.3 171.0,320.4 171.25,320.5 171.5,320.4 171.75,320.5 172.0,320.7 172.25,320.7 172.5,320.8 172.75,320.8 173.0,320.9 173.25,320.8 173.5,320.7 173.75,320.7 174.0,320.7 174.25,320.8 174.5,320.7 174.75,320.9 175.0,320.9 175.25,320.9 175.5,320.8 175.75,320.8 176.0,320.7 176.25,320.7 176.5,320.8 176.75,320.7 177.0,320.8 177.25,320.8 177.5,320.8 177.75,320.7 178.0,320.7 178.25,320.5 178.5,320.1 178.75,319.3 179.0,318.8 179.25,318.3 179.5,318.3 179.75,318.7 180.0,319.2 180.25,319.9 180.5,320.4 180.75,320.7 181.0,320.6 181.25,320.7 181.5,320.7 181.75,320.7 182.0,320.7 182.25,320.7 182.5,320.7 182.75,320.7 183.0,320.7 183.25,320.8 183.5,320.6 183.75,320.4 184.0,320.3 184.25,320.0 184.5,319.8 184.75,319.2 185.0,318.5 185.25,317.5 185.5,316.5 185.75,315.8 186.0,315.5 186.25,315.9 186.5,316.7 186.75,317.7 187.0,318.6 187.25,319.3 187.5,319.8 187.75,320.3 188.0,320.4 188.25,320.6 188.5,320.7 188.75,320.7 189.0,320.8 189.25,321.0 189.5,320.9 189.75,320.9 190.0,321.1 190.25,321.0 190.5,320.9 190.75,321.0 191.0,321.0 191.25,320.9 191.5,321.0 191.75,321.0 192.0,320.9 192.25,320.9 192.5,320.8 192.75,321.0 193.0,320.9 193.25,321.0 193.5,321.1 193.75,321.0 194.0,321.1 194.25,321.1 194.5,321.0 194.75,321.1 195.0,321.1 195.25,321.1 195.5,321.1 195.75,321.0 196.0,321.0 196.25,321.0 196.5,320.9 196.75,320.9 197.0,321.0 197.25,320.9 197.5,320.7 197.75,320.6 198.0,320.2 198.25,320.0 198.5,319.6 198.75,319.4 199.0,319.3 199.25,319.4 199.5,319.8 199.75,320.1 200.0,320.4 200.25,320.6 200.5,320.7 200.75,320.9 201.0,321.0 201.25,321.0 201.5,320.9 201.75,321.0 202.0,320.9 202.25,320.9 202.5,321.0 202.75,321.0 203.0,321.1 203.25,321.1 203.5,321.2 203.75,321.2 204.0,321.2 204.25,321.0 204.5,321.0 204.75,321.0 205.0,320.9 205.25,321.0 205.5,320.9 205.75,321.0 206.0,321.1 206.25,321.0 206.5,320.9 206.75,320.8 207.0,320.8 207.25,320.8 207.5,321.0 207.75,321.0 208.0,321.0 208.25,321.0 208.5,321.0 208.75,321.0 209.0,321.1 209.25,321.0 209.5,321.2 209.75,321.0 210.0,321.0 210.25,321.2 210.5,321.1 210.75,320.9 211.0,321.1 211.25,321.2 211.5,321.2 211.75,321.1 212.0,321.1 212.25,321.0 212.5,321.1 212.75,321.2 213.0,321.0 213.25,321.0 213.5,321.0 213.75,321.0 214.0,320.9 214.25,320.9 214.5,320.9 214.75,321.1 215.0,321.2 215.25,321.2 215.5,321.1 215.75,321.1 216.0,321.1 216.25,320.9 216.5,321.0 216.75,321.1 217.0,321.0 217.25,320.9 217.5,320.9 217.75,321.1 218.0,321.2 218.25,321.1 218.5,320.9 218.75,321.0 219.0,321.1 219.25,321.2 219.5,321.0 219.75,320.9 220.0,321.1 220.25,321.1 220.5,321.0 220.75,321.1 221.0,321.0 221.25,321.1 221.5,321.1 221.75,321.0 222.0,320.8 222.25,320.7 222.5,320.7 222.75,320.6 223.0,320.3 223.25,320.0 223.5,319.9 223.75,319.7 224.0,319.8 224.25,319.8 224.5,319.9 224.75,320.2 225.0,320.4 225.25,320.7 225.5,320.6 225.75,320.9 226.0,321.0 226.25,320.9 226.5,321.1 226.75,321.1 227.0,321.1 227.25,321.0 227.5,320.9 227.75,321.1 228.0,321.1 228.25,321.2 228.5,321.2 228.75,321.2 229.0,321.1 229.25,321.1 229.5,321.2 229.75,321.3 230.0,321.4 230.25,321.3 230.5,321.4 230.75,321.4 231.0,321.2 231.25,321.0 231.5,321.2 231.75,321.0 232.0,321.1 232.25,321.2 232.5,321.1 232.75,321.2 233.0,321.1 233.25,321.0 233.5,321.1 233.75,321.0 234.0,321.0 234.25,321.0 234.5,320.9 234.75,321.0 235.0,321.0 235.25,321.0 235.5,321.1 235.75,321.0 236.0,321.2 236.25,321.2 236.5,321.2 236.75,321.3 237.0,321.2 237.25,321.2 237.5,321.2 237.75,321.2 238.0,321.2 238.25,321.1 238.5,321.2 238.75,321.2 239.0,321.2 239.25,321.3 239.5,321.3 239.75,321.2 240.0,321.2 240.25,321.3 240.5,321.4 240.75,321.4 241.0,321.3 241.25,321.2 241.5,321.2 241.75,321.2 242.0,321.1 242.25,321.3 242.5,321.2 242.75,321.3 243.0,321.2 243.25,321.3 243.5,321.3 243.75,321.2 244.0,321.3 244.25,321.3 244.5,321.1 244.75,321.3 245.0,321.2 245.25,321.2 245.5,321.3 245.75,321.2 246.0,321.3 246.25,321.3 246.5,321.1 246.75,321.1 247.0,321.2 247.25,321.3 247.5,321.4 247.75,321.4 248.0,321.4 248.25,321.3 248.5,321.2 248.75,321.1 249.0,321.3 249.25,321.2 249.5,321.2 249.75,321.1 250.0,321.1 250.25,321.2 250.5,321.3 250.75,321.2 251.0,321.2 251.25,321.2 251.5,321.1 251.75,321.0 252.0,321.0 252.25,321.0 252.5,321.2 252.75,321.2 253.0,321.4 253.25,321.3 253.5,321.3 253.75,321.3 254.0,321.4 254.25,321.5 254.5,321.4 254.75,321.3 255.0,321.2 255.25,321.2 255.5,321.1 255.75,321.2 256.0,321.2 256.25,321.2 256.5,321.3 256.75,321.2 257.0,321.3 257.25,321.1 257.5,321.1 257.75,321.3 258.0,321.4 258.25,321.3 258.5,321.3 258.75,321.3 259.0,321.2 259.25,321.1 259.5,321.1 259.75,321.1 260.0,321.1 260.25,321.3 260.5,321.3 260.75,321.2 261.0,321.1 261.25,321.1 261.5,321.2 261.75,321.1 262.0,321.2 262.25,321.0 262.5,321.1 262.75,321.2 263.0,321.1 263.25,321.0 263.5,320.9 263.75,320.6 264.0,320.4 264.25,320.1 264.5,319.9 264.75,319.6 265.0,319.6 265.25,319.7 265.5,319.9 265.75,320.3 266.0,320.5 266.25,320.7 266.5,321.0 266.75,321.0 267.0,321.0 267.25,321.2 267.5,321.1 267.75,321.3 268.0,321.2 268.25,321.4 268.5,321.2 268.75,321.4 269.0,321.3 269.25,321.4 269.5,321.3 269.75,321.3 270.0,321.2 270.25,321.2 270.5,321.2 270.75,321.1 271.0,321.0 271.25,321.1 271.5,321.0 271.75,321.2 272.0,321.1 272.25,321.2 272.5,321.3 272.75,321.3 273.0,321.1 273.25,321.1 273.5,320.8 273.75,320.7 274.0,320.4 274.25,320.3 274.5,320.1 274.75,319.9 275.0,319.3 275.25,318.5 275.5,317.6 275.75,316.3 276.0,314.9 276.25,313.3 276.5,311.6 276.75,310.2 277.0,309.2 277.25,308.9 277.5,309.0 277.75,309.7 278.0,311.0 278.25,312.7 278.5,314.3 278.75,315.9 279.0,317.1 279.25,318.2 279.5,318.9 279.75,319.5 280.0,319.8 280.25,319.6 280.5,319.2 280.75,318.6 281.0,318.1 281.25,318.0 281.5,318.4 281.75,319.0 282.0,319.9 282.25,320.5 282.5,320.7 282.75,320.9 283.0,321.0 283.25,321.1 283.5,321.3 283.75,321.3 284.0,321.4 284.25,321.4 284.5,321.3 284.75,321.2 285.0,321.3 285.25,321.4 285.5,321.4 285.75,321.3 286.0,321.3 286.25,321.3 286.5,321.4 286.75,321.3 287.0,321.3 287.25,321.3 287.5,321.4 287.75,321.3 288.0,321.4 288.25,321.5 288.5,321.4 288.75,321.4 289.0,321.5 289.25,321.4 289.5,321.5 289.75,321.4 290.0,321.6 290.25,321.6 290.5,321.4 290.75,321.3 291.0,321.3 291.25,321.4 291.5,321.4 291.75,321.4 292.0,321.4 292.25,321.3 292.5,321.3 292.75,321.4 293.0,321.3 293.25,321.5 293.5,321.6 293.75,321.5 294.0,321.6 294.25,321.6 294.5,321.4 294.75,321.6 295.0,321.6 295.25,321.6 295.5,321.6 295.75,321.5 296.0,321.4 296.25,321.4 296.5,321.6 296.75,321.6 297.0,321.5 297.25,321.5 297.5,321.5 297.75,321.6 298.0,321.7 298.25,321.6 298.5,321.6 298.75,321.6 299.0,321.5 299.25,321.4 299.5,321.6 299.75,321.6 300.0,321.6 300.25,321.6 300.5,321.7 300.75,321.7 301.0,321.7 301.25,321.5 301.5,321.4 301.75,321.4 302.0,321.3 302.25,321.4 302.5,321.5 302.75,321.4 303.0,321.4 303.25,321.5 303.5,321.5 303.75,321.6 304.0,321.7 304.25,321.5 304.5,321.5 304.75,321.5 305.0,321.6 305.25,321.6 305.5,321.7 305.75,321.5 306.0,321.4 306.25,321.6 306.5,321.6 306.75,321.5 307.0,321.4 307.25,321.6 307.5,321.6 307.75,321.6 308.0,321.5 308.25,321.5 308.5,321.4 308.75,321.6 309.0,321.6 309.25,321.6 309.5,321.7 309.75,321.7 310.0,321.5 310.25,321.4 310.5,321.6 310.75,321.7 311.0,321.7 311.25,321.7 311.5,321.7 311.75,321.6 312.0,321.6 312.25,321.5 312.5,321.6 312.75,321.7 313.0,321.6 313.25,321.6 313.5,321.6 313.75,321.6 314.0,321.5 314.25,321.5 314.5,321.4 314.75,321.3 315.0,321.3 315.25,321.2 315.5,321.0 315.75,320.5 316.0,320.1 316.25,319.9 316.5,319.8 316.75,319.8 317.0,319.9 317.25,320.1 317.5,320.6 317.75,320.8 318.0,321.0 318.25,321.3 318.5,321.2 318.75,321.2 319.0,321.5 319.25,321.4 319.5,321.6 319.75,321.5 320.0,321.5 320.25,321.5 320.5,321.5 320.75,321.4 321.0,321.6 321.25,321.7 321.5,321.7 321.75,321.8 322.0,321.6 322.25,321.5 322.5,321.4 322.75,321.6 323.0,321.7 323.25,321.8 323.5,321.9 323.75,321.7 324.0,321.8 324.25,321.8 324.5,321.8 324.75,321.7 325.0,321.6 325.25,321.6 325.5,321.7 325.75,321.7 326.0,321.7 326.25,321.7 326.5,321.8 326.75,321.7 327.0,321.6 327.25,321.7 327.5,321.7 327.75,321.8 328.0,321.9 328.25,321.6 328.5,321.5 328.75,321.5 329.0,321.5 329.25,321.4 329.5,321.6 329.75,321.5 330.0,321.5 330.25,321.5 330.5,321.6 330.75,321.5 331.0,321.6 331.25,321.6 331.5,321.6 331.75,321.7 332.0,321.6 332.25,321.6 332.5,321.7 332.75,321.7 333.0,321.8 333.25,321.7 333.5,321.7 333.75,321.6 334.0,321.7 334.25,321.7 334.5,321.7 334.75,321.8 335.0,321.9 335.25,321.8 335.5,321.6 335.75,321.5 336.0,321.6 336.25,321.6 336.5,321.7 336.75,321.8 337.0,321.9 337.25,321.7 337.5,321.6 337.75,321.7 338.0,321.6 338.25,321.6 338.5,321.6 338.75,321.6 339.0,321.6 339.25,321.8 339.5,321.7 339.75,321.6 340.0,321.8 340.25,321.8 340.5,321.6 340.75,321.8 341.0,321.8 341.25,321.9 341.5,321.8 341.75,321.8 342.0,321.7 342.25,321.5 342.5,321.5 342.75,321.7 343.0,321.6 343.25,321.7 343.5,321.7 343.75,321.8 344.0,321.8 344.25,321.8 344.5,321.7 344.75,321.8 345.0,321.7 345.25,321.8 345.5,321.8 345.75,321.5 346.0,321.4 346.25,321.2 346.5,321.1 346.75,320.9 347.0,320.8 347.25,320.6 347.5,320.6 347.75,320.5 348.0,320.7 348.25,320.8 348.5,320.9 348.75,321.2 349.0,321.5 349.25,321.6 349.5,321.7 349.75,321.7 350.0,321.6 350.25,321.6 350.5,321.7 350.75,321.6 351.0,321.6 351.25,321.7 351.5,321.7 351.75,321.7 352.0,321.7 352.25,321.8 352.5,321.8 352.75,321.7 353.0,321.6 353.25,321.8 353.5,321.9 353.75,321.7 354.0,321.6 354.25,321.6 354.5,321.6 354.75,321.6 355.0,321.6 355.25,321.7 355.5,321.9 355.75,321.8 356.0,321.7 356.25,321.9 356.5,321.7 356.75,321.8 357.0,321.7 357.25,321.7 357.5,321.7 357.75,321.6 358.0,321.6 358.25,321.7 358.5,321.7 358.75,321.7 359.0,321.8 359.25,321.9 359.5,322.0 359.75,322.0 360.0,322.0 360.25,321.8 360.5,321.7 360.75,321.7 361.0,321.8 361.25,321.6 361.5,321.8 361.75,321.8 362.0,321.8 362.25,321.8 362.5,321.7 362.75,321.9 363.0,321.8 363.25,321.9 363.5,321.9 363.75,322.0 364.0,321.8 364.25,321.7 364.5,321.8 364.75,321.7 365.0,321.7 365.25,321.8 365.5,321.7 365.75,321.9 366.0,322.0 366.25,321.8 366.5,321.7 366.75,321.9 367.0,321.9 367.25,322.0 367.5,321.9 367.75,321.9 368.0,321.8 368.25,321.7 368.5,321.9 368.75,322.0 369.0,321.9 369.25,322.0 369.5,321.9 369.75,321.8 370.0,321.8 370.25,321.7 370.5,321.7 370.75,321.7 371.0,321.6 371.25,321.5 371.5,321.3 371.75,321.0 372.0,320.7 372.25,320.2 372.5,319.3 372.75,318.5 373.0,317.8 373.25,317.6 373.5,318.0 373.75,318.6 374.0,319.5 374.25,320.4 374.5,320.9 374.75,321.2 375.0,321.5 375.25,321.6 375.5,321.5 375.75,321.7 376.0,321.7 376.25,321.7 376.5,321.8 376.75,321.8 377.0,321.8 377.25,321.9 377.5,322.0 377.75,321.8 378.0,321.9 378.25,321.7 378.5,321.9 378.75,321.7 379.0,321.8 379.25,321.8 379.5,321.9 379.75,321.8 380.0,321.8 380.25,321.7 380.5,321.8 380.75,321.8 381.0,321.8 381.25,321.8 381.5,321.7 381.75,321.8 382.0,321.9 382.25,321.9 382.5,322.0 382.75,322.1 383.0,322.0 383.25,322.0 383.5,321.9 383.75,322.0 384.0,321.9 384.25,322.0 384.5,322.0 384.75,321.9 385.0,322.0 385.25,322.1 385.5,322.0 385.75,322.0 386.0,322.0 386.25,321.9 386.5,321.9 386.75,322.0 387.0,322.0 387.25,322.1 387.5,322.1 387.75,321.9 388.0,321.8 388.25,321.7 388.5,321.7 388.75,321.8 389.0,321.7 389.25,321.9 389.5,321.8 389.75,321.8 390.0,322.0 390.25,322.0 390.5,321.9 390.75,322.1 391.0,322.0 391.25,322.1 391.5,321.9 391.75,321.9 392.0,321.9 392.25,321.8 392.5,321.8 392.75,322.0 393.0,321.8 393.25,321.8 393.5,321.8 393.75,321.8 394.0,321.9 394.25,322.0 394.5,321.9 394.75,322.0 395.0,322.0 395.25,321.9 395.5,322.0 395.75,322.0 396.0,321.9 396.25,321.8 396.5,321.6 396.75,321.1 397.0,320.2 397.25,319.3 397.5,318.4 397.75,317.8 398.0,318.2 398.25,319.0 398.5,319.9 398.75,320.8 399.0,321.3 399.25,321.6 399.5,321.6 399.75,321.8 400.0,321.8 400.25,321.9 400.5,321.9 400.75,322.1 401.0,322.0 401.25,322.0 401.5,321.8 401.75,322.0 402.0,322.1 402.25,322.0 402.5,322.0 402.75,322.0 403.0,322.0 403.25,321.9 403.5,321.9 403.75,322.0 404.0,322.0 404.25,321.9 404.5,321.9 404.75,321.8 405.0,322.0 405.25,322.1 405.5,321.9 405.75,322.0 406.0,322.0 406.25,322.1 406.5,322.1 406.75,322.1 407.0,322.1 407.25,321.9 407.5,321.9 407.75,321.9 408.0,321.9 408.25,321.9 408.5,321.8 408.75,322.0 409.0,321.9 409.25,321.9 409.5,321.8 409.75,321.9 410.0,321.8 410.25,321.8 410.5,321.8 410.75,321.8 411.0,321.9 411.25,321.8 411.5,321.8 411.75,321.7 412.0,321.8 412.25,321.9 412.5,322.0 412.75,321.9 413.0,321.8 413.25,321.7 413.5,321.7 413.75,321.7 414.0,321.7 414.25,321.9 414.5,321.9 414.75,321.8 415.0,321.7 415.25,321.9 415.5,321.9 415.75,321.9 416.0,322.0 416.25,321.8 416.5,321.8 416.75,321.7 417.0,321.7 417.25,321.6 417.5,321.7 417.75,321.8 418.0,321.9 418.25,321.9 418.5,321.7 418.75,321.7 419.0,321.8 419.25,321.8 419.5,321.7 419.75,321.5 420.0,321.4 420.25,321.0 420.5,320.5 420.75,319.5 421.0,318.6 421.25,318.1 421.5,318.1 421.75,318.6 422.0,319.4 422.25,320.2 422.5,321.0 422.75,321.3 423.0,321.6 423.25,321.8 423.5,321.9 423.75,321.9 424.0,322.0 424.25,321.8 424.5,321.7 424.75,321.8 425.0,321.8 425.25,321.8 425.5,321.7 425.75,321.7 426.0,321.7 426.25,321.6 426.5,321.6 426.75,321.5 427.0,321.6 427.25,321.5 427.5,321.5 427.75,321.7 428.0,321.8 428.25,321.9 428.5,321.8 428.75,321.8 429.0,321.7 429.25,321.7 429.5,321.7 429.75,321.6 430.0,321.7 430.25,321.7 430.5,321.6 430.75,321.7 431.0,321.8 431.25,321.7 431.5,321.8 431.75,321.9 432.0,321.9 432.25,321.9 432.5,321.9 432.75,321.8 433.0,321.8 433.25,321.7 433.5,321.6 433.75,321.7 434.0,321.6 434.25,321.7 434.5,321.7 434.75,321.7 435.0,321.7 435.25,321.6 435.5,321.5 435.75,321.3 436.0,321.1 436.25,320.8 436.5,320.5 436.75,320.2 437.0,320.0 437.25,320.1 437.5,320.3 437.75,320.7 438.0,321.1 438.25,321.4 438.5,321.4 438.75,321.5 439.0,321.5 439.25,321.5 439.5,321.6 439.75,321.5 440.0,321.7 440.25,321.7 440.5,321.6 440.75,321.6 441.0,321.6 441.25,321.6 441.5,321.7 441.75,321.5 442.0,321.7 442.25,321.5 442.5,321.6 442.75,321.7 443.0,321.8 443.25,321.6 443.5,321.5 443.75,321.7 444.0,321.6 444.25,321.5 444.5,321.5 444.75,321.6 445.0,321.6 445.25,321.7 445.5,321.7 445.75,321.5 446.0,321.7 446.25,321.7 446.5,321.6 446.75,321.6 447.0,321.7 447.25,321.8 447.5,321.6 447.75,321.6 448.0,321.6 448.25,321.5 448.5,321.5 448.75,321.4 449.0,321.4 449.25,321.5 449.5,321.7 449.75,321.6 450.0,321.6 450.25,321.7 450.5,321.6 450.75,321.7 451.0,321.7 451.25,321.7 451.5,321.6 451.75,321.6 452.0,321.6 452.25,321.5 452.5,321.4 452.75,321.4 453.0,321.5 453.25,321.5 453.5,321.6 453.75,321.6 454.0,321.6 454.25,321.5 454.5,321.6 454.75,321.5 455.0,321.6 455.25,321.4 455.5,321.4 455.75,321.6 456.0,321.5 456.25,321.5 456.5,321.6 456.75,321.6 457.0,321.6 457.25,321.6 457.5,321.5 457.75,321.4 458.0,321.6 458.25,321.6 458.5,321.6 458.75,321.5 459.0,321.4 459.25,321.4 459.5,321.3 459.75,321.5 460.0,321.4 460.25,321.6 460.5,321.5 460.75,321.5 461.0,321.5 461.25,321.4 461.5,321.4 461.75,321.4 462.0,321.5 462.25,321.4 462.5,321.4 462.75,321.5 463.0,321.3 463.25,321.2 463.5,321.3 463.75,321.3 464.0,321.2 464.25,321.1 464.5,321.0 464.75,321.1 465.0,321.0 465.25,321.0 465.5,321.0 465.75,321.2 466.0,321.1 466.25,321.1 466.5,321.1 466.75,320.9 467.0,320.9 467.25,320.8 467.5,320.8 467.75,320.9 468.0,321.1 468.25,320.9 468.5,320.9 468.75,320.9 469.0,320.9 469.25,320.9 469.5,320.7 469.75,320.6 470.0,320.6 470.25,320.7 470.5,320.6 470.75,320.5 471.0,320.5 471.25,320.5 471.5,320.6 471.75,320.7 472.0,320.7 472.25,320.6 472.5,320.7 472.75,320.6 473.0,320.5 473.25,320.5 473.5,320.5 473.75,320.5 474.0,320.4 474.25,320.4 474.5,320.4 474.75,320.3 475.0,320.3 475.25,320.4 475.5,320.4 475.75,320.3 476.0,320.4 476.25,320.4 476.5,320.4 476.75,320.2 477.0,320.3 477.25,320.3 477.5,320.1 477.75,320.1 478.0,320.1 478.25,320.1 478.5,320.1 478.75,320.2 479.0,320.3 479.25,320.3 479.5,320.1 479.75,320.1 480.0,320.1 480.25,320.0 480.5,320.0 480.75,320.1 481.0,320.0 481.25,319.8 481.5,319.9 481.75,319.8 482.0,319.8 482.25,319.7 482.5,319.8 482.75,319.9 483.0,319.9 483.25,319.8 483.5,319.8 483.75,319.7 484.0,319.8 484.25,319.7 484.5,319.6 484.75,319.7 485.0,319.8 485.25,319.6 485.5,319.5 485.75,319.6 486.0,319.7 486.25,319.7 486.5,319.6 486.75,319.7 487.0,319.7 487.25,319.6 487.5,319.4 487.75,319.4 488.0,319.3 488.25,319.3 488.5,319.4 488.75,319.4 489.0,319.3 489.25,319.4 489.5,319.3 489.75,319.4 490.0,319.2 490.25,319.3 490.5,319.4 490.75,319.2 491.0,319.2 491.25,319.3 491.5,319.2 491.75,319.2 492.0,319.2 492.25,319.0 492.5,318.9 492.75,318.9 493.0,318.9 493.25,318.8 493.5,319.0 493.75,318.9 494.0,319.1 494.25,319.0 494.5,318.9 494.75,318.8 495.0,318.8 495.25,318.9 495.5,319.0 495.75,319.0 496.0,319.0 496.25,318.8 496.5,318.7 496.75,318.7 497.0,318.7 497.25,318.7 497.5,318.8 497.75,318.6 498.0,318.5 498.25,318.6 498.5,318.7 498.75,318.7 499.0,318.8 499.25,318.6 499.5,318.6 499.75,318.7 500.0,318.6 500.25,318.6 500.5,318.4 500.75,318.4 501.0,318.3 501.25,318.3 501.5,318.1 501.75,318.0 502.0,318.1 502.25,318.2 502.5,318.1 502.75,318.1 503.0,318.1 503.25,318.2 503.5,318.0 503.75,318.0 504.0,317.8 504.25,317.7 504.5,317.8 504.75,317.8 505.0,317.8 505.25,317.8 505.5,317.6 505.75,317.6 506.0,317.5 506.25,317.3 506.5,317.2 506.75,317.1 507.0,317.2 507.25,317.0 507.5,317.1 507.75,317.2 508.0,316.9 508.25,316.9 508.5,316.9 508.75,316.6 509.0,316.4 509.25,316.1 509.5,315.9 509.75,315.8 510.0,315.6 510.25,315.5 510.5,315.8 510.75,315.9 511.0,316.0 511.25,316.2 511.5,316.4 511.75,316.4 512.0,316.5 512.25,316.5 512.5,316.4 512.75,316.3 513.0,316.3 513.25,316.2 513.5,316.0 513.75,316.1 514.0,316.0 514.25,316.0 514.5,316.1 514.75,316.0 515.0,315.8 515.25,315.9 515.5,315.9 515.75,315.9 516.0,315.8 516.25,315.7 516.5,315.6 516.75,315.6 517.0,315.5 517.25,315.6 517.5,315.6 517.75,315.3 518.0,315.2 518.25,315.3 518.5,315.1 518.75,315.2 519.0,315.2 519.25,315.1 519.5,314.9 519.75,315.0 520.0,315.1 520.25,314.9 520.5,314.8 520.75,314.8 521.0,314.8 521.25,314.8 521.5,314.7 521.75,314.7 522.0,314.7 522.25,314.5 522.5,314.6 522.75,314.5 523.0,314.4 523.25,314.4 523.5,314.5 523.75,314.4 524.0,314.4 524.25,314.4 524.5,314.3 524.75,314.2 525.0,314.0 525.25,314.1 525.5,313.9 525.75,314.0 526.0,314.1 526.25,313.9 526.5,313.7 526.75,313.7 527.0,313.7 527.25,313.6 527.5,313.7 527.75,313.7 528.0,313.6 528.25,313.6 528.5,313.5 528.75,313.4 529.0,313.3 529.25,313.2 529.5,313.1 529.75,313.2 530.0,313.3 530.25,313.2 530.5,313.2 530.75,313.1 531.0,313.0 531.25,313.0 531.5,313.1 531.75,312.9 532.0,312.8 532.25,312.7 532.5,312.7 532.75,312.8 533.0,312.8 533.25,312.9 533.5,312.7 533.75,312.5 534.0,312.6 534.25,312.5 534.5,312.5 534.75,312.4 535.0,312.5 535.25,312.4 535.5,312.2 535.75,312.3 536.0,312.2 536.25,312.3 536.5,312.0 536.75,312.1 537.0,311.9 537.25,311.8 537.5,311.8 537.75,311.9 538.0,312.0 538.25,311.9 538.5,311.8 538.75,311.6 539.0,311.7 539.25,311.5 539.5,311.5 539.75,311.4 540.0,311.3 540.25,311.2 540.5,311.4 540.75,311.3 541.0,311.3 541.25,311.2 541.5,311.1 541.75,311.0 542.0,311.0 542.25,311.1 542.5,311.1 542.75,310.9 543.0,311.0 543.25,310.9 543.5,310.9 543.75,310.8 544.0,310.8 544.25,310.8 544.5,310.6" fill="none" stroke="#cf55cf" stroke-width="1.2" stroke-linejoin="round"/>
<g stroke="#ff4763" stroke-width="0.95" fill="none" stroke-linecap="round" stroke-linejoin="round">
<line x1="278.0" y1="284.3" x2="278.0" y2="306.7"/><polyline points="275.6,303.0 278.0,306.7 280.4,303.0"/>
</g>
<text class="lb" x="40.54" y="289.0" textLength="10.31" lengthAdjust="spacingAndGlyphs">1-2</text>
<text class="lb" x="128.63" y="277.0" textLength="7.74" lengthAdjust="spacingAndGlyphs">24</text>
<text class="lb" x="274.43" y="282.6" textLength="7.74" lengthAdjust="spacingAndGlyphs">63</text>
<rect x="33" y="329.5" width="511.5" height="7" fill="#f3f3f3"/>
<rect x="33" y="328.6" width="512.0" height="1.3" fill="#8a8a8a"/>
<rect x="44.65" y="329.6" width="0.7" height="1.4" fill="#777"/>
<text class="xl" x="43.75" y="335.8" textLength="2.9" lengthAdjust="spacingAndGlyphs">1</text>
<rect x="57.47" y="329.6" width="0.7" height="1.4" fill="#777"/>
<text class="xl" x="56.57" y="335.8" textLength="2.9" lengthAdjust="spacingAndGlyphs">2</text>
<rect x="70.29" y="329.6" width="0.7" height="1.4" fill="#777"/>
<text class="xl" x="69.39" y="335.8" textLength="2.9" lengthAdjust="spacingAndGlyphs">3</text>
<rect x="83.11" y="329.6" width="0.7" height="1.4" fill="#777"/>
<text class="xl" x="82.21" y="335.8" textLength="2.9" lengthAdjust="spacingAndGlyphs">4</text>
<rect x="95.93" y="329.6" width="0.7" height="1.4" fill="#777"/>
<text class="xl" x="95.03" y="335.8" textLength="2.9" lengthAdjust="spacingAndGlyphs">5</text>
<rect x="108.75" y="329.6" width="0.7" height="1.4" fill="#777"/>
<text class="xl" x="107.85" y="335.8" textLength="2.9" lengthAdjust="spacingAndGlyphs">6</text>
<rect x="121.57" y="329.6" width="0.7" height="1.4" fill="#777"/>
<text class="xl" x="120.67" y="335.8" textLength="2.9" lengthAdjust="spacingAndGlyphs">7</text>
<rect x="134.39" y="329.6" width="0.7" height="1.4" fill="#777"/>
<text class="xl" x="133.49" y="335.8" textLength="2.9" lengthAdjust="spacingAndGlyphs">8</text>
<rect x="147.21" y="329.6" width="0.7" height="1.4" fill="#777"/>
<text class="xl" x="146.31" y="335.8" textLength="2.9" lengthAdjust="spacingAndGlyphs">9</text>
<rect x="160.03" y="329.6" width="0.7" height="1.4" fill="#777"/>
<text class="xl" x="157.78" y="335.8" textLength="5.6" lengthAdjust="spacingAndGlyphs">10</text>
<rect x="172.85" y="329.6" width="0.7" height="1.4" fill="#777"/>
<text class="xl" x="170.60" y="335.8" textLength="5.6" lengthAdjust="spacingAndGlyphs">11</text>
<rect x="185.67" y="329.6" width="0.7" height="1.4" fill="#777"/>
<text class="xl" x="183.42" y="335.8" textLength="5.6" lengthAdjust="spacingAndGlyphs">12</text>
<rect x="198.49" y="329.6" width="0.7" height="1.4" fill="#777"/>
<text class="xl" x="196.24" y="335.8" textLength="5.6" lengthAdjust="spacingAndGlyphs">13</text>
<rect x="211.31" y="329.6" width="0.7" height="1.4" fill="#777"/>
<text class="xl" x="209.06" y="335.8" textLength="5.6" lengthAdjust="spacingAndGlyphs">14</text>
<rect x="224.13" y="329.6" width="0.7" height="1.4" fill="#777"/>
<text class="xl" x="221.88" y="335.8" textLength="5.6" lengthAdjust="spacingAndGlyphs">15</text>
<rect x="236.95" y="329.6" width="0.7" height="1.4" fill="#777"/>
<text class="xl" x="234.70" y="335.8" textLength="5.6" lengthAdjust="spacingAndGlyphs">16</text>
<rect x="249.77" y="329.6" width="0.7" height="1.4" fill="#777"/>
<text class="xl" x="247.52" y="335.8" textLength="5.6" lengthAdjust="spacingAndGlyphs">17</text>
<rect x="262.59" y="329.6" width="0.7" height="1.4" fill="#777"/>
<text class="xl" x="260.34" y="335.8" textLength="5.6" lengthAdjust="spacingAndGlyphs">18</text>
<rect x="275.41" y="329.6" width="0.7" height="1.4" fill="#777"/>
<text class="xl" x="273.16" y="335.8" textLength="5.6" lengthAdjust="spacingAndGlyphs">19</text>
<rect x="288.23" y="329.6" width="0.7" height="1.4" fill="#777"/>
<text class="xl" x="285.98" y="335.8" textLength="5.6" lengthAdjust="spacingAndGlyphs">20</text>
<rect x="301.05" y="329.6" width="0.7" height="1.4" fill="#777"/>
<text class="xl" x="298.80" y="335.8" textLength="5.6" lengthAdjust="spacingAndGlyphs">21</text>
<rect x="313.87" y="329.6" width="0.7" height="1.4" fill="#777"/>
<text class="xl" x="311.62" y="335.8" textLength="5.6" lengthAdjust="spacingAndGlyphs">22</text>
<rect x="326.69" y="329.6" width="0.7" height="1.4" fill="#777"/>
<text class="xl" x="324.44" y="335.8" textLength="5.6" lengthAdjust="spacingAndGlyphs">23</text>
<rect x="339.51" y="329.6" width="0.7" height="1.4" fill="#777"/>
<text class="xl" x="337.26" y="335.8" textLength="5.6" lengthAdjust="spacingAndGlyphs">24</text>
<rect x="352.33" y="329.6" width="0.7" height="1.4" fill="#777"/>
<text class="xl" x="350.08" y="335.8" textLength="5.6" lengthAdjust="spacingAndGlyphs">25</text>
<rect x="365.15" y="329.6" width="0.7" height="1.4" fill="#777"/>
<text class="xl" x="362.90" y="335.8" textLength="5.6" lengthAdjust="spacingAndGlyphs">26</text>
<rect x="377.97" y="329.6" width="0.7" height="1.4" fill="#777"/>
<text class="xl" x="375.72" y="335.8" textLength="5.6" lengthAdjust="spacingAndGlyphs">27</text>
<rect x="390.79" y="329.6" width="0.7" height="1.4" fill="#777"/>
<text class="xl" x="388.54" y="335.8" textLength="5.6" lengthAdjust="spacingAndGlyphs">28</text>
<rect x="403.61" y="329.6" width="0.7" height="1.4" fill="#777"/>
<text class="xl" x="401.36" y="335.8" textLength="5.6" lengthAdjust="spacingAndGlyphs">29</text>
<rect x="416.43" y="329.6" width="0.7" height="1.4" fill="#777"/>
<text class="xl" x="414.18" y="335.8" textLength="5.6" lengthAdjust="spacingAndGlyphs">30</text>
<rect x="429.25" y="329.6" width="0.7" height="1.4" fill="#777"/>
<text class="xl" x="427.00" y="335.8" textLength="5.6" lengthAdjust="spacingAndGlyphs">31</text>
<rect x="442.07" y="329.6" width="0.7" height="1.4" fill="#777"/>
<text class="xl" x="439.82" y="335.8" textLength="5.6" lengthAdjust="spacingAndGlyphs">32</text>
<rect x="454.89" y="329.6" width="0.7" height="1.4" fill="#777"/>
<text class="xl" x="452.64" y="335.8" textLength="5.6" lengthAdjust="spacingAndGlyphs">33</text>
<rect x="467.71" y="329.6" width="0.7" height="1.4" fill="#777"/>
<text class="xl" x="465.46" y="335.8" textLength="5.6" lengthAdjust="spacingAndGlyphs">34</text>
<rect x="480.53" y="329.6" width="0.7" height="1.4" fill="#777"/>
<text class="xl" x="478.28" y="335.8" textLength="5.6" lengthAdjust="spacingAndGlyphs">35</text>
<rect x="493.35" y="329.6" width="0.7" height="1.4" fill="#777"/>
<text class="xl" x="491.10" y="335.8" textLength="5.6" lengthAdjust="spacingAndGlyphs">36</text>
<rect x="506.17" y="329.6" width="0.7" height="1.4" fill="#777"/>
<text class="xl" x="503.92" y="335.8" textLength="5.6" lengthAdjust="spacingAndGlyphs">37</text>
<rect x="518.99" y="329.6" width="0.7" height="1.4" fill="#777"/>
<text class="xl" x="516.74" y="335.8" textLength="5.6" lengthAdjust="spacingAndGlyphs">38</text>
<rect x="531.81" y="329.6" width="0.7" height="1.4" fill="#777"/>
<text class="xl" x="529.56" y="335.8" textLength="5.6" lengthAdjust="spacingAndGlyphs">39</text>
<text class="rt" x="243.9" y="344.8" textLength="79" lengthAdjust="spacingAndGlyphs">Retention Time (min)</text>
</svg></body></html>
